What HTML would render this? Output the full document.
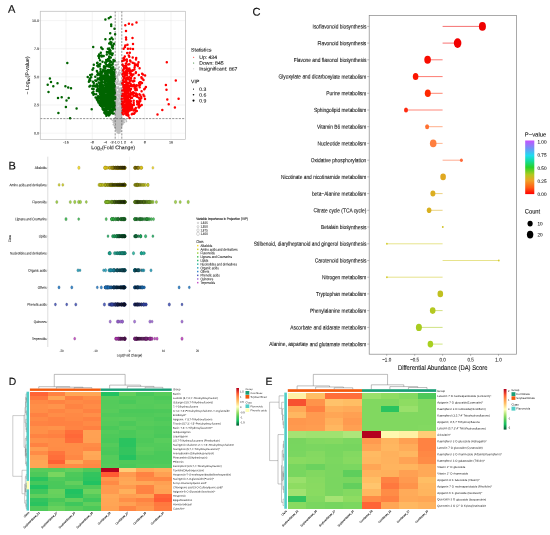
<!DOCTYPE html><html><head><meta charset="utf-8"><title>Figure</title><style>html,body{margin:0;padding:0;background:#fff}svg{display:block}text{font-family:"Liberation Sans",sans-serif;fill:#111;text-rendering:geometricPrecision}</style></head><body>
<svg width="550" height="535" viewBox="0 0 550 535">
<rect width="550" height="535" fill="#fff"/>
<text transform="translate(8,12.8) rotate(0.05)" font-size="11" fill="#000"  stroke="#000" stroke-width="0.15">A</text>
<text transform="translate(8.4,169.5) rotate(0.05)" font-size="11" fill="#000"  stroke="#000" stroke-width="0.15">B</text>
<text transform="translate(252.4,15.6) rotate(0.05)" font-size="11" fill="#000"  stroke="#000" stroke-width="0.15">C</text>
<text transform="translate(8.7,385.1) rotate(0.05)" font-size="10.4" fill="#000"  stroke="#000" stroke-width="0.15">D</text>
<text transform="translate(265.6,385) rotate(0.05)" font-size="10.4" fill="#000"  stroke="#000" stroke-width="0.15">E</text>
<g id="panelA">
<rect x="40.2" y="11.2" width="145.2" height="128.2" fill="#fff" stroke="#c2c2c2" stroke-width="0.5"/>
<path d="M66 11.2V139.4M92.3 11.2V139.4M118.5 11.2V139.4M144.7 11.2V139.4M171 11.2V139.4M40.2 133.2H185.4M40.2 105H185.4M40.2 76.9H185.4M40.2 48.7H185.4M40.2 20.6H185.4" stroke="#e6e6e6" stroke-width="0.45" fill="none"/>
<path d="M118.3 131h0M118 127.8h0M120.5 125.8h0M118.7 131.9h0M120 121.1h0M119 72h0M120.3 118.9h0M118.1 120.6h0M119.2 128.7h0M119 115.4h0M118.8 111.2h0M118.8 132.3h0M120.4 128.6h0M117.3 109h0M116.9 99.6h0M120.8 106.8h0M121.5 113.2h0M118.5 127.1h0M118.1 132.6h0M119 95.8h0M119.7 112.6h0M118.2 104.9h0M118.3 72.9h0M119.8 117.6h0M117.2 84.3h0M121.2 123.4h0M118.6 131.5h0M120 122h0M120.3 120.4h0M115.1 126.6h0M117.1 87.1h0M117.6 127.9h0M116.3 68.7h0M118.6 129.8h0M115.4 113.8h0M120.2 127.8h0M119.7 70.3h0M118.2 124.2h0M120.8 94.7h0M117.9 110.7h0M117.8 123.9h0M118.6 132.2h0M118.9 132.4h0M119.2 131h0M120.3 120.4h0M117 116h0M120.5 127.9h0M118.4 108.7h0M119.6 131.7h0M118.8 129.3h0M116.7 119.3h0M118.3 131.1h0M118.3 118.9h0M117 99.8h0M118.7 130.8h0M116.8 112.3h0M120.4 83h0M116.8 97.3h0M116.8 128h0M118.4 132.8h0M118.2 69.1h0M117.7 78.8h0M119.3 129.9h0M116.9 130.2h0M119.5 108.3h0M119.5 117.2h0M120.1 94.5h0M117.1 130.6h0M120.4 112.2h0M117.9 110.6h0M116.4 98.2h0M119.8 131h0M115.4 121.1h0M117.6 101.7h0M120.8 131.3h0M121.2 106.8h0M119.3 120.4h0M117 114.8h0M117.8 129.7h0M118.2 131.3h0M118.2 111.7h0M118 81.6h0M118.7 107.6h0M118.1 132.9h0M119.2 121.5h0M118.1 126.3h0M116.1 125.6h0M116 94.4h0M117.1 114.1h0M118.9 107.4h0M118.1 80.2h0M118.6 107.5h0M118.7 109.1h0M116.3 119.4h0M118.9 113.8h0M116.2 89.7h0M115.2 126.7h0M120 129.7h0M116.3 82.7h0M116.3 101.5h0M116.8 64.5h0M118.4 110.6h0M116.4 90.4h0M119.8 125.7h0M117.8 130.3h0M121.5 125.1h0M118.1 132.9h0M119.4 132.3h0M121.4 94.1h0M120.5 129.3h0M118.9 131.3h0M119.6 119.9h0M116.1 119.7h0M115.9 99.6h0M117.6 123.1h0M120.4 102.7h0M119.1 120.7h0M115.7 120.6h0M117.1 77.4h0M119 125.5h0M118.6 131.6h0M118.9 128.6h0M117.7 122.1h0M120.1 128.1h0M120.3 129.5h0M118.3 115.3h0M120.5 116.8h0M118.8 126h0M118.5 110.7h0M120.6 104.3h0M117.9 102.6h0M118.7 132.4h0M116.4 113.9h0M119.4 120.9h0M117.1 101.1h0M117.8 128.9h0M118.7 129.3h0M118.8 61.8h0M117.3 119.1h0M119.8 127.6h0M119.2 125.8h0M119.8 129.3h0M118.8 127.4h0M118.6 129.8h0M120.1 106.7h0M120.9 98.7h0M119.3 128.4h0M115.7 102.3h0M119.3 83.5h0M116.3 92.2h0M118.4 125.8h0M120.5 92.8h0M119.6 83.4h0M115.6 114.4h0M120.7 127.9h0M119.3 103h0M115.4 108h0M118.5 96.8h0M121.3 123.5h0M118.5 122.4h0M119.5 122.5h0M121.6 122.4h0M118.2 126.2h0M119.2 95.6h0M116.3 117.3h0M117.3 122.3h0M119.4 132.3h0M117.2 123.4h0M115.8 125.6h0M121.3 126.4h0M123.7 118.9h0M118.2 118.3h0M118.2 64.2h0M119.2 130.1h0M118.6 116.2h0M120.5 116.3h0M117.7 120.2h0M121 114.4h0M119.3 132.8h0M118.5 128.8h0M117.4 128.2h0M123.3 122.2h0M121.2 116.5h0M117.2 82h0M120.6 127.4h0M118.5 126.9h0M119.6 132.5h0M122.4 119.5h0M117.7 129.3h0M118.3 119.2h0M119.3 92.2h0M118.8 74h0M119.9 117.8h0M117.1 122.2h0M116.3 119.6h0M117.7 126.3h0M119.5 107.7h0M119.9 125h0M118.8 130.8h0M116.8 107.7h0M116.3 99.8h0M118.9 131.9h0M118.5 131.9h0M120.1 84.2h0M119.7 127.1h0M118.2 127.7h0M119.6 119h0M115.9 125.8h0M116.8 129.2h0M114.8 127.3h0M115.5 86h0M120.6 122.8h0M119 108.5h0M121.1 127.5h0M116.9 62.1h0M117.8 130.9h0M122.2 123.2h0M118.2 95.7h0M120.3 117.9h0M116.6 119.7h0M116.2 112.9h0M118.1 123.9h0M117.6 125.5h0M116.8 110.8h0M117.3 118.4h0M114 119.2h0M116.7 129.8h0M117.6 119.1h0M117 125.9h0M117 110h0M116.8 77.7h0M116.7 128.3h0M120.6 121.5h0M116.7 107.5h0M120.5 112.7h0M118.6 130h0M116.6 107.8h0M117.2 127.1h0M116.3 71.7h0M119.1 130.1h0M118.4 132.3h0M122.5 120.1h0M117.4 76.3h0M114.8 119.5h0M119.5 118.1h0M118.1 127.7h0M119.1 129.1h0M125 119.2h0M121.1 128h0M118.1 91.4h0M115.7 126.3h0M120.8 127.9h0M117.9 118.1h0M115.6 95.6h0M119 132.3h0M117.5 82.5h0M117.2 119.2h0M119.9 113.8h0M120.5 129.2h0M121.3 102.7h0M118.5 129.8h0M121.8 119.2h0M118 126.9h0M121 119.6h0M120.2 91.3h0M117.4 112.3h0M123.2 121.7h0M118.5 130.3h0M118 132.7h0M121.5 112.3h0M115.9 107.5h0M118 125.9h0M116.8 127.1h0M120 100.9h0M116.1 101.3h0M118.9 113.1h0M119.1 122.4h0M119.1 131h0M117.4 105h0M115.8 118.7h0M121.6 101.9h0M118.4 126.3h0M121.1 89.6h0M119.1 128.9h0M121.2 104.8h0M119.9 120.5h0M119 129.4h0M113.3 124.5h0M117.7 114.7h0M118.5 130.2h0M115.5 115h0M121.9 123.3h0M119.2 128.6h0M119.7 132.3h0M116.4 127.4h0M118.1 130.8h0M117.1 110.3h0M116.8 119.2h0M120.4 127.1h0M116.6 103.4h0M115.4 115h0M120.5 109.9h0M116.6 120.3h0M118.8 125.1h0M115.9 80.6h0M118.5 111.3h0M115.7 129.1h0M117.9 126h0M116.6 64.8h0M122.4 119.4h0M117.9 119.6h0M114 120h0M114.8 121.7h0M120.2 127.3h0M116.9 130h0M117.8 125.6h0M119.4 122.6h0M118.9 117.9h0M120.6 117.9h0M115.6 124.4h0M117.8 127.1h0M119.5 109.8h0M120.8 126.8h0M118.7 129.8h0M118.2 94.7h0M119.2 126.3h0M118.8 131.9h0M121.1 125.7h0M119.5 122.5h0M115.7 107.3h0M119.3 127.7h0M120.5 88.1h0M117.9 118.8h0M120.3 119.2h0M115.8 76.5h0M117.7 122.1h0M117.6 120.1h0M121.9 125.8h0M117 114.9h0M119.3 128.5h0M119 119.5h0M116.4 83h0M118.7 116.6h0M120.8 111.5h0M120.9 104.9h0M116 118.7h0M121.6 113.7h0M120.1 111.5h0M117.8 130.6h0M120.5 117.8h0M121.6 123.8h0M115.4 112.7h0M118.4 131h0M118.6 109.6h0M116.8 116.3h0M115.4 118.2h0M118.1 131.6h0M116.7 104.5h0M116.2 108.4h0M116.3 114.2h0M119.8 123.9h0M117.9 94.5h0M118 133h0M116.1 123.7h0M118.2 119.5h0M118.7 117.9h0M117.7 129.7h0M122.1 121.8h0M116.6 116.1h0M119.4 107.4h0M117.3 115.5h0M118.6 132.5h0M119.8 94.5h0M118.4 120.8h0M116.8 109.1h0M117.3 129.8h0M118.5 128.3h0M117 99h0M120.3 109.5h0M116.7 129.3h0M116.7 65.7h0M117 118.3h0M122.7 122.3h0M116.7 120.3h0M119.8 129.7h0M121.5 101.3h0M116.1 120.9h0M118.1 87.8h0M117.3 105.2h0M122.9 124.1h0M119.2 132.8h0M117.4 119.6h0M118.8 132.6h0M119.7 102.7h0M119.1 117.5h0M121.2 121.2h0M112.4 120.5h0M116.1 73h0M120 131.6h0M120.5 102.7h0M116 113.2h0M119.7 122.1h0M118.3 128.5h0M118.6 129.1h0M117.4 111.3h0M120.7 107.5h0M118 118.1h0M116 121.9h0M119.8 130h0M120.5 117.1h0M118.8 133.2h0M118.4 118.5h0M123.2 121.5h0M116.5 126h0M123.9 119.4h0M118.1 130.1h0M115.9 123.9h0M116.8 121.7h0M117.9 111.6h0M113.1 120.2h0M120.7 120.2h0M118.9 120h0M119.3 127.6h0M117.5 125.4h0M119.4 96.5h0M120 128.4h0M116.4 97.2h0M123 121.9h0M118.3 116.4h0M116.6 114.3h0M119.3 122.9h0M118 129.6h0M119.4 125.6h0M121.2 118.9h0M121.4 116.9h0M121.2 127.6h0M116.6 109.6h0M116.7 116.8h0M118.4 132.7h0M117.3 121.6h0M116.3 108.8h0M120 110.4h0M119 109.7h0M116.8 109.9h0M120.2 85.1h0M119.6 88.4h0M117.3 109h0M118 116.9h0M119.3 98.9h0M116.7 127h0M115.6 124.1h0M119.5 115.4h0M118.4 110.8h0M118.8 117.9h0M120.8 121.8h0M116 107h0M119.9 106.3h0M119.9 123.8h0M114.8 119.3h0M115.2 123.2h0M122.4 118.8h0M118.4 132.4h0M120.1 127.1h0M117.3 123h0M120.2 122.3h0M116.7 106.8h0M116.7 110.7h0M120 121.8h0M115.8 125h0M115.4 119.1h0M118.3 91.9h0M120.8 125.2h0M114.9 121h0M120.8 127.7h0M118.5 127h0M116.9 113.4h0M118.6 126.2h0M117.3 123.9h0M115.7 88.2h0M120.3 81.3h0M116.1 121h0M115.5 118.3h0M116.9 101.7h0M118.7 131.1h0M120 131h0M116.4 93.8h0M120.3 103.8h0M120.3 83.2h0M119.7 115.1h0M113.3 122.3h0M116.8 113.7h0M119.9 126h0M119.8 126.4h0M120.3 125.3h0M120.6 118.5h0M116.5 125h0M115.8 127.1h0M119.4 117.3h0M119.2 118.1h0M117.4 76.3h0M118.4 107.3h0M119.9 118h0M120.8 112h0M115.5 126.3h0M118 126.8h0M119.3 125.1h0M118.5 110.4h0M117.1 125.8h0M120.3 101.8h0M118 128.6h0M115.6 94.4h0M118.8 84.4h0M120.1 128.8h0M119.7 130.4h0M121.1 94h0M119.3 103.4h0M119.6 104.3h0M116.9 123.4h0M119.9 122h0M119.6 121.9h0M117.7 101.8h0M118.9 94.2h0M117.5 128.8h0M119.5 123.8h0M118.9 117.7h0M118.9 131.5h0M115.5 109.2h0M115.8 124.5h0M118 98.8h0M118.8 123.8h0M118.9 133.1h0M121.4 116.5h0M118.9 120.5h0M120 114.2h0M118.6 132.5h0M120.7 98.9h0M119.3 117.2h0M121.2 108.8h0M118.4 119.1h0M118.1 123.7h0M117.3 117.3h0M120.7 115.7h0M117.9 132.3h0M120.9 123.3h0M115.8 121.5h0M117.8 110h0M120.3 72.9h0M115.8 113.1h0M120.5 99.4h0M120.9 124.3h0M119.1 90.5h0M119.7 126.9h0M121 104h0M115.4 113.3h0M117.5 127h0M120.9 91.9h0M120.8 121h0M120.7 113.5h0M121.1 100.4h0M117.1 132h0M116.6 93.4h0M116.8 76.2h0M118.3 100.7h0M118.5 129.5h0M117.2 131.9h0M116.8 95.2h0M120.9 82.7h0M117.5 126.2h0M118.2 130.6h0M118.9 111.5h0M118.8 125.6h0M116 111.2h0M116.4 94.2h0M118.6 111.9h0M118.7 132.7h0M118.4 86.9h0M120.2 113.8h0M119.2 119.3h0M115.6 113.9h0M116.7 130.6h0M117.2 132.5h0M116 119.3h0M119.1 117.5h0M119.1 131.4h0M121.3 102.4h0M118.2 110.7h0M117.8 119.1h0M115.6 114.6h0M121 128h0M120.3 117.8h0M121.5 102.2h0M117.4 131.1h0M119.6 74.4h0M118.6 124.5h0M118 129.4h0M119.2 126.2h0M120.1 123.3h0M118.7 122.7h0M121.2 114.6h0M116.3 84h0M118.7 131.8h0M119.3 89.4h0M119.2 128.2h0M116.8 116.1h0M115.8 122.8h0M120.8 116.1h0M119.2 127.2h0M116.4 112.1h0M119.4 128.5h0M121.5 116.7h0M117.4 120.1h0M117.8 129h0M116.5 130.2h0M116 77.7h0M126.1 120.1h0M116.5 122.6h0M126.4 121.4h0M120.1 131.1h0M118.5 130.5h0M119.4 119.9h0M119.7 130.6h0M116.6 99h0M117.8 131.9h0M117.7 130.2h0M120.4 99.2h0M115.8 115h0M119.9 110.3h0M115.6 121.3h0M115.5 107.9h0M120.8 108.4h0M120.1 130.5h0M116.4 111.4h0M121.2 124.5h0M118.6 125.7h0M120.6 122.7h0M113.7 122.8h0M123.7 122.2h0M118.6 107.8h0M120 125.3h0M118.9 119h0M119.2 129.5h0M116 118.1h0M115.5 115.1h0M118.6 105h0M120.8 116.9h0M116.2 117.8h0M118.3 125.9h0M118.9 131.2h0M116.3 87.4h0M116.4 96.9h0M117.8 74.8h0M115.5 120.9h0M117.5 94.9h0M118.3 128.3h0M121.2 118.8h0M115.7 88.9h0M111.2 119.2h0M118 114h0M118.7 111.4h0M118.2 126.9h0M118.5 119h0M119.3 75h0M120.9 84.6h0M118.1 123.8h0M121.5 125.3h0M116.9 103.3h0M119.8 126.9h0M117.9 123.7h0M121 124.5h0M117.9 126.4h0M118.8 131h0M119.1 127.2h0M119.7 129.6h0M118.9 103.7h0M119.8 115h0M119.8 125.2h0M117.3 108.6h0M117.5 130h0M117.6 118.4h0M118.9 114.3h0M118.4 129h0M120.2 113h0M119 132.2h0M117.3 127.5h0M120 122.4h0M116.3 97.4h0M119.1 128h0M120.7 103.5h0M120 107.1h0M118.3 96.1h0M121.1 99.1h0M123.9 120.5h0M121.4 107.7h0M120.3 110h0M117.7 103.8h0M118.6 126.5h0M117.8 113.1h0M117.4 110.9h0M118.5 88.7h0M118.3 130.5h0M115.9 104.8h0M120.6 112.4h0M116.7 68.3h0M120.3 119.9h0M117.8 132.5h0M118.7 95.2h0M118.6 107.1h0M117.6 110.8h0M121.3 111.7h0M116 106.8h0M117.8 127.3h0M120.9 105.1h0M118.1 108h0M118.7 104.3h0M117.4 115.6h0M118.6 91h0M116.3 120.1h0M118 84h0M116.4 129h0M119 125.8h0M117.6 104h0M115.6 102.6h0M120.2 121.7h0M120.7 123.1h0M119.5 104.7h0M118.5 125.9h0M119.4 113.7h0M115.1 118.6h0M118.1 130.9h0M116 116.8h0M119.7 125.6h0M115.5 117.6h0M119.8 112.4h0M117.3 130.7h0M119.4 131.7h0M117.2 126.6h0M119.2 132.4h0M119.2 109.4h0M117.9 132.6h0M117.3 88.2h0M117.3 91.9h0M118.5 67.8h0M117.8 114.2h0M117.3 114.6h0M120.3 108.1h0M118.1 130.7h0M118.9 113.1h0M119.5 125.4h0M119.2 127.3h0M116.9 111.7h0M118.8 129h0M118.2 132.7h0M116.5 122.9h0M118.8 129.3h0M117.1 121h0M117.6 115.8h0M121.4 111.1h0M116 119.3h0M118.5 131.3h0M121 113.8h0M116.9 111.3h0M120.8 114.8h0M117 125.7h0M119.5 110.9h0M117.8 112.7h0M118.3 130.6h0M119.5 112.5h0M116.9 125h0M119.1 132.2h0M119.7 129.9h0M120.3 127.3h0M120.9 95h0M117.1 116.3h0M117.3 123.3h0M116.6 123.6h0M120.7 114.1h0M119 124h0M119.8 97.7h0M118.8 132.6h0M118.2 130.3h0M119.7 128.6h0M120.6 115.4h0M117 98.7h0M118.4 123.2h0M117.2 94.9h0M118.6 120.7h0M116.9 117.8h0M120.1 121.6h0M119.7 117.1h0M124.4 122.3h0M115.9 113.4h0M121.2 109.9h0M120.6 97.4h0M115.7 109.1h0M118.6 109.7h0M120.1 116.4h0M119.2 122.9h0M115.9 119h0M116.9 106.2h0M117.7 128h0M118.8 131.2h0M116.9 101.1h0M114.3 125.7h0M119.5 128.8h0M118.9 116.1h0M113.7 121.3h0M117.3 123.4h0M120.2 108.8h0M117.2 116.6h0M119.3 130.2h0M119.3 122.9h0M118.1 131.5h0M119.4 130.7h0M119.6 133h0M118.3 122.7h0M116.1 105.5h0M119.3 126.8h0M122.4 119.7h0M121.2 103h0M116.9 114h0M118.7 132.8h0M116.7 130.5h0M121.2 89.1h0M120.8 121.7h0M117.1 130.5h0M117.7 112.5h0M120.6 111.3h0M117.6 132.6h0M121 99.3h0M118.5 107.8h0M117.8 128.8h0M119.7 117.2h0M119.2 126.7h0M118.4 126.8h0M123.6 122.6h0M118 94.2h0M118.6 123.5h0M117.6 127h0M121 91h0M119.7 128.9h0M117.7 125h0M119.2 128.5h0M124.5 119h0M119.2 67.1h0M119.6 117.6h0M118.9 113h0M119.4 108.2h0M117 128.2h0M116.6 118.1h0M115.9 109.2h0M119 111.2h0M116.7 125.4h0M118.1 130.6h0M116.1 106h0M116 114h0M117.1 129.5h0M118.7 124.8h0M117.8 125.7h0M118.3 132.1h0M113.7 120.6h0M121.6 116.6h0M120.6 116.9h0M118 130.7h0M120.2 105.5h0M120.5 121.8h0M118.7 133h0M117.3 114.8h0" stroke="#bebebe" stroke-width="1.7" stroke-linecap="round" fill="none" opacity="1"/>
<path d="M111.5 92.6h0M100 104.9h0M97.3 74.7h0M104.4 105.5h0M100.3 100.8h0M111.2 95.5h0M108 65.8h0M114.5 103.2h0M113.9 44.1h0M113.1 99.5h0M103.2 102.1h0M106.3 90h0M114.8 93.1h0M106.5 110.5h0M100.4 96.4h0M110 80.8h0M101.8 91.4h0M93.5 94.7h0M97.2 71.7h0M104.3 109.2h0M109 84.1h0M110.3 92.2h0M114.7 86h0M103.8 102.1h0M109.4 61h0M108.7 76.5h0M111.3 53.4h0M113.2 102.4h0M99 89.3h0M102.8 70.4h0M97.5 74.9h0M92.3 92.7h0M111.2 26.1h0M110.8 57.6h0M113.7 93h0M103 85.3h0M102.5 93.3h0M111.7 45.2h0M103.3 69.5h0M97.1 63.1h0M109.2 96.1h0M114.6 69.7h0M114.1 109.2h0M104.2 103.3h0M101.7 48.2h0M101.4 78h0M102 97.6h0M107 100.2h0M101.5 77.6h0M109.9 93.2h0M99.9 86h0M111.5 107h0M105.4 87.4h0M114.3 94h0M112.3 104.1h0M111.3 103.4h0M105.5 92h0M109.8 96.9h0M113.7 88.8h0M99.7 79.6h0M107.7 88.1h0M107.9 88.7h0M102.7 97.4h0M108.1 100.5h0M101.4 94.1h0M115.1 34.2h0M102 90.5h0M107.8 73.9h0M109 79.7h0M102.5 61.7h0M110.7 81.1h0M111.4 85.5h0M111.7 106.2h0M92.8 86h0M107.7 65.2h0M108.2 98.3h0M108.7 113.5h0M103.8 101.6h0M109.8 98.1h0M112.8 87.9h0M108.2 95.2h0M101.3 92h0M103.5 100.9h0M96.2 81h0M114.1 85.4h0M106.2 86.8h0M105.3 68.1h0M113.8 78.9h0M110.7 107.1h0M103.9 66.9h0M113.5 88.2h0M108.8 115.6h0M109.8 94.2h0M105.3 110h0M104.7 85.3h0M103.4 110h0M104.8 78h0M109.8 95.4h0M92.9 85.9h0M106.8 109.4h0M101.6 75.4h0M110.8 103.5h0M110.9 106.7h0M100.9 103h0M110.5 93.9h0M111.7 93.6h0M111.8 111.7h0M101.6 79.5h0M106.3 87.4h0M112.4 104.9h0M104.9 92.3h0M105.6 106.8h0M104.6 103.8h0M110.6 111.8h0M113.6 86.2h0M113.2 106.6h0M94.1 85.4h0M105.2 70.6h0M103.6 90.7h0M111.6 37.7h0M111.8 83.1h0M112.3 102.4h0M105.4 100.5h0M110.9 98.2h0M105.5 113.9h0M105.8 77.5h0M110.5 103h0M114 81.6h0M103.5 75.4h0M110.3 73.4h0M92.2 88.8h0M110.3 67.1h0M111.9 99.3h0M93.8 83h0M101.7 72.7h0M98.4 102.5h0M100.4 104.1h0M110.2 98.6h0M106.5 83.4h0M99.8 89.7h0M93.6 88.9h0M101.1 92.7h0M92 74.6h0M108.8 91.9h0M102.3 107.2h0M109.9 91.5h0M105.6 82.4h0M111.2 102.5h0M108.5 79h0M100.6 72.8h0M100.8 90.7h0M100.2 83h0M89.8 78.6h0M109 103.6h0M103.6 89.7h0M101.5 55.5h0M107.2 70.4h0M105.2 102.5h0M111.5 109.8h0M108 94.4h0M111 86.9h0M110 90.1h0M109.9 39.2h0M109.2 56.4h0M100.4 96.3h0M109.6 97.1h0M113.7 77.9h0M110.3 79.3h0M100.1 94.6h0M99.5 89.6h0M97 89.7h0M108.6 81.3h0M108.7 88.5h0M87.7 76.9h0M100.4 82.8h0M102.5 108.7h0M110.8 106.7h0M108.4 108.3h0M102 96.3h0M106.7 99.1h0M108.7 77.7h0M89.3 80.2h0M105.5 109h0M98 89.2h0M92.8 93.3h0M113.1 104.2h0M100 85.9h0M111.2 95.9h0M97.4 86.9h0M99 96.8h0M99.1 57.9h0M108.5 72h0M109.3 101.8h0M106.5 105.9h0M112.5 82.3h0M106.9 90.2h0M114.5 76.3h0M113.1 72.8h0M105.9 100.1h0M112.6 104.7h0M106.5 71.6h0M106.9 84.8h0M100.4 98.2h0M99.5 103.7h0M102.9 98.3h0M110.5 50.8h0M112.7 110.2h0M100.4 71.4h0M110 113.5h0M112.6 63.3h0M111.6 106h0M115 78.7h0M105.5 75.5h0M104.4 89.4h0M90.3 85.7h0M101.2 87.5h0M108.5 60.5h0M112.6 94.8h0M111.8 105.5h0M102.9 85.8h0M102.6 49h0M100 87.4h0M111.3 86.7h0M110.2 92.2h0M112.7 39.3h0M109.8 88.5h0M110.5 54.1h0M109.2 91.2h0M104.8 80.1h0M110.8 97.1h0M106.9 65.7h0M110.2 112.3h0M110.9 75.8h0M103 94.7h0M108.3 105.5h0M109.8 101.6h0M109.3 65.8h0M112.7 92.6h0M114 99h0M111.7 76.2h0M111.3 106.5h0M108 77.6h0M108.3 105.6h0M108 99.1h0M110.7 91.3h0M106.2 110h0M114 105.3h0M112.3 101.9h0M106.9 108.6h0M106.2 78.8h0M110.6 78.2h0M112.5 81.1h0M111.5 99.7h0M110 85.5h0M113.1 94h0M100.7 105.1h0M106 114.6h0M105.2 84.9h0M104.7 82.9h0M101.2 47.5h0M110.6 99.5h0M106.9 100.9h0M103.4 89.1h0M114.5 98.6h0M105.3 83.4h0M102.2 99h0M109 92.5h0M114.2 102.5h0M115.2 97.2h0M104 104h0M112.3 103.3h0M105 98.5h0M103.3 88.7h0M109.6 88h0M112.3 69.4h0M111.1 101.4h0M110.1 91.2h0M97.1 84.8h0M110.5 88.7h0M110.6 96.8h0M112 88h0M103.4 77h0M99 101.8h0M114.3 102.6h0M95.6 97.4h0M104.7 96.4h0M112.4 93h0M109.1 84.3h0M111.6 72.8h0M110 60.7h0M111.2 78.4h0M111.7 90.1h0M110.5 76.2h0M103.9 100.8h0M112.5 98.2h0M101.6 73.7h0M110.6 41.9h0M109.1 109.6h0M106.4 105.1h0M105.1 62.4h0M107.9 97.5h0M110.7 84.4h0M95.3 86.4h0M112.5 71.6h0M113.8 85.2h0M109.4 57.4h0M112.9 106.7h0M113.5 105.9h0M111.6 101.9h0M107.1 104.8h0M106.2 74.7h0M110.2 84.9h0M111.8 93.8h0M91.2 77.2h0M108.9 91.3h0M108.5 105.7h0M101.7 56.6h0M101 80h0M113.6 79.3h0M108.7 106.3h0M114.1 98.9h0M113.2 100.5h0M107.6 72h0M106.2 60h0M103.7 76.1h0M105.1 88.3h0M100.6 91.5h0M112.2 111.5h0M107 87.5h0M96.9 99.4h0M108 94.8h0M97.6 79.4h0M104 101.3h0M104.3 112.8h0M111.9 47.6h0M110.1 88h0M106.3 115.7h0M98.4 98.4h0M105.2 74.8h0M111 61.8h0M113.5 86.6h0M113.2 67.2h0M101.6 92.9h0M110.3 102.6h0M102.3 102.5h0M112.9 94.1h0M111.3 86.8h0M105.9 84.8h0M103.2 102.1h0M99.1 89.1h0M114.7 60.8h0M107 78.8h0M108.7 79.2h0M114.1 84.2h0M108.3 92.2h0M106.1 90h0M108.2 91.4h0M104.6 93.1h0M111.6 113h0M113.4 103.4h0M113.4 60h0M111.1 106.8h0M114.2 72.2h0M111.6 74.2h0M107.8 98.6h0M111.4 103.1h0M104.8 111.6h0M93.8 86.1h0M102.9 89.5h0M104 101.8h0M92.9 81.8h0M93.3 68.2h0M107.5 73.7h0M94 93.9h0M110 102.7h0M105.8 103.3h0M103.7 76.2h0M109.8 61h0M101.3 83.3h0M110.8 96.1h0M103.7 56.1h0M107.6 84.7h0M101.7 97.7h0M113.9 107.2h0M106.3 62.1h0M112 105h0M105.6 102.4h0M106.1 97.7h0M110.7 73.9h0M95.3 80.5h0M100 98.6h0M107.5 104h0M105.7 91.1h0M108.2 76.6h0M107.9 94.2h0M110.9 95.8h0M104 66.3h0M108.4 94.9h0M110.3 78.9h0M105.4 39.3h0M100.1 87.6h0M109.2 115h0M111 93.6h0M107.5 108.7h0M100.8 72.9h0M111.6 79.1h0M111.9 103.3h0M105.5 78.3h0M104.5 109.4h0M110.4 98.1h0M110.3 84.4h0M108.8 99.2h0M105.5 74.7h0M108.9 70.4h0M109.3 103h0M102.1 82.4h0M100.5 69.1h0M107.7 107.2h0M110 99.2h0M99.7 102.9h0M104.5 82.7h0M111.1 83.2h0M105.9 66.3h0M113.5 61.5h0M108.3 96.2h0M112.4 110.8h0M109.1 51.2h0M111.1 84h0M108.1 76.1h0M109.8 82.6h0M100.7 80.6h0M110.2 82.1h0M109.6 63.4h0M97.7 86h0M110.5 69.8h0M114 81.1h0M110.5 105.8h0M97.3 91.1h0M107.2 102.8h0M108.9 100.8h0M108.1 89.4h0M107.8 114.6h0M114.3 74h0M111 76.2h0M109 93.5h0M102.9 104.9h0M109.2 91.4h0M112.4 98.2h0M110.3 90.6h0M106 109.7h0M110.6 52.7h0M107.9 106h0M96.4 85.4h0M112.8 87.3h0M109.6 81.7h0M111.5 83.3h0M108.8 78.1h0M112.9 91h0M101 93.4h0M107.3 91.5h0M111.6 68.7h0M110.5 85.7h0M108.1 112.1h0M100.2 84.7h0M111.4 65.3h0M112 102h0M109.2 104.2h0M102.4 94.5h0M106.8 77.8h0M108.3 70h0M113.9 96.7h0M111.4 81.4h0M90.3 80.5h0M111 92.8h0M108.8 108.3h0M112.3 95.3h0M106.9 96h0M102.5 103.6h0M106.4 85.8h0M96.9 97.8h0M107.7 99.5h0M108.2 82.8h0M97.6 88.9h0M111.7 84.8h0M98.1 96.3h0M106 76.9h0M90.2 74.9h0M112.2 95.4h0M100.3 101h0M107.4 103.3h0M111.8 77h0M106.1 86.8h0M113.8 77.6h0M110.7 94.6h0M110.6 70.4h0M106 70.9h0M110.2 97.5h0M105.8 94.9h0M114.7 105.8h0M96.2 94.3h0M106.8 54.4h0M111.3 69.1h0M103.7 78.6h0M101.5 86.7h0M103 104.5h0M109.6 94.6h0M98 101.5h0M105.5 104.9h0M109.4 90.3h0M110.6 93.7h0M96.3 86.2h0M105.1 98.3h0M107.3 86.5h0M109.4 94.9h0M114.3 104.6h0M110.6 107h0M110.4 110.3h0M112.7 88.8h0M113.3 76.1h0M109.8 101.1h0M109.7 95h0M112.4 82.6h0M108.1 97.3h0M110.1 100.7h0M100.8 84.5h0M111.1 89.8h0M108.1 59h0M103.8 101.1h0M109.2 48.5h0M100.5 102.9h0M110.8 106.2h0M98.4 96.7h0M114.5 90.4h0M115.1 98.8h0M98.7 82.6h0M109.6 90.9h0M98.7 65.1h0M111.7 96.8h0M111.1 77.3h0M102 77.8h0M112.6 63.7h0M100.8 52.7h0M99.9 104.6h0M106.7 72.1h0M113 113.5h0M107.4 88.4h0M105.8 70.7h0M109 87.9h0M103.5 90.2h0M102.3 79.8h0M105.7 106.2h0M103.6 95.2h0M102.4 79.7h0M103.9 77.9h0M114 79h0M106.1 80.4h0M109.1 109.3h0M114 90.4h0M99 74.5h0M105.2 92.4h0M109.9 79.3h0M113.3 102.9h0M109.3 76.7h0M112.7 53.6h0M99.9 77.8h0M110.2 104.1h0M113.1 106.9h0M112.9 68.8h0M106.7 92.7h0M99.2 90.1h0M109.7 99.6h0M109.7 71.4h0M108 77.8h0M110.1 106.1h0M107 84.1h0M101.7 94.5h0M109.6 85h0M106.1 103.9h0M101.6 88.5h0M114.1 43.8h0M110.8 85h0M111.1 90.7h0M103.6 91.3h0M113.2 76.5h0M108.5 102h0M103.2 87.7h0M109.1 86.4h0M104 109.8h0M108.6 52.3h0M104.8 108.7h0M109.4 78.9h0M106.7 101.2h0M92.5 69.8h0M111.1 67.9h0M112.6 98.7h0M114.5 28.8h0M109.4 64h0M108.5 77.3h0M113.9 99.4h0M100.6 71.6h0M97.6 100.1h0M103 100.5h0M108.7 92.2h0M103.6 106.6h0M114.5 93.8h0M107.1 112.7h0M110.8 91.2h0M111.3 76.9h0M109.3 53.4h0M104 93.3h0M112.6 64.5h0M105.6 100.8h0M107.2 101.1h0M113.7 105.2h0M104.9 72.9h0M112.2 55h0M108.8 100.4h0M112.6 106.2h0M98.1 66.4h0M113.7 90.2h0M106.2 94.9h0M114.1 107.8h0M100.2 64h0M114.4 86.9h0M114 96.5h0M103.4 88.5h0M114.9 109.5h0M99.4 83.5h0M105.3 104.3h0M107.3 98.3h0M101.3 82h0M108.9 104.8h0M113.9 83.9h0M99.3 56.1h0M110.9 75.4h0M111.5 42.6h0M112.3 105.9h0M104 70.4h0M107.1 87.3h0M108.3 87.6h0M114.4 89.5h0M109.6 93.6h0M110.4 64.8h0M107.9 48.7h0M112.4 85.6h0M113.3 108.6h0M102.4 76h0M108.7 93.6h0M108.9 105.6h0M102.2 92.6h0M112.2 102h0M102.3 81.8h0M103.3 97h0M111.1 99.6h0M107.7 89h0M112 91.6h0M106.4 100h0M108.8 79.7h0M110.8 79.2h0M110.2 96h0M93.8 64.8h0M111.6 80.8h0M103.3 98.1h0M110.1 105.2h0M108.4 95.1h0M112.9 110.7h0M108.5 87.1h0M110.2 72.3h0M105.3 101.9h0M105.2 78.9h0M113.7 113.4h0M111.9 95.2h0M99.7 66.2h0M111.7 93.9h0M111.6 104.6h0M104.3 89h0M112.8 80.3h0M103.7 97.4h0M107.5 106.3h0M99.5 92.5h0M109 58.2h0M104.2 96.4h0M112.9 46.1h0M104.6 78.6h0M112 71.2h0M99.5 98.4h0M111.8 80.9h0M96.7 84.3h0M100 60.3h0M108.3 66.4h0M105.8 103.3h0M98.5 90.8h0M112.2 77.6h0M110 107.8h0M89.4 86.5h0M112.2 104.7h0M109.8 80.8h0M100.3 75.3h0M97.5 62.7h0M109.6 85.1h0M111.2 24.6h0M105.8 96.5h0M114.8 92.2h0M112.4 92.8h0M108.9 101.8h0M103.2 109h0M97.6 90.8h0M104.7 78.3h0M103.6 97.3h0M114.3 91.2h0M110.4 70h0M113.1 92.2h0M113 48.4h0M104.8 81.5h0M97.7 78.5h0M111 112.6h0M103.7 101.2h0M110.4 108.1h0M112.5 86.9h0M109 84.5h0M107.6 93.6h0M111.2 72.5h0M96.8 91h0M102.5 84.7h0M99.8 87.8h0M104.1 99.2h0M97.3 65.7h0M101.2 100.2h0M109.3 58.3h0M107 81h0M111 88.4h0M108.4 79.8h0M110.2 111.3h0M102.6 105.7h0M107.8 88h0M100.3 94.2h0M114.3 92.2h0M107.3 61.1h0M88.9 81.7h0M95.3 76.7h0M109 87.1h0M99.1 54.6h0M103.7 77.8h0M112.7 104.8h0M98.4 73.6h0M98.1 73.3h0M103.9 96.6h0M110 109.3h0M104.6 71.5h0M105.7 97.2h0M110.1 93.6h0M108.4 113.3h0M97.3 100.1h0M105.5 105.2h0M102.3 72.4h0M108 113.8h0M113 102h0M111 43.9h0M103.7 98.6h0M112.6 101.3h0M109.8 71.6h0M111.5 103.4h0M103.2 77.9h0M113 98.2h0M104.8 87.9h0M98.4 55.9h0M106.9 52.1h0M105.8 63.7h0M110 83.2h0M106.7 112.5h0M104.8 106h0M113.2 86.6h0M105.6 89.9h0M114.3 92.1h0M108.2 90.1h0M106.9 75.5h0M108.8 76.6h0M96.9 71h0M109.8 99.2h0M105.9 105.3h0M105.6 102.4h0M103.7 103.2h0M106.3 96.9h0M98.1 74.2h0M113.6 102.4h0M112 76.5h0M106.2 62.2h0M113.2 86.2h0M106.6 85.8h0M109.7 114.5h0M112.7 87.8h0M110.6 98.9h0M107.9 91.9h0M113.9 80h0M103.5 93.4h0M110 50h0M112.3 104.5h0M102.1 96.9h0M112.4 74.4h0M101.1 105.9h0M93.4 91.8h0M103.5 77.9h0M108.2 77h0M101.6 76.6h0M106.2 113.2h0M109.2 43.5h0M109.6 82.1h0M110.6 82.9h0M110.2 33.2h0M106.8 102.6h0M47.7 84.7h0M49.9 78.5h0M51 81.9h0M48.5 92h0M53.3 86.3h0M57.5 83.3h0M58 98.1h0M61.7 97.3h0M65.4 86.3h0M68.2 87.5h0M71 88.3h0M67.3 63.1h0M68.7 98.1h0M66.5 100.4h0M65.9 107.1h0M58.4 113h0M70.1 118.3h0M76.6 108.5h0M91.7 109.3h0M93.2 47.1h0M105.4 19.5h0M108.8 18.2h0M110.6 17h0" stroke="#006400" stroke-width="2.5" stroke-linecap="round" fill="none" opacity="1"/>
<path d="M142 83.1h0M125.3 113.4h0M132 85.3h0M129.5 100.2h0M121.9 104.1h0M130.4 72.6h0M134.6 113.1h0M134.4 109.6h0M124.3 111.1h0M132.1 97.8h0M129.4 77.1h0M123.3 86.1h0M130 72.2h0M126.9 71.5h0M126.2 70.9h0M124.5 77h0M126.1 100.8h0M126.6 89.7h0M136.8 89.9h0M130.7 73.2h0M126.7 84.3h0M137.1 95.2h0M122.4 112.8h0M124.5 100.1h0M134.6 67.5h0M139.8 101.4h0M129.9 96.5h0M131 101.2h0M135.3 87.9h0M127.5 88.7h0M140.2 100.4h0M123 95h0M141.4 77.3h0M123.3 96.2h0M134 84.8h0M124.5 59.8h0M133.8 105h0M126.9 61.4h0M123.1 110.2h0M127.5 44.7h0M128.9 87.2h0M124.3 88.4h0M128.8 77.8h0M125.9 65.5h0M128.5 87.5h0M124.1 96.9h0M122.8 96.2h0M126.5 98.5h0M126.2 93.8h0M126.4 85.1h0M134.6 109.7h0M124.3 104.7h0M127.2 102.4h0M124.8 74.6h0M125.8 75.2h0M133.1 92.2h0M127.6 95.8h0M123.5 95.8h0M125.8 107.4h0M130.4 80.7h0M128.8 106.6h0M126.1 39.6h0M126.4 100.4h0M125.2 85.3h0M123.4 87.4h0M125.1 99.1h0M125.5 71.7h0M123.9 85.1h0M130.3 97.1h0M124.9 81.7h0M131.8 114.3h0M134.7 87.5h0M125.3 110.4h0M125.3 105.2h0M133.4 74.5h0M140.3 101.1h0M127.1 74.9h0M143.4 94.7h0M123.7 109.6h0M125.4 65.8h0M128.4 85.4h0M130.3 91.1h0M136.3 64.7h0M127.4 109.4h0M124.8 56.6h0M124.9 88h0M129.1 93.4h0M129.8 96.3h0M130 85.9h0M126.1 105.2h0M125.5 108.2h0M134.4 85.7h0M139.1 104.8h0M136.8 111.1h0M126.3 67.1h0M126.2 95.7h0M130.9 105.5h0M122.7 105.8h0M127.4 90.5h0M138.7 105.3h0M130.8 98.3h0M125 98.2h0M132 109.6h0M130.4 102.2h0M128.3 83.2h0M126.5 115h0M131.3 97.9h0M129.7 110.5h0M125.9 101.2h0M125.5 96.3h0M138.5 85.3h0M123.9 89.1h0M126.4 80.1h0M145 99.1h0M123.3 101.7h0M132 75.8h0M130.1 103.2h0M136.5 88.2h0M129 103.7h0M123.4 58.3h0M129.1 86h0M126 104.3h0M126.8 110.3h0M142.1 73.7h0M124.1 67.7h0M124.2 90.3h0M122.8 107.2h0M124.1 59h0M131.2 80.6h0M128.6 77.5h0M136.1 88.5h0M123.8 60.6h0M129.7 81.3h0M129.2 82.9h0M126.3 104.7h0M126.6 101.7h0M122.3 90.4h0M124.5 97.9h0M124 58.1h0M122.9 103h0M123.6 106.5h0M135.4 90.2h0M136.2 111.3h0M141.4 82.7h0M139.7 100.4h0M130.7 70.4h0M130.4 83.5h0M130.4 61h0M124 98.7h0M130 95.9h0M133.8 95.7h0M124.3 93.6h0M125.1 105h0M124.1 93.8h0M139.7 99.6h0M136.5 85.7h0M126.3 82.6h0M122.8 110h0M124.7 60h0M124.3 60.1h0M137.8 64.3h0M129.4 64.2h0M127.5 77.6h0M134.5 63.5h0M122.6 93.7h0M128.1 98.8h0M130.5 61.5h0M124.6 81.2h0M127.2 84.2h0M139.8 82.2h0M123.6 69.5h0M125.9 63.6h0M133.6 110.4h0M135.2 110.2h0M127.2 106.6h0M128.5 93.4h0M124.1 108.2h0M130.8 75.1h0M123.6 95.8h0M122.9 110.4h0M123.9 96.5h0M137 101.3h0M130.8 84.6h0M128.5 94.5h0M139.6 68.2h0M137.2 104.3h0M127.3 114.4h0M123.6 48.8h0M133 104.9h0M145.1 75.5h0M128.5 107.6h0M137.2 101.9h0M126.7 112.5h0M127.1 86.1h0M130.8 104.1h0M129.9 73.2h0M124.1 111.2h0M124.2 111.3h0M125.5 78.9h0M122.2 83.3h0M128.6 96.8h0M127.1 97.4h0M144.2 89.3h0M130 94.1h0M123.8 87.6h0M125 100.9h0M127.1 114.6h0M126.7 108.8h0M129.8 107.8h0M138.5 107.3h0M123.2 65.7h0M125.2 104.4h0M132.7 62.7h0M126.7 89.7h0M132.7 57.4h0M123.7 111.1h0M139.1 102.9h0M139 107.6h0M126 37.5h0M129.1 96.6h0M141.2 98.3h0M126.1 87h0M126.4 79.4h0M136.4 85.3h0M125.5 110.7h0M130.4 48.8h0M135.8 108.1h0M126.8 59.6h0M139.7 87.3h0M123.1 84.3h0M127.2 68.3h0M135.8 96h0M129.8 100.7h0M128 106.1h0M130.2 93.8h0M127.9 109.5h0M132.4 113.7h0M127.1 105.2h0M126.1 74h0M129.8 52.7h0M130.1 102.6h0M133.7 100.7h0M126.3 83.6h0M124.1 105.3h0M126.3 98.8h0M128.8 69.4h0M134.3 81.1h0M124.6 72.9h0M123.2 114.2h0M121.9 96.1h0M144.3 96.2h0M129 69.7h0M129.5 94.4h0M145.9 87.1h0M121.8 99h0M122.3 61h0M135.4 109.4h0M140.1 84.8h0M130.1 89.8h0M138.5 62.3h0M141.3 96.9h0M133 85.9h0M123.2 84.1h0M137.8 65.9h0M130.2 96.2h0M129.3 79.8h0M140.8 82.2h0M138.8 75h0M141.7 78.3h0M134.4 69.5h0M127.5 96.1h0M128.4 111.3h0M142.3 78.4h0M140.4 95.3h0M125.3 45.6h0M132.1 86.2h0M126 96.4h0M131.4 74.2h0M128.3 115.8h0M128.4 101.6h0M123.8 87h0M124.7 95.8h0M127.4 83.5h0M124.5 111.6h0M127.3 78.9h0M130.4 89h0M128.3 92.7h0M125.2 90.2h0M132.2 108.1h0M124.9 75h0M125.5 98h0M128.1 103.9h0M128.1 89.6h0M136.2 57.9h0M139 101.6h0M122.9 70.2h0M127.5 85.3h0M136 59.6h0M126.9 83h0M144.9 88.5h0M124.5 85.2h0M138.8 97.7h0M134 113.7h0M124.7 91.4h0M122.2 101.5h0M123 94.4h0M129.4 68.4h0M126.9 77.7h0M129.8 106.5h0M130.4 95.4h0M122.6 106.8h0M126.7 92.6h0M127.6 112.2h0M123.3 82.3h0M127.8 69.3h0M122.5 64.6h0M131.2 92.9h0M122.5 74h0M143.5 79.9h0M124 76.2h0M124.6 99h0M126.2 88.6h0M126.6 69.9h0M134.6 78.3h0M127.9 48.8h0M131 110.1h0M134.9 65.8h0M124.6 90.4h0M123.5 72.2h0M124.6 106.8h0M123.7 103.4h0M123.8 78.3h0M133.7 80.7h0M129.7 80.5h0M127.1 111.8h0M129.1 110h0M126.8 98.5h0M131.9 107.1h0M124.1 85.3h0M123.9 96h0M141.7 104.9h0M127.3 73.6h0M130.9 109.2h0M126.8 71h0M124.4 72.6h0M139.1 101.9h0M141.6 91.3h0M130.7 105.3h0M122.9 80.3h0M143 74.5h0M124.5 107.1h0M128.1 64.5h0M127 82.5h0M127.8 70.8h0M128.7 99.9h0M139.4 94.2h0M137.1 96.7h0M125.6 66.7h0M123 84.2h0M127.9 96.2h0M131.5 93.9h0M123.1 65.7h0M126.9 84.4h0M124.5 73.6h0M129.5 108.4h0M127 99.4h0M126.1 71.2h0M128.4 70.6h0M129 102.7h0M129.3 56.7h0M128.2 111.7h0M124.4 100.7h0M129.4 105.3h0M133.7 102.9h0M127.6 83.9h0M125.9 92h0M128 112.7h0M136 93.5h0M126 97.1h0M128 90.8h0M135.7 86.1h0M127.2 52.9h0M124.2 78.6h0M126.6 87.1h0M135.7 73.1h0M135.4 88.8h0M132.7 94.4h0M133.1 81.4h0M128.4 115.3h0M129.5 117.9h0M122.9 90.4h0M125.4 78.7h0M123.6 108.8h0M139.1 83h0M133.9 93.1h0M131 89.1h0M128.3 107.3h0M135.9 72.2h0M132.9 70.3h0M136.7 94h0M128.9 70.9h0M124 102.1h0M125.1 68.1h0M132.3 70.8h0M134.7 88.4h0M123.1 76.2h0M130.5 106.9h0M140.1 106.1h0M130 60.6h0M126.3 102.4h0M126.1 90.6h0M135.9 94.3h0M128.1 98.5h0M131.1 78.1h0M128.8 55.6h0M166.8 62.2h0M175.8 80.5h0M165.9 84.9h0M166.5 89.7h0M178.6 98.7h0M167.3 99.5h0M168.7 104.3h0M174.9 107.4h0M162.3 109.9h0M157.5 114.4h0M125.3 25.2h0M128.9 23.8h0M132.3 24.4h0M136.5 22.4h0M126 31h0M132.5 38h0M133 44h0M133 49h0M125 47h0" stroke="#ff0000" stroke-width="2.5" stroke-linecap="round" fill="none" opacity="1"/>
<path d="M115.2 11.2V139.4M121.8 11.2V139.4M40.2 118.6H185.4" stroke="#3a3a3a" stroke-width="0.55" stroke-dasharray="2.1 1.2" fill="none"/>
<rect x="40.2" y="11.2" width="145.2" height="128.2" fill="none" stroke="#c2c2c2" stroke-width="0.5"/>
<text transform="translate(39.1,134.5) rotate(0.05)" font-size="3.7" text-anchor="end" fill="#4d4d4d"  stroke="#4d4d4d" stroke-width="0.05">0.0</text>
<path d="M39.4 133.2h0.8" stroke="#777" stroke-width="0.3"/>
<text transform="translate(39.1,106.35) rotate(0.05)" font-size="3.7" text-anchor="end" fill="#4d4d4d"  stroke="#4d4d4d" stroke-width="0.05">2.5</text>
<path d="M39.4 105h0.8" stroke="#777" stroke-width="0.3"/>
<text transform="translate(39.1,78.2) rotate(0.05)" font-size="3.7" text-anchor="end" fill="#4d4d4d"  stroke="#4d4d4d" stroke-width="0.05">5.0</text>
<path d="M39.4 76.9h0.8" stroke="#777" stroke-width="0.3"/>
<text transform="translate(39.1,50.05) rotate(0.05)" font-size="3.7" text-anchor="end" fill="#4d4d4d"  stroke="#4d4d4d" stroke-width="0.05">7.5</text>
<path d="M39.4 48.7h0.8" stroke="#777" stroke-width="0.3"/>
<text transform="translate(39.1,21.9) rotate(0.05)" font-size="3.7" text-anchor="end" fill="#4d4d4d"  stroke="#4d4d4d" stroke-width="0.05">10.0</text>
<path d="M39.4 20.6h0.8" stroke="#777" stroke-width="0.3"/>
<text transform="translate(66.02,143.5) rotate(0.05)" font-size="3.7" text-anchor="middle" fill="#4d4d4d"  stroke="#4d4d4d" stroke-width="0.05">-16</text>
<text transform="translate(92.26,143.5) rotate(0.05)" font-size="3.7" text-anchor="middle" fill="#4d4d4d"  stroke="#4d4d4d" stroke-width="0.05">-8</text>
<text transform="translate(105.38,143.5) rotate(0.05)" font-size="3.7" text-anchor="middle" fill="#4d4d4d"  stroke="#4d4d4d" stroke-width="0.05">-4</text>
<text transform="translate(111.94,143.5) rotate(0.05)" font-size="3.7" text-anchor="middle" fill="#4d4d4d"  stroke="#4d4d4d" stroke-width="0.05">-2</text>
<text transform="translate(115.22,143.5) rotate(0.05)" font-size="3.7" text-anchor="middle" fill="#4d4d4d"  stroke="#4d4d4d" stroke-width="0.05">-1</text>
<text transform="translate(118.5,143.5) rotate(0.05)" font-size="3.7" text-anchor="middle" fill="#4d4d4d"  stroke="#4d4d4d" stroke-width="0.05">0</text>
<text transform="translate(121.78,143.5) rotate(0.05)" font-size="3.7" text-anchor="middle" fill="#4d4d4d"  stroke="#4d4d4d" stroke-width="0.05">1</text>
<text transform="translate(125.06,143.5) rotate(0.05)" font-size="3.7" text-anchor="middle" fill="#4d4d4d"  stroke="#4d4d4d" stroke-width="0.05">2</text>
<text transform="translate(131.62,143.5) rotate(0.05)" font-size="3.7" text-anchor="middle" fill="#4d4d4d"  stroke="#4d4d4d" stroke-width="0.05">4</text>
<text transform="translate(144.74,143.5) rotate(0.05)" font-size="3.7" text-anchor="middle" fill="#4d4d4d"  stroke="#4d4d4d" stroke-width="0.05">8</text>
<text transform="translate(170.98,143.5) rotate(0.05)" font-size="3.7" text-anchor="middle" fill="#4d4d4d"  stroke="#4d4d4d" stroke-width="0.05">16</text>
<text transform="translate(113.2,149.3) rotate(0.05)" font-size="5.2" text-anchor="middle" fill="#222"  stroke="#222" stroke-width="0.07">Log<tspan font-size="3.4" dy="1">2</tspan><tspan dy="-1">(Fold Change)</tspan></text>
<text transform="translate(29.3,75.5) rotate(-90)" font-size="5.2" text-anchor="middle" fill="#222"  stroke="#222" stroke-width="0.07">− Log<tspan font-size="3.4" dy="1">10</tspan><tspan dy="-1">(P-value)</tspan></text>
<text transform="translate(191.1,51.6) rotate(0.05)" font-size="5.1"  stroke="#111" stroke-width="0.07">Statistics</text>
<circle cx="193.7" cy="57.3" r="0.5" fill="#ff0000"/>
<text transform="translate(199.2,59.1) rotate(0.05)" font-size="5.1"  stroke="#111" stroke-width="0.07">Up: 434</text>
<circle cx="193.7" cy="63" r="0.5" fill="#006400"/>
<text transform="translate(199.2,64.85) rotate(0.05)" font-size="5.1"  stroke="#111" stroke-width="0.07">Down: 845</text>
<circle cx="193.7" cy="68.8" r="0.5" fill="#bebebe"/>
<text transform="translate(199.2,70.6) rotate(0.05)" font-size="5.1"  stroke="#111" stroke-width="0.07">Insignificant: 867</text>
<text transform="translate(191.1,83.3) rotate(0.05)" font-size="5.1"  stroke="#111" stroke-width="0.07">VIP</text>
<circle cx="193.5" cy="89.1" r="0.55" fill="#000"/>
<text transform="translate(199.2,90.9) rotate(0.05)" font-size="5.1"  stroke="#111" stroke-width="0.07">0.3</text>
<circle cx="193.5" cy="94.8" r="0.8" fill="#000"/>
<text transform="translate(199.2,96.65) rotate(0.05)" font-size="5.1"  stroke="#111" stroke-width="0.07">0.6</text>
<circle cx="193.5" cy="100.6" r="1.05" fill="#000"/>
<text transform="translate(199.2,102.4) rotate(0.05)" font-size="5.1"  stroke="#111" stroke-width="0.07">0.9</text>
</g>
<g id="panelB">
<path d="M47.8 156.7V347" stroke="#c0c0c0" stroke-width="0.55" fill="none"/><path d="M129.6 156.7V347" stroke="#e6e6e6" stroke-width="0.5" fill="none"/>
<defs><linearGradient id="gl"><stop offset="0" stop-color="#000" stop-opacity="0"/><stop offset="0.25" stop-color="#000" stop-opacity="0.1"/><stop offset="0.5" stop-color="#000" stop-opacity="0.6"/><stop offset="0.93" stop-color="#000" stop-opacity="0.8"/><stop offset="1" stop-color="#000" stop-opacity="0.5"/></linearGradient><linearGradient id="gr"><stop offset="0" stop-color="#000" stop-opacity="0.3"/><stop offset="0.15" stop-color="#000" stop-opacity="0.65"/><stop offset="0.45" stop-color="#000" stop-opacity="0.45"/><stop offset="0.8" stop-color="#000" stop-opacity="0.05"/><stop offset="1" stop-color="#000" stop-opacity="0"/></linearGradient></defs>
<text transform="translate(46.6,169.1) rotate(0.05) scale(0.81,1)" font-size="3.7" text-anchor="end"  stroke="#111" stroke-width="0.05">Alkaloids</text>
<path d="M47 167.8h0.8" stroke="#999" stroke-width="0.3"/>
<g fill="#f2d81c" fill-opacity="0.85" stroke="#7a6c0c" stroke-opacity="0.6" stroke-width="0.4"><ellipse cx="78.9" cy="167.8" rx="1.2" ry="1.7"/><ellipse cx="152.9" cy="167.8" rx="1.0" ry="1.4"/><ellipse cx="104.7" cy="167.8" rx="1.2" ry="1.7"/><ellipse cx="125" cy="167.8" rx="1.1" ry="1.6"/><ellipse cx="119.8" cy="167.8" rx="1.0" ry="1.4"/><ellipse cx="105.4" cy="167.8" rx="1.2" ry="1.7"/><ellipse cx="122.3" cy="167.8" rx="1.2" ry="1.7"/><ellipse cx="117.9" cy="167.8" rx="1.2" ry="1.7"/><ellipse cx="115.3" cy="167.8" rx="1.2" ry="1.7"/><ellipse cx="121.8" cy="167.8" rx="1.0" ry="1.4"/><ellipse cx="115.8" cy="167.8" rx="1.2" ry="1.7"/><ellipse cx="120.3" cy="167.8" rx="1.1" ry="1.6"/><ellipse cx="110.2" cy="167.8" rx="1.1" ry="1.6"/><ellipse cx="117.5" cy="167.8" rx="1.0" ry="1.4"/><ellipse cx="113.2" cy="167.8" rx="1.0" ry="1.4"/><ellipse cx="117.1" cy="167.8" rx="1.2" ry="1.7"/><ellipse cx="114" cy="167.8" rx="1.1" ry="1.6"/><ellipse cx="120.9" cy="167.8" rx="1.1" ry="1.6"/><ellipse cx="124.2" cy="167.8" rx="1.0" ry="1.4"/><ellipse cx="121.4" cy="167.8" rx="1.2" ry="1.7"/><ellipse cx="122" cy="167.8" rx="1.0" ry="1.4"/><ellipse cx="125" cy="167.8" rx="1.0" ry="1.4"/><ellipse cx="112" cy="167.8" rx="1.1" ry="1.6"/><ellipse cx="118.2" cy="167.8" rx="1.1" ry="1.6"/><ellipse cx="119.2" cy="167.8" rx="1.0" ry="1.4"/><ellipse cx="113.8" cy="167.8" rx="1.1" ry="1.6"/><ellipse cx="124.8" cy="167.8" rx="1.0" ry="1.4"/><ellipse cx="124.4" cy="167.8" rx="1.0" ry="1.4"/><ellipse cx="113.5" cy="167.8" rx="1.2" ry="1.7"/><ellipse cx="124.9" cy="167.8" rx="1.2" ry="1.7"/><ellipse cx="109" cy="167.8" rx="1.0" ry="1.4"/><ellipse cx="118.6" cy="167.8" rx="1.1" ry="1.6"/><ellipse cx="105.8" cy="167.8" rx="1.2" ry="1.7"/><ellipse cx="109.3" cy="167.8" rx="1.0" ry="1.4"/><ellipse cx="120.6" cy="167.8" rx="1.1" ry="1.6"/><ellipse cx="121.7" cy="167.8" rx="1.2" ry="1.7"/><ellipse cx="120.1" cy="167.8" rx="1.1" ry="1.6"/><ellipse cx="112" cy="167.8" rx="1.1" ry="1.6"/><ellipse cx="119.5" cy="167.8" rx="1.1" ry="1.6"/><ellipse cx="113.4" cy="167.8" rx="1.1" ry="1.6"/><ellipse cx="105" cy="167.8" rx="1.1" ry="1.6"/><ellipse cx="112.6" cy="167.8" rx="1.0" ry="1.4"/><ellipse cx="118.5" cy="167.8" rx="1.0" ry="1.4"/><ellipse cx="112.8" cy="167.8" rx="1.0" ry="1.4"/><ellipse cx="118.9" cy="167.8" rx="1.0" ry="1.4"/><ellipse cx="116.9" cy="167.8" rx="1.1" ry="1.6"/><ellipse cx="120.3" cy="167.8" rx="1.1" ry="1.6"/><ellipse cx="106.9" cy="167.8" rx="1.1" ry="1.6"/><ellipse cx="105.1" cy="167.8" rx="1.1" ry="1.6"/><ellipse cx="117.2" cy="167.8" rx="1.1" ry="1.6"/><ellipse cx="117.5" cy="167.8" rx="1.1" ry="1.6"/><ellipse cx="124.6" cy="167.8" rx="1.2" ry="1.7"/><ellipse cx="117.3" cy="167.8" rx="1.0" ry="1.4"/><ellipse cx="107.1" cy="167.8" rx="1.0" ry="1.4"/><ellipse cx="123.2" cy="167.8" rx="1.0" ry="1.4"/><ellipse cx="111.8" cy="167.8" rx="1.1" ry="1.6"/><ellipse cx="123" cy="167.8" rx="1.2" ry="1.7"/><ellipse cx="113.6" cy="167.8" rx="1.1" ry="1.6"/><ellipse cx="122.6" cy="167.8" rx="1.1" ry="1.6"/><ellipse cx="116.6" cy="167.8" rx="1.0" ry="1.4"/><ellipse cx="111.8" cy="167.8" rx="1.0" ry="1.4"/><ellipse cx="124.9" cy="167.8" rx="1.0" ry="1.4"/><ellipse cx="109.9" cy="167.8" rx="1.0" ry="1.4"/><ellipse cx="118.2" cy="167.8" rx="1.0" ry="1.4"/><ellipse cx="123.2" cy="167.8" rx="1.1" ry="1.6"/><ellipse cx="122.3" cy="167.8" rx="1.2" ry="1.7"/><ellipse cx="117.6" cy="167.8" rx="1.2" ry="1.7"/><ellipse cx="112.8" cy="167.8" rx="1.2" ry="1.7"/><ellipse cx="123.9" cy="167.8" rx="1.2" ry="1.7"/><ellipse cx="124.8" cy="167.8" rx="1.1" ry="1.6"/><ellipse cx="123.3" cy="167.8" rx="1.0" ry="1.4"/><ellipse cx="115.6" cy="167.8" rx="1.2" ry="1.7"/><ellipse cx="141.8" cy="167.8" rx="1.0" ry="1.4"/><ellipse cx="134.6" cy="167.8" rx="1.0" ry="1.4"/><ellipse cx="138.8" cy="167.8" rx="1.2" ry="1.7"/><ellipse cx="135.9" cy="167.8" rx="1.2" ry="1.7"/><ellipse cx="137.5" cy="167.8" rx="1.1" ry="1.6"/><ellipse cx="134.9" cy="167.8" rx="1.1" ry="1.6"/><ellipse cx="137.7" cy="167.8" rx="1.0" ry="1.4"/><ellipse cx="138" cy="167.8" rx="1.0" ry="1.4"/><ellipse cx="135.2" cy="167.8" rx="1.2" ry="1.7"/><ellipse cx="138.2" cy="167.8" rx="1.0" ry="1.4"/><ellipse cx="134.9" cy="167.8" rx="1.0" ry="1.4"/><ellipse cx="141.5" cy="167.8" rx="1.2" ry="1.7"/><ellipse cx="137.2" cy="167.8" rx="1.0" ry="1.4"/><ellipse cx="140.9" cy="167.8" rx="1.2" ry="1.7"/><ellipse cx="138.2" cy="167.8" rx="1.1" ry="1.6"/><ellipse cx="135.1" cy="167.8" rx="1.1" ry="1.6"/></g>
<rect x="103.6" y="166.1" width="22.6" height="3.4" rx="1.5" fill="url(#gl)" opacity="1"/>
<rect x="133.5" y="166.1" width="9.5" height="3.4" rx="1.5" fill="url(#gr)" opacity="0.89"/>
<text transform="translate(46.6,186.19) rotate(0.05) scale(0.81,1)" font-size="3.7" text-anchor="end"  stroke="#111" stroke-width="0.05">Amino acids and derivatives</text>
<path d="M47 184.9h0.8" stroke="#999" stroke-width="0.3"/>
<g fill="#cfd01c" fill-opacity="0.85" stroke="#5e5e0c" stroke-opacity="0.6" stroke-width="0.4"><ellipse cx="59.1" cy="184.9" rx="1.0" ry="1.4"/><ellipse cx="62.8" cy="184.9" rx="1.0" ry="1.4"/><ellipse cx="99.1" cy="184.9" rx="1.2" ry="1.7"/><ellipse cx="125" cy="184.9" rx="1.0" ry="1.4"/><ellipse cx="121.3" cy="184.9" rx="1.1" ry="1.6"/><ellipse cx="118.2" cy="184.9" rx="1.2" ry="1.7"/><ellipse cx="124.9" cy="184.9" rx="1.1" ry="1.6"/><ellipse cx="124.9" cy="184.9" rx="1.2" ry="1.7"/><ellipse cx="105.3" cy="184.9" rx="1.1" ry="1.6"/><ellipse cx="119.3" cy="184.9" rx="1.2" ry="1.7"/><ellipse cx="124.3" cy="184.9" rx="1.1" ry="1.6"/><ellipse cx="119.1" cy="184.9" rx="1.1" ry="1.6"/><ellipse cx="112.7" cy="184.9" rx="1.1" ry="1.6"/><ellipse cx="124.9" cy="184.9" rx="1.2" ry="1.7"/><ellipse cx="105.9" cy="184.9" rx="1.2" ry="1.7"/><ellipse cx="120.7" cy="184.9" rx="1.2" ry="1.7"/><ellipse cx="122.6" cy="184.9" rx="1.2" ry="1.7"/><ellipse cx="105.6" cy="184.9" rx="1.1" ry="1.6"/><ellipse cx="117.9" cy="184.9" rx="1.1" ry="1.6"/><ellipse cx="124.2" cy="184.9" rx="1.1" ry="1.6"/><ellipse cx="123.5" cy="184.9" rx="1.1" ry="1.6"/><ellipse cx="110.3" cy="184.9" rx="1.1" ry="1.6"/><ellipse cx="115.7" cy="184.9" rx="1.1" ry="1.6"/><ellipse cx="118.7" cy="184.9" rx="1.0" ry="1.4"/><ellipse cx="109.4" cy="184.9" rx="1.0" ry="1.4"/><ellipse cx="121" cy="184.9" rx="1.1" ry="1.6"/><ellipse cx="123.7" cy="184.9" rx="1.2" ry="1.7"/><ellipse cx="112.9" cy="184.9" rx="1.2" ry="1.7"/><ellipse cx="123.1" cy="184.9" rx="1.0" ry="1.4"/><ellipse cx="122.1" cy="184.9" rx="1.1" ry="1.6"/><ellipse cx="124.8" cy="184.9" rx="1.2" ry="1.7"/><ellipse cx="113" cy="184.9" rx="1.0" ry="1.4"/><ellipse cx="111.6" cy="184.9" rx="1.0" ry="1.4"/><ellipse cx="104.8" cy="184.9" rx="1.2" ry="1.7"/><ellipse cx="123.6" cy="184.9" rx="1.2" ry="1.7"/><ellipse cx="108.8" cy="184.9" rx="1.1" ry="1.6"/><ellipse cx="122.2" cy="184.9" rx="1.2" ry="1.7"/><ellipse cx="117" cy="184.9" rx="1.2" ry="1.7"/><ellipse cx="116.6" cy="184.9" rx="1.0" ry="1.4"/><ellipse cx="109.9" cy="184.9" rx="1.2" ry="1.7"/><ellipse cx="124.4" cy="184.9" rx="1.2" ry="1.7"/><ellipse cx="119.2" cy="184.9" rx="1.0" ry="1.4"/><ellipse cx="107.3" cy="184.9" rx="1.0" ry="1.4"/><ellipse cx="122.5" cy="184.9" rx="1.0" ry="1.4"/><ellipse cx="124.8" cy="184.9" rx="1.1" ry="1.6"/><ellipse cx="117.8" cy="184.9" rx="1.1" ry="1.6"/><ellipse cx="121" cy="184.9" rx="1.2" ry="1.7"/><ellipse cx="107.7" cy="184.9" rx="1.0" ry="1.4"/><ellipse cx="117.3" cy="184.9" rx="1.2" ry="1.7"/><ellipse cx="110.8" cy="184.9" rx="1.0" ry="1.4"/><ellipse cx="111.1" cy="184.9" rx="1.2" ry="1.7"/><ellipse cx="124.6" cy="184.9" rx="1.1" ry="1.6"/><ellipse cx="112" cy="184.9" rx="1.1" ry="1.6"/><ellipse cx="119.6" cy="184.9" rx="1.0" ry="1.4"/><ellipse cx="118.1" cy="184.9" rx="1.1" ry="1.6"/><ellipse cx="112.6" cy="184.9" rx="1.1" ry="1.6"/><ellipse cx="119.2" cy="184.9" rx="1.0" ry="1.4"/><ellipse cx="124.7" cy="184.9" rx="1.0" ry="1.4"/><ellipse cx="113.8" cy="184.9" rx="1.0" ry="1.4"/><ellipse cx="112.4" cy="184.9" rx="1.2" ry="1.7"/><ellipse cx="100.9" cy="184.9" rx="1.2" ry="1.7"/><ellipse cx="101.1" cy="184.9" rx="1.1" ry="1.6"/><ellipse cx="124.9" cy="184.9" rx="1.2" ry="1.7"/><ellipse cx="111.5" cy="184.9" rx="1.2" ry="1.7"/><ellipse cx="124.5" cy="184.9" rx="1.1" ry="1.6"/><ellipse cx="110.3" cy="184.9" rx="1.1" ry="1.6"/><ellipse cx="99.7" cy="184.9" rx="1.0" ry="1.4"/><ellipse cx="120" cy="184.9" rx="1.2" ry="1.7"/><ellipse cx="105.4" cy="184.9" rx="1.0" ry="1.4"/><ellipse cx="110.3" cy="184.9" rx="1.1" ry="1.6"/><ellipse cx="117.1" cy="184.9" rx="1.0" ry="1.4"/><ellipse cx="103" cy="184.9" rx="1.2" ry="1.7"/><ellipse cx="121.8" cy="184.9" rx="1.0" ry="1.4"/><ellipse cx="121.2" cy="184.9" rx="1.1" ry="1.6"/><ellipse cx="107.4" cy="184.9" rx="1.1" ry="1.6"/><ellipse cx="119.3" cy="184.9" rx="1.2" ry="1.7"/><ellipse cx="124.3" cy="184.9" rx="1.1" ry="1.6"/><ellipse cx="114.8" cy="184.9" rx="1.1" ry="1.6"/><ellipse cx="114" cy="184.9" rx="1.1" ry="1.6"/><ellipse cx="119.7" cy="184.9" rx="1.1" ry="1.6"/><ellipse cx="122.3" cy="184.9" rx="1.1" ry="1.6"/><ellipse cx="121.6" cy="184.9" rx="1.0" ry="1.4"/><ellipse cx="108" cy="184.9" rx="1.1" ry="1.6"/><ellipse cx="114" cy="184.9" rx="1.1" ry="1.6"/><ellipse cx="124.4" cy="184.9" rx="1.2" ry="1.7"/><ellipse cx="102.2" cy="184.9" rx="1.1" ry="1.6"/><ellipse cx="119.1" cy="184.9" rx="1.1" ry="1.6"/><ellipse cx="114.6" cy="184.9" rx="1.0" ry="1.4"/><ellipse cx="100.3" cy="184.9" rx="1.0" ry="1.4"/><ellipse cx="120.7" cy="184.9" rx="1.2" ry="1.7"/><ellipse cx="111.2" cy="184.9" rx="1.1" ry="1.6"/><ellipse cx="115.2" cy="184.9" rx="1.1" ry="1.6"/><ellipse cx="148" cy="184.9" rx="1.1" ry="1.6"/><ellipse cx="134.6" cy="184.9" rx="1.0" ry="1.4"/><ellipse cx="144" cy="184.9" rx="1.2" ry="1.7"/><ellipse cx="138.8" cy="184.9" rx="1.0" ry="1.4"/><ellipse cx="137.8" cy="184.9" rx="1.2" ry="1.7"/><ellipse cx="140.4" cy="184.9" rx="1.1" ry="1.6"/><ellipse cx="141.6" cy="184.9" rx="1.1" ry="1.6"/><ellipse cx="135.3" cy="184.9" rx="1.0" ry="1.4"/><ellipse cx="136.6" cy="184.9" rx="1.1" ry="1.6"/><ellipse cx="136.5" cy="184.9" rx="1.2" ry="1.7"/><ellipse cx="139.3" cy="184.9" rx="1.1" ry="1.6"/><ellipse cx="147.9" cy="184.9" rx="1.2" ry="1.7"/><ellipse cx="145.5" cy="184.9" rx="1.1" ry="1.6"/><ellipse cx="137.6" cy="184.9" rx="1.2" ry="1.7"/><ellipse cx="137.6" cy="184.9" rx="1.1" ry="1.6"/><ellipse cx="135.8" cy="184.9" rx="1.2" ry="1.7"/><ellipse cx="142.9" cy="184.9" rx="1.1" ry="1.6"/><ellipse cx="137.2" cy="184.9" rx="1.1" ry="1.6"/></g>
<rect x="98" y="183.2" width="28.2" height="3.4" rx="1.5" fill="url(#gl)" opacity="1"/>
<rect x="133.5" y="183.2" width="15.7" height="3.4" rx="1.5" fill="url(#gr)" opacity="0.6"/>
<text transform="translate(46.6,203.28) rotate(0.05) scale(0.81,1)" font-size="3.7" text-anchor="end"  stroke="#111" stroke-width="0.05">Flavonoids</text>
<path d="M47 202h0.8" stroke="#999" stroke-width="0.3"/>
<g fill="#94cc2e" fill-opacity="0.85" stroke="#3c5a12" stroke-opacity="0.6" stroke-width="0.4"><ellipse cx="56.8" cy="202" rx="1.1" ry="1.6"/><ellipse cx="70.3" cy="202" rx="1.1" ry="1.6"/><ellipse cx="74.8" cy="202" rx="1.2" ry="1.7"/><ellipse cx="78.7" cy="202" rx="1.2" ry="1.7"/><ellipse cx="80.4" cy="202" rx="1.2" ry="1.7"/><ellipse cx="86.3" cy="202" rx="1.0" ry="1.4"/><ellipse cx="175.5" cy="202" rx="1.2" ry="1.7"/><ellipse cx="180.2" cy="202" rx="1.1" ry="1.6"/><ellipse cx="188.2" cy="202" rx="1.2" ry="1.7"/><ellipse cx="105.5" cy="202" rx="1.1" ry="1.6"/><ellipse cx="125" cy="202" rx="1.1" ry="1.6"/><ellipse cx="124.6" cy="202" rx="1.1" ry="1.6"/><ellipse cx="114.3" cy="202" rx="1.2" ry="1.7"/><ellipse cx="107" cy="202" rx="1.2" ry="1.7"/><ellipse cx="120.9" cy="202" rx="1.0" ry="1.4"/><ellipse cx="107.7" cy="202" rx="1.1" ry="1.6"/><ellipse cx="108.3" cy="202" rx="1.1" ry="1.6"/><ellipse cx="110.1" cy="202" rx="1.1" ry="1.6"/><ellipse cx="118.1" cy="202" rx="1.2" ry="1.7"/><ellipse cx="111.5" cy="202" rx="1.0" ry="1.4"/><ellipse cx="116.5" cy="202" rx="1.2" ry="1.7"/><ellipse cx="109.1" cy="202" rx="1.1" ry="1.6"/><ellipse cx="123.9" cy="202" rx="1.1" ry="1.6"/><ellipse cx="120.5" cy="202" rx="1.0" ry="1.4"/><ellipse cx="123.8" cy="202" rx="1.2" ry="1.7"/><ellipse cx="122.1" cy="202" rx="1.1" ry="1.6"/><ellipse cx="125" cy="202" rx="1.1" ry="1.6"/><ellipse cx="119.5" cy="202" rx="1.0" ry="1.4"/><ellipse cx="119.2" cy="202" rx="1.1" ry="1.6"/><ellipse cx="119.8" cy="202" rx="1.0" ry="1.4"/><ellipse cx="124.1" cy="202" rx="1.1" ry="1.6"/><ellipse cx="124.9" cy="202" rx="1.1" ry="1.6"/><ellipse cx="105.8" cy="202" rx="1.2" ry="1.7"/><ellipse cx="119.6" cy="202" rx="1.2" ry="1.7"/><ellipse cx="124.7" cy="202" rx="1.0" ry="1.4"/><ellipse cx="123.5" cy="202" rx="1.0" ry="1.4"/><ellipse cx="112.9" cy="202" rx="1.2" ry="1.7"/><ellipse cx="124.7" cy="202" rx="1.2" ry="1.7"/><ellipse cx="114.8" cy="202" rx="1.0" ry="1.4"/><ellipse cx="122.2" cy="202" rx="1.0" ry="1.4"/><ellipse cx="107.9" cy="202" rx="1.0" ry="1.4"/><ellipse cx="123.8" cy="202" rx="1.0" ry="1.4"/><ellipse cx="109.8" cy="202" rx="1.0" ry="1.4"/><ellipse cx="122" cy="202" rx="1.1" ry="1.6"/><ellipse cx="106.5" cy="202" rx="1.0" ry="1.4"/><ellipse cx="111.8" cy="202" rx="1.2" ry="1.7"/><ellipse cx="114.4" cy="202" rx="1.2" ry="1.7"/><ellipse cx="112.4" cy="202" rx="1.1" ry="1.6"/><ellipse cx="123.6" cy="202" rx="1.0" ry="1.4"/><ellipse cx="107.7" cy="202" rx="1.2" ry="1.7"/><ellipse cx="122.9" cy="202" rx="1.0" ry="1.4"/><ellipse cx="118.3" cy="202" rx="1.2" ry="1.7"/><ellipse cx="121.3" cy="202" rx="1.0" ry="1.4"/><ellipse cx="124.3" cy="202" rx="1.0" ry="1.4"/><ellipse cx="107.2" cy="202" rx="1.0" ry="1.4"/><ellipse cx="120.6" cy="202" rx="1.2" ry="1.7"/><ellipse cx="111.6" cy="202" rx="1.2" ry="1.7"/><ellipse cx="122.2" cy="202" rx="1.1" ry="1.6"/><ellipse cx="121.6" cy="202" rx="1.2" ry="1.7"/><ellipse cx="120.4" cy="202" rx="1.2" ry="1.7"/><ellipse cx="123.8" cy="202" rx="1.1" ry="1.6"/><ellipse cx="124.8" cy="202" rx="1.2" ry="1.7"/><ellipse cx="120.5" cy="202" rx="1.1" ry="1.6"/><ellipse cx="121.4" cy="202" rx="1.1" ry="1.6"/><ellipse cx="118.7" cy="202" rx="1.0" ry="1.4"/><ellipse cx="124.8" cy="202" rx="1.2" ry="1.7"/><ellipse cx="124.9" cy="202" rx="1.2" ry="1.7"/><ellipse cx="122.1" cy="202" rx="1.2" ry="1.7"/><ellipse cx="122.8" cy="202" rx="1.2" ry="1.7"/><ellipse cx="124.8" cy="202" rx="1.1" ry="1.6"/><ellipse cx="118.3" cy="202" rx="1.1" ry="1.6"/><ellipse cx="112.4" cy="202" rx="1.0" ry="1.4"/><ellipse cx="119" cy="202" rx="1.1" ry="1.6"/><ellipse cx="106.1" cy="202" rx="1.1" ry="1.6"/><ellipse cx="117.6" cy="202" rx="1.0" ry="1.4"/><ellipse cx="125" cy="202" rx="1.2" ry="1.7"/><ellipse cx="119.4" cy="202" rx="1.1" ry="1.6"/><ellipse cx="115.4" cy="202" rx="1.0" ry="1.4"/><ellipse cx="115.6" cy="202" rx="1.1" ry="1.6"/><ellipse cx="116.7" cy="202" rx="1.0" ry="1.4"/><ellipse cx="124.6" cy="202" rx="1.1" ry="1.6"/><ellipse cx="114.5" cy="202" rx="1.1" ry="1.6"/><ellipse cx="124.4" cy="202" rx="1.0" ry="1.4"/><ellipse cx="124.8" cy="202" rx="1.0" ry="1.4"/><ellipse cx="124.9" cy="202" rx="1.0" ry="1.4"/><ellipse cx="118" cy="202" rx="1.0" ry="1.4"/><ellipse cx="124.7" cy="202" rx="1.1" ry="1.6"/><ellipse cx="108" cy="202" rx="1.2" ry="1.7"/><ellipse cx="123.3" cy="202" rx="1.2" ry="1.7"/><ellipse cx="118.9" cy="202" rx="1.0" ry="1.4"/><ellipse cx="122.6" cy="202" rx="1.0" ry="1.4"/><ellipse cx="125" cy="202" rx="1.1" ry="1.6"/><ellipse cx="107.1" cy="202" rx="1.1" ry="1.6"/><ellipse cx="122.4" cy="202" rx="1.1" ry="1.6"/><ellipse cx="156.4" cy="202" rx="1.1" ry="1.6"/><ellipse cx="134.6" cy="202" rx="1.1" ry="1.6"/><ellipse cx="148.7" cy="202" rx="1.0" ry="1.4"/><ellipse cx="135.4" cy="202" rx="1.0" ry="1.4"/><ellipse cx="139" cy="202" rx="1.0" ry="1.4"/><ellipse cx="152.9" cy="202" rx="1.2" ry="1.7"/><ellipse cx="138.5" cy="202" rx="1.1" ry="1.6"/><ellipse cx="145.5" cy="202" rx="1.1" ry="1.6"/><ellipse cx="140.2" cy="202" rx="1.0" ry="1.4"/><ellipse cx="148.1" cy="202" rx="1.0" ry="1.4"/><ellipse cx="145.5" cy="202" rx="1.0" ry="1.4"/><ellipse cx="138.9" cy="202" rx="1.2" ry="1.7"/><ellipse cx="151.1" cy="202" rx="1.2" ry="1.7"/><ellipse cx="137.5" cy="202" rx="1.2" ry="1.7"/><ellipse cx="137.7" cy="202" rx="1.2" ry="1.7"/><ellipse cx="146.4" cy="202" rx="1.2" ry="1.7"/><ellipse cx="136.7" cy="202" rx="1.2" ry="1.7"/><ellipse cx="140.9" cy="202" rx="1.2" ry="1.7"/><ellipse cx="148" cy="202" rx="1.0" ry="1.4"/><ellipse cx="136.3" cy="202" rx="1.0" ry="1.4"/><ellipse cx="137.9" cy="202" rx="1.1" ry="1.6"/><ellipse cx="142" cy="202" rx="1.0" ry="1.4"/><ellipse cx="144.3" cy="202" rx="1.2" ry="1.7"/><ellipse cx="135.4" cy="202" rx="1.2" ry="1.7"/><ellipse cx="135.6" cy="202" rx="1.1" ry="1.6"/><ellipse cx="136.7" cy="202" rx="1.2" ry="1.7"/><ellipse cx="138.2" cy="202" rx="1.0" ry="1.4"/><ellipse cx="149.6" cy="202" rx="1.1" ry="1.6"/><ellipse cx="139.5" cy="202" rx="1.0" ry="1.4"/><ellipse cx="142.7" cy="202" rx="1.0" ry="1.4"/><ellipse cx="135.6" cy="202" rx="1.1" ry="1.6"/><ellipse cx="147.2" cy="202" rx="1.2" ry="1.7"/><ellipse cx="149.9" cy="202" rx="1.2" ry="1.7"/><ellipse cx="143.5" cy="202" rx="1.1" ry="1.6"/><ellipse cx="149.8" cy="202" rx="1.1" ry="1.6"/><ellipse cx="143.5" cy="202" rx="1.1" ry="1.6"/><ellipse cx="144" cy="202" rx="1.2" ry="1.7"/><ellipse cx="137.2" cy="202" rx="1.0" ry="1.4"/><ellipse cx="134.6" cy="202" rx="1.0" ry="1.4"/><ellipse cx="143.4" cy="202" rx="1.2" ry="1.7"/><ellipse cx="138.1" cy="202" rx="1.0" ry="1.4"/><ellipse cx="148.5" cy="202" rx="1.0" ry="1.4"/><ellipse cx="141" cy="202" rx="1.2" ry="1.7"/><ellipse cx="136.2" cy="202" rx="1.0" ry="1.4"/><ellipse cx="135" cy="202" rx="1.1" ry="1.6"/></g>
<rect x="104.4" y="200.3" width="21.8" height="3.4" rx="1.5" fill="url(#gl)" opacity="1"/>
<rect x="133.5" y="200.3" width="24.1" height="3.4" rx="1.5" fill="url(#gr)" opacity="0.98"/>
<text transform="translate(46.6,220.37) rotate(0.05) scale(0.81,1)" font-size="3.7" text-anchor="end"  stroke="#111" stroke-width="0.05">Lignans and Coumarins</text>
<path d="M47 219.1h0.8" stroke="#999" stroke-width="0.3"/>
<g fill="#34b848" fill-opacity="0.85" stroke="#144c1c" stroke-opacity="0.6" stroke-width="0.4"><ellipse cx="106.2" cy="219.1" rx="1.1" ry="1.6"/><ellipse cx="66" cy="219.1" rx="1.2" ry="1.7"/><ellipse cx="78.7" cy="219.1" rx="1.0" ry="1.4"/><ellipse cx="111.6" cy="219.1" rx="1.1" ry="1.6"/><ellipse cx="125" cy="219.1" rx="1.2" ry="1.7"/><ellipse cx="123.1" cy="219.1" rx="1.1" ry="1.6"/><ellipse cx="122.7" cy="219.1" rx="1.0" ry="1.4"/><ellipse cx="112.6" cy="219.1" rx="1.0" ry="1.4"/><ellipse cx="112.3" cy="219.1" rx="1.0" ry="1.4"/><ellipse cx="111.7" cy="219.1" rx="1.1" ry="1.6"/><ellipse cx="113.6" cy="219.1" rx="1.2" ry="1.7"/><ellipse cx="121" cy="219.1" rx="1.2" ry="1.7"/><ellipse cx="118.4" cy="219.1" rx="1.2" ry="1.7"/><ellipse cx="113.6" cy="219.1" rx="1.0" ry="1.4"/><ellipse cx="121.8" cy="219.1" rx="1.2" ry="1.7"/><ellipse cx="113.4" cy="219.1" rx="1.0" ry="1.4"/><ellipse cx="115.9" cy="219.1" rx="1.2" ry="1.7"/><ellipse cx="123.4" cy="219.1" rx="1.2" ry="1.7"/><ellipse cx="122.6" cy="219.1" rx="1.1" ry="1.6"/><ellipse cx="117.9" cy="219.1" rx="1.1" ry="1.6"/><ellipse cx="124.4" cy="219.1" rx="1.0" ry="1.4"/><ellipse cx="123.7" cy="219.1" rx="1.1" ry="1.6"/><ellipse cx="124.2" cy="219.1" rx="1.1" ry="1.6"/><ellipse cx="124.7" cy="219.1" rx="1.1" ry="1.6"/><ellipse cx="113.6" cy="219.1" rx="1.2" ry="1.7"/><ellipse cx="111.7" cy="219.1" rx="1.2" ry="1.7"/><ellipse cx="115.4" cy="219.1" rx="1.2" ry="1.7"/><ellipse cx="120.8" cy="219.1" rx="1.1" ry="1.6"/><ellipse cx="116.9" cy="219.1" rx="1.1" ry="1.6"/><ellipse cx="117.9" cy="219.1" rx="1.1" ry="1.6"/><ellipse cx="121.7" cy="219.1" rx="1.2" ry="1.7"/><ellipse cx="120.6" cy="219.1" rx="1.0" ry="1.4"/><ellipse cx="124.6" cy="219.1" rx="1.2" ry="1.7"/><ellipse cx="123.8" cy="219.1" rx="1.2" ry="1.7"/><ellipse cx="122.8" cy="219.1" rx="1.0" ry="1.4"/><ellipse cx="122.7" cy="219.1" rx="1.1" ry="1.6"/><ellipse cx="118.4" cy="219.1" rx="1.2" ry="1.7"/><ellipse cx="153.5" cy="219.1" rx="1.1" ry="1.6"/><ellipse cx="134.6" cy="219.1" rx="1.1" ry="1.6"/><ellipse cx="149.6" cy="219.1" rx="1.2" ry="1.7"/><ellipse cx="147" cy="219.1" rx="1.2" ry="1.7"/><ellipse cx="151.4" cy="219.1" rx="1.1" ry="1.6"/><ellipse cx="147" cy="219.1" rx="1.1" ry="1.6"/><ellipse cx="135.8" cy="219.1" rx="1.2" ry="1.7"/><ellipse cx="140.2" cy="219.1" rx="1.2" ry="1.7"/><ellipse cx="148.5" cy="219.1" rx="1.1" ry="1.6"/><ellipse cx="147.7" cy="219.1" rx="1.0" ry="1.4"/><ellipse cx="136.1" cy="219.1" rx="1.1" ry="1.6"/><ellipse cx="140.1" cy="219.1" rx="1.2" ry="1.7"/><ellipse cx="142.3" cy="219.1" rx="1.2" ry="1.7"/><ellipse cx="134.6" cy="219.1" rx="1.0" ry="1.4"/><ellipse cx="136.3" cy="219.1" rx="1.1" ry="1.6"/><ellipse cx="146" cy="219.1" rx="1.2" ry="1.7"/><ellipse cx="144.1" cy="219.1" rx="1.2" ry="1.7"/><ellipse cx="139.4" cy="219.1" rx="1.2" ry="1.7"/><ellipse cx="141.9" cy="219.1" rx="1.1" ry="1.6"/><ellipse cx="141" cy="219.1" rx="1.1" ry="1.6"/><ellipse cx="137.7" cy="219.1" rx="1.2" ry="1.7"/><ellipse cx="134.9" cy="219.1" rx="1.2" ry="1.7"/><ellipse cx="146" cy="219.1" rx="1.0" ry="1.4"/><ellipse cx="146.8" cy="219.1" rx="1.0" ry="1.4"/></g>
<rect x="110.5" y="217.4" width="15.7" height="3.4" rx="1.5" fill="url(#gl)" opacity="0.58"/>
<rect x="133.5" y="217.4" width="21.2" height="3.4" rx="1.5" fill="url(#gr)" opacity="0.6"/>
<text transform="translate(46.6,237.46) rotate(0.05) scale(0.81,1)" font-size="3.7" text-anchor="end"  stroke="#111" stroke-width="0.05">Lipids</text>
<path d="M47 236.2h0.8" stroke="#999" stroke-width="0.3"/>
<g fill="#1fae62" fill-opacity="0.85" stroke="#0c4c2a" stroke-opacity="0.6" stroke-width="0.4"><ellipse cx="108" cy="236.2" rx="1.0" ry="1.4"/><ellipse cx="145.6" cy="236.2" rx="1.2" ry="1.7"/><ellipse cx="152.9" cy="236.2" rx="1.0" ry="1.4"/><ellipse cx="112.6" cy="236.2" rx="1.1" ry="1.6"/><ellipse cx="125" cy="236.2" rx="1.1" ry="1.6"/><ellipse cx="123.6" cy="236.2" rx="1.0" ry="1.4"/><ellipse cx="124.9" cy="236.2" rx="1.2" ry="1.7"/><ellipse cx="116.9" cy="236.2" rx="1.2" ry="1.7"/><ellipse cx="122.1" cy="236.2" rx="1.0" ry="1.4"/><ellipse cx="122.5" cy="236.2" rx="1.1" ry="1.6"/><ellipse cx="124.9" cy="236.2" rx="1.0" ry="1.4"/><ellipse cx="121.2" cy="236.2" rx="1.0" ry="1.4"/><ellipse cx="114.7" cy="236.2" rx="1.2" ry="1.7"/><ellipse cx="123.6" cy="236.2" rx="1.2" ry="1.7"/><ellipse cx="117.5" cy="236.2" rx="1.2" ry="1.7"/><ellipse cx="117.2" cy="236.2" rx="1.1" ry="1.6"/><ellipse cx="118.9" cy="236.2" rx="1.1" ry="1.6"/><ellipse cx="119.9" cy="236.2" rx="1.2" ry="1.7"/><ellipse cx="123.8" cy="236.2" rx="1.0" ry="1.4"/><ellipse cx="118.7" cy="236.2" rx="1.2" ry="1.7"/><ellipse cx="120" cy="236.2" rx="1.1" ry="1.6"/><ellipse cx="113.3" cy="236.2" rx="1.1" ry="1.6"/><ellipse cx="121" cy="236.2" rx="1.1" ry="1.6"/><ellipse cx="122.9" cy="236.2" rx="1.2" ry="1.7"/><ellipse cx="114.5" cy="236.2" rx="1.0" ry="1.4"/><ellipse cx="119.4" cy="236.2" rx="1.1" ry="1.6"/><ellipse cx="123" cy="236.2" rx="1.0" ry="1.4"/><ellipse cx="119" cy="236.2" rx="1.2" ry="1.7"/><ellipse cx="124.5" cy="236.2" rx="1.1" ry="1.6"/><ellipse cx="124.3" cy="236.2" rx="1.2" ry="1.7"/><ellipse cx="114.9" cy="236.2" rx="1.0" ry="1.4"/><ellipse cx="121.6" cy="236.2" rx="1.2" ry="1.7"/><ellipse cx="116.5" cy="236.2" rx="1.1" ry="1.6"/><ellipse cx="124.1" cy="236.2" rx="1.1" ry="1.6"/><ellipse cx="121.6" cy="236.2" rx="1.1" ry="1.6"/><ellipse cx="123.9" cy="236.2" rx="1.1" ry="1.6"/><ellipse cx="116.5" cy="236.2" rx="1.2" ry="1.7"/><ellipse cx="119.8" cy="236.2" rx="1.2" ry="1.7"/><ellipse cx="122.5" cy="236.2" rx="1.2" ry="1.7"/><ellipse cx="122.6" cy="236.2" rx="1.2" ry="1.7"/><ellipse cx="124.1" cy="236.2" rx="1.1" ry="1.6"/><ellipse cx="124.1" cy="236.2" rx="1.2" ry="1.7"/><ellipse cx="118.4" cy="236.2" rx="1.1" ry="1.6"/><ellipse cx="140.8" cy="236.2" rx="1.2" ry="1.7"/><ellipse cx="134.6" cy="236.2" rx="1.1" ry="1.6"/><ellipse cx="135.8" cy="236.2" rx="1.1" ry="1.6"/><ellipse cx="136.2" cy="236.2" rx="1.2" ry="1.7"/><ellipse cx="140.7" cy="236.2" rx="1.1" ry="1.6"/><ellipse cx="135.8" cy="236.2" rx="1.1" ry="1.6"/><ellipse cx="135.9" cy="236.2" rx="1.2" ry="1.7"/><ellipse cx="140.5" cy="236.2" rx="1.1" ry="1.6"/><ellipse cx="138.2" cy="236.2" rx="1.0" ry="1.4"/><ellipse cx="136.2" cy="236.2" rx="1.0" ry="1.4"/><ellipse cx="135.9" cy="236.2" rx="1.1" ry="1.6"/></g>
<rect x="111.5" y="234.5" width="14.7" height="3.4" rx="1.5" fill="url(#gl)" opacity="0.86"/>
<rect x="133.5" y="234.5" width="8.5" height="3.4" rx="1.5" fill="url(#gr)" opacity="0.68"/>
<text transform="translate(46.6,254.55) rotate(0.05) scale(0.81,1)" font-size="3.7" text-anchor="end"  stroke="#111" stroke-width="0.05">Nucleotides and derivatives</text>
<path d="M47 253.2h0.8" stroke="#999" stroke-width="0.3"/>
<g fill="#1cae98" fill-opacity="0.85" stroke="#0c4c42" stroke-opacity="0.6" stroke-width="0.4"><ellipse cx="133.5" cy="253.2" rx="1.2" ry="1.7"/><ellipse cx="109.1" cy="253.2" rx="1.0" ry="1.4"/><ellipse cx="125" cy="253.2" rx="1.1" ry="1.6"/><ellipse cx="124.8" cy="253.2" rx="1.2" ry="1.7"/><ellipse cx="117" cy="253.2" rx="1.1" ry="1.6"/><ellipse cx="119.9" cy="253.2" rx="1.0" ry="1.4"/><ellipse cx="109.3" cy="253.2" rx="1.2" ry="1.7"/><ellipse cx="120.5" cy="253.2" rx="1.0" ry="1.4"/><ellipse cx="118" cy="253.2" rx="1.0" ry="1.4"/><ellipse cx="114.6" cy="253.2" rx="1.1" ry="1.6"/><ellipse cx="109.9" cy="253.2" rx="1.2" ry="1.7"/><ellipse cx="123.7" cy="253.2" rx="1.0" ry="1.4"/><ellipse cx="115.9" cy="253.2" rx="1.1" ry="1.6"/><ellipse cx="110.1" cy="253.2" rx="1.2" ry="1.7"/><ellipse cx="119.4" cy="253.2" rx="1.2" ry="1.7"/><ellipse cx="122.2" cy="253.2" rx="1.0" ry="1.4"/><ellipse cx="120.7" cy="253.2" rx="1.0" ry="1.4"/><ellipse cx="123.5" cy="253.2" rx="1.2" ry="1.7"/><ellipse cx="124.8" cy="253.2" rx="1.0" ry="1.4"/><ellipse cx="122.4" cy="253.2" rx="1.1" ry="1.6"/><ellipse cx="124.9" cy="253.2" rx="1.0" ry="1.4"/><ellipse cx="121.7" cy="253.2" rx="1.1" ry="1.6"/><ellipse cx="121.1" cy="253.2" rx="1.2" ry="1.7"/><ellipse cx="125" cy="253.2" rx="1.1" ry="1.6"/><ellipse cx="119.5" cy="253.2" rx="1.0" ry="1.4"/><ellipse cx="117.8" cy="253.2" rx="1.1" ry="1.6"/><ellipse cx="123.2" cy="253.2" rx="1.1" ry="1.6"/><ellipse cx="122.7" cy="253.2" rx="1.1" ry="1.6"/><ellipse cx="122" cy="253.2" rx="1.1" ry="1.6"/><ellipse cx="144.4" cy="253.2" rx="1.0" ry="1.4"/><ellipse cx="141.2" cy="253.2" rx="1.1" ry="1.6"/><ellipse cx="141.7" cy="253.2" rx="1.1" ry="1.6"/><ellipse cx="141.3" cy="253.2" rx="1.1" ry="1.6"/><ellipse cx="143.4" cy="253.2" rx="1.2" ry="1.7"/></g>
<rect x="108" y="251.6" width="18.2" height="3.4" rx="1.5" fill="url(#gl)" opacity="0.27"/>
<text transform="translate(46.6,271.64) rotate(0.05) scale(0.81,1)" font-size="3.7" text-anchor="end"  stroke="#111" stroke-width="0.05">Organic acids</text>
<path d="M47 270.3h0.8" stroke="#999" stroke-width="0.3"/>
<g fill="#1e9cb8" fill-opacity="0.85" stroke="#0e4252" stroke-opacity="0.6" stroke-width="0.4"><ellipse cx="103.6" cy="270.3" rx="1.0" ry="1.4"/><ellipse cx="105.5" cy="270.3" rx="1.2" ry="1.7"/><ellipse cx="151" cy="270.3" rx="1.1" ry="1.6"/><ellipse cx="80" cy="270.3" rx="1.0" ry="1.4"/><ellipse cx="78" cy="270.3" rx="1.1" ry="1.6"/><ellipse cx="109.1" cy="270.3" rx="1.2" ry="1.7"/><ellipse cx="125" cy="270.3" rx="1.0" ry="1.4"/><ellipse cx="116.8" cy="270.3" rx="1.0" ry="1.4"/><ellipse cx="124.3" cy="270.3" rx="1.2" ry="1.7"/><ellipse cx="110.4" cy="270.3" rx="1.0" ry="1.4"/><ellipse cx="110.9" cy="270.3" rx="1.1" ry="1.6"/><ellipse cx="113.2" cy="270.3" rx="1.2" ry="1.7"/><ellipse cx="122.6" cy="270.3" rx="1.1" ry="1.6"/><ellipse cx="113.4" cy="270.3" rx="1.1" ry="1.6"/><ellipse cx="117.5" cy="270.3" rx="1.2" ry="1.7"/><ellipse cx="125" cy="270.3" rx="1.1" ry="1.6"/><ellipse cx="122" cy="270.3" rx="1.2" ry="1.7"/><ellipse cx="116.4" cy="270.3" rx="1.1" ry="1.6"/><ellipse cx="119.3" cy="270.3" rx="1.0" ry="1.4"/><ellipse cx="110.5" cy="270.3" rx="1.2" ry="1.7"/><ellipse cx="114.3" cy="270.3" rx="1.2" ry="1.7"/><ellipse cx="113.3" cy="270.3" rx="1.1" ry="1.6"/><ellipse cx="109.6" cy="270.3" rx="1.1" ry="1.6"/><ellipse cx="122.4" cy="270.3" rx="1.0" ry="1.4"/><ellipse cx="111.5" cy="270.3" rx="1.2" ry="1.7"/><ellipse cx="125" cy="270.3" rx="1.1" ry="1.6"/><ellipse cx="114.2" cy="270.3" rx="1.1" ry="1.6"/><ellipse cx="124.7" cy="270.3" rx="1.2" ry="1.7"/><ellipse cx="120.1" cy="270.3" rx="1.2" ry="1.7"/><ellipse cx="121" cy="270.3" rx="1.0" ry="1.4"/><ellipse cx="124.8" cy="270.3" rx="1.1" ry="1.6"/><ellipse cx="117.6" cy="270.3" rx="1.1" ry="1.6"/><ellipse cx="114.4" cy="270.3" rx="1.0" ry="1.4"/><ellipse cx="123.8" cy="270.3" rx="1.1" ry="1.6"/><ellipse cx="123.5" cy="270.3" rx="1.2" ry="1.7"/><ellipse cx="114.8" cy="270.3" rx="1.0" ry="1.4"/><ellipse cx="119.6" cy="270.3" rx="1.0" ry="1.4"/><ellipse cx="125" cy="270.3" rx="1.0" ry="1.4"/><ellipse cx="122.9" cy="270.3" rx="1.0" ry="1.4"/><ellipse cx="110.6" cy="270.3" rx="1.0" ry="1.4"/><ellipse cx="123.2" cy="270.3" rx="1.1" ry="1.6"/><ellipse cx="123.1" cy="270.3" rx="1.2" ry="1.7"/><ellipse cx="120.9" cy="270.3" rx="1.0" ry="1.4"/><ellipse cx="112" cy="270.3" rx="1.0" ry="1.4"/><ellipse cx="113.9" cy="270.3" rx="1.2" ry="1.7"/><ellipse cx="121.9" cy="270.3" rx="1.2" ry="1.7"/><ellipse cx="117" cy="270.3" rx="1.0" ry="1.4"/><ellipse cx="125" cy="270.3" rx="1.1" ry="1.6"/><ellipse cx="124.8" cy="270.3" rx="1.1" ry="1.6"/><ellipse cx="122" cy="270.3" rx="1.2" ry="1.7"/><ellipse cx="117.7" cy="270.3" rx="1.2" ry="1.7"/><ellipse cx="143.8" cy="270.3" rx="1.1" ry="1.6"/><ellipse cx="134.6" cy="270.3" rx="1.2" ry="1.7"/><ellipse cx="141.6" cy="270.3" rx="1.0" ry="1.4"/><ellipse cx="135.1" cy="270.3" rx="1.0" ry="1.4"/><ellipse cx="134.7" cy="270.3" rx="1.2" ry="1.7"/><ellipse cx="134.7" cy="270.3" rx="1.2" ry="1.7"/><ellipse cx="134.7" cy="270.3" rx="1.1" ry="1.6"/><ellipse cx="135.7" cy="270.3" rx="1.2" ry="1.7"/><ellipse cx="138.2" cy="270.3" rx="1.2" ry="1.7"/><ellipse cx="139.1" cy="270.3" rx="1.2" ry="1.7"/><ellipse cx="135.7" cy="270.3" rx="1.2" ry="1.7"/><ellipse cx="137.6" cy="270.3" rx="1.2" ry="1.7"/><ellipse cx="136" cy="270.3" rx="1.0" ry="1.4"/><ellipse cx="138.2" cy="270.3" rx="1.0" ry="1.4"/><ellipse cx="134.8" cy="270.3" rx="1.1" ry="1.6"/><ellipse cx="138.7" cy="270.3" rx="1.0" ry="1.4"/><ellipse cx="134.6" cy="270.3" rx="1.2" ry="1.7"/><ellipse cx="142.6" cy="270.3" rx="1.0" ry="1.4"/><ellipse cx="135.2" cy="270.3" rx="1.0" ry="1.4"/><ellipse cx="138" cy="270.3" rx="1.0" ry="1.4"/></g>
<rect x="108" y="268.6" width="18.2" height="3.4" rx="1.5" fill="url(#gl)" opacity="0.76"/>
<rect x="133.5" y="268.6" width="11.5" height="3.4" rx="1.5" fill="url(#gr)" opacity="0.92"/>
<text transform="translate(46.6,288.73) rotate(0.05) scale(0.81,1)" font-size="3.7" text-anchor="end"  stroke="#111" stroke-width="0.05">Others</text>
<path d="M47 287.4h0.8" stroke="#999" stroke-width="0.3"/>
<g fill="#1e78c6" fill-opacity="0.85" stroke="#0e3356" stroke-opacity="0.6" stroke-width="0.4"><ellipse cx="59" cy="287.4" rx="1.1" ry="1.6"/><ellipse cx="71.8" cy="287.4" rx="1.1" ry="1.6"/><ellipse cx="97.3" cy="287.4" rx="1.0" ry="1.4"/><ellipse cx="101.3" cy="287.4" rx="1.1" ry="1.6"/><ellipse cx="179.1" cy="287.4" rx="1.1" ry="1.6"/><ellipse cx="189.3" cy="287.4" rx="1.0" ry="1.4"/><ellipse cx="105.1" cy="287.4" rx="1.0" ry="1.4"/><ellipse cx="125" cy="287.4" rx="1.0" ry="1.4"/><ellipse cx="122.9" cy="287.4" rx="1.0" ry="1.4"/><ellipse cx="124.1" cy="287.4" rx="1.1" ry="1.6"/><ellipse cx="106.7" cy="287.4" rx="1.2" ry="1.7"/><ellipse cx="116.2" cy="287.4" rx="1.0" ry="1.4"/><ellipse cx="113.3" cy="287.4" rx="1.2" ry="1.7"/><ellipse cx="116.5" cy="287.4" rx="1.1" ry="1.6"/><ellipse cx="117.5" cy="287.4" rx="1.1" ry="1.6"/><ellipse cx="109.2" cy="287.4" rx="1.0" ry="1.4"/><ellipse cx="124.8" cy="287.4" rx="1.1" ry="1.6"/><ellipse cx="121.2" cy="287.4" rx="1.2" ry="1.7"/><ellipse cx="123.5" cy="287.4" rx="1.0" ry="1.4"/><ellipse cx="116.7" cy="287.4" rx="1.1" ry="1.6"/><ellipse cx="120.9" cy="287.4" rx="1.0" ry="1.4"/><ellipse cx="107.7" cy="287.4" rx="1.1" ry="1.6"/><ellipse cx="123.3" cy="287.4" rx="1.1" ry="1.6"/><ellipse cx="122.9" cy="287.4" rx="1.2" ry="1.7"/><ellipse cx="107.8" cy="287.4" rx="1.2" ry="1.7"/><ellipse cx="113.6" cy="287.4" rx="1.1" ry="1.6"/><ellipse cx="120.3" cy="287.4" rx="1.0" ry="1.4"/><ellipse cx="121.3" cy="287.4" rx="1.1" ry="1.6"/><ellipse cx="113.2" cy="287.4" rx="1.0" ry="1.4"/><ellipse cx="124.2" cy="287.4" rx="1.1" ry="1.6"/><ellipse cx="113.6" cy="287.4" rx="1.1" ry="1.6"/><ellipse cx="123.4" cy="287.4" rx="1.0" ry="1.4"/><ellipse cx="111.2" cy="287.4" rx="1.2" ry="1.7"/><ellipse cx="124.8" cy="287.4" rx="1.0" ry="1.4"/><ellipse cx="107.9" cy="287.4" rx="1.2" ry="1.7"/><ellipse cx="109.5" cy="287.4" rx="1.2" ry="1.7"/><ellipse cx="125" cy="287.4" rx="1.0" ry="1.4"/><ellipse cx="124.1" cy="287.4" rx="1.1" ry="1.6"/><ellipse cx="107.9" cy="287.4" rx="1.1" ry="1.6"/><ellipse cx="110.8" cy="287.4" rx="1.2" ry="1.7"/><ellipse cx="122.5" cy="287.4" rx="1.1" ry="1.6"/><ellipse cx="111.4" cy="287.4" rx="1.0" ry="1.4"/><ellipse cx="117.1" cy="287.4" rx="1.1" ry="1.6"/><ellipse cx="123.2" cy="287.4" rx="1.1" ry="1.6"/><ellipse cx="114.5" cy="287.4" rx="1.2" ry="1.7"/><ellipse cx="120.5" cy="287.4" rx="1.2" ry="1.7"/><ellipse cx="124.3" cy="287.4" rx="1.0" ry="1.4"/><ellipse cx="109.9" cy="287.4" rx="1.0" ry="1.4"/><ellipse cx="113.7" cy="287.4" rx="1.0" ry="1.4"/><ellipse cx="123.2" cy="287.4" rx="1.2" ry="1.7"/><ellipse cx="120.3" cy="287.4" rx="1.1" ry="1.6"/><ellipse cx="114.6" cy="287.4" rx="1.1" ry="1.6"/><ellipse cx="121.3" cy="287.4" rx="1.2" ry="1.7"/><ellipse cx="123" cy="287.4" rx="1.2" ry="1.7"/><ellipse cx="118.3" cy="287.4" rx="1.0" ry="1.4"/><ellipse cx="106.7" cy="287.4" rx="1.2" ry="1.7"/><ellipse cx="124.6" cy="287.4" rx="1.2" ry="1.7"/><ellipse cx="123.1" cy="287.4" rx="1.1" ry="1.6"/><ellipse cx="119.2" cy="287.4" rx="1.0" ry="1.4"/><ellipse cx="105.6" cy="287.4" rx="1.0" ry="1.4"/><ellipse cx="105.3" cy="287.4" rx="1.0" ry="1.4"/><ellipse cx="125" cy="287.4" rx="1.0" ry="1.4"/><ellipse cx="115.6" cy="287.4" rx="1.1" ry="1.6"/><ellipse cx="124.3" cy="287.4" rx="1.2" ry="1.7"/><ellipse cx="123.6" cy="287.4" rx="1.1" ry="1.6"/><ellipse cx="124.3" cy="287.4" rx="1.0" ry="1.4"/><ellipse cx="118.9" cy="287.4" rx="1.1" ry="1.6"/><ellipse cx="105.3" cy="287.4" rx="1.1" ry="1.6"/><ellipse cx="106.2" cy="287.4" rx="1.2" ry="1.7"/><ellipse cx="121.4" cy="287.4" rx="1.0" ry="1.4"/><ellipse cx="108.4" cy="287.4" rx="1.0" ry="1.4"/><ellipse cx="114.4" cy="287.4" rx="1.0" ry="1.4"/><ellipse cx="124.8" cy="287.4" rx="1.0" ry="1.4"/><ellipse cx="108.3" cy="287.4" rx="1.2" ry="1.7"/><ellipse cx="122.8" cy="287.4" rx="1.0" ry="1.4"/><ellipse cx="105.8" cy="287.4" rx="1.1" ry="1.6"/><ellipse cx="144.4" cy="287.4" rx="1.0" ry="1.4"/><ellipse cx="134.6" cy="287.4" rx="1.2" ry="1.7"/><ellipse cx="137.7" cy="287.4" rx="1.0" ry="1.4"/><ellipse cx="137.8" cy="287.4" rx="1.1" ry="1.6"/><ellipse cx="135.1" cy="287.4" rx="1.0" ry="1.4"/><ellipse cx="137.5" cy="287.4" rx="1.1" ry="1.6"/><ellipse cx="140.7" cy="287.4" rx="1.2" ry="1.7"/><ellipse cx="138.2" cy="287.4" rx="1.2" ry="1.7"/><ellipse cx="144.1" cy="287.4" rx="1.0" ry="1.4"/><ellipse cx="138" cy="287.4" rx="1.0" ry="1.4"/><ellipse cx="142.9" cy="287.4" rx="1.2" ry="1.7"/><ellipse cx="134.9" cy="287.4" rx="1.2" ry="1.7"/><ellipse cx="140.4" cy="287.4" rx="1.0" ry="1.4"/><ellipse cx="138.7" cy="287.4" rx="1.1" ry="1.6"/><ellipse cx="142.5" cy="287.4" rx="1.1" ry="1.6"/><ellipse cx="136.1" cy="287.4" rx="1.0" ry="1.4"/><ellipse cx="137.2" cy="287.4" rx="1.2" ry="1.7"/><ellipse cx="141.5" cy="287.4" rx="1.1" ry="1.6"/><ellipse cx="135.6" cy="287.4" rx="1.2" ry="1.7"/><ellipse cx="136.4" cy="287.4" rx="1.2" ry="1.7"/><ellipse cx="142" cy="287.4" rx="1.2" ry="1.7"/><ellipse cx="139.3" cy="287.4" rx="1.2" ry="1.7"/><ellipse cx="137.5" cy="287.4" rx="1.1" ry="1.6"/><ellipse cx="134.6" cy="287.4" rx="1.0" ry="1.4"/></g>
<rect x="104" y="285.7" width="22.2" height="3.4" rx="1.5" fill="url(#gl)" opacity="1"/>
<rect x="133.5" y="285.7" width="12.1" height="3.4" rx="1.5" fill="url(#gr)" opacity="1"/>
<text transform="translate(46.6,305.82) rotate(0.05) scale(0.81,1)" font-size="3.7" text-anchor="end"  stroke="#111" stroke-width="0.05">Phenolic acids</text>
<path d="M47 304.5h0.8" stroke="#999" stroke-width="0.3"/>
<g fill="#3c4cb4" fill-opacity="0.85" stroke="#161e50" stroke-opacity="0.6" stroke-width="0.4"><ellipse cx="55.4" cy="304.5" rx="1.0" ry="1.4"/><ellipse cx="66.7" cy="304.5" rx="1.0" ry="1.4"/><ellipse cx="75.8" cy="304.5" rx="1.1" ry="1.6"/><ellipse cx="104.4" cy="304.5" rx="1.2" ry="1.7"/><ellipse cx="169.3" cy="304.5" rx="1.2" ry="1.7"/><ellipse cx="182" cy="304.5" rx="1.0" ry="1.4"/><ellipse cx="109.1" cy="304.5" rx="1.1" ry="1.6"/><ellipse cx="125" cy="304.5" rx="1.0" ry="1.4"/><ellipse cx="111.3" cy="304.5" rx="1.2" ry="1.7"/><ellipse cx="119.2" cy="304.5" rx="1.2" ry="1.7"/><ellipse cx="118" cy="304.5" rx="1.1" ry="1.6"/><ellipse cx="114.9" cy="304.5" rx="1.0" ry="1.4"/><ellipse cx="117.6" cy="304.5" rx="1.2" ry="1.7"/><ellipse cx="110.5" cy="304.5" rx="1.0" ry="1.4"/><ellipse cx="110.3" cy="304.5" rx="1.2" ry="1.7"/><ellipse cx="115.5" cy="304.5" rx="1.2" ry="1.7"/><ellipse cx="114" cy="304.5" rx="1.0" ry="1.4"/><ellipse cx="124.4" cy="304.5" rx="1.2" ry="1.7"/><ellipse cx="123.3" cy="304.5" rx="1.1" ry="1.6"/><ellipse cx="116.1" cy="304.5" rx="1.1" ry="1.6"/><ellipse cx="118.7" cy="304.5" rx="1.1" ry="1.6"/><ellipse cx="112.6" cy="304.5" rx="1.0" ry="1.4"/><ellipse cx="114.7" cy="304.5" rx="1.1" ry="1.6"/><ellipse cx="122.6" cy="304.5" rx="1.1" ry="1.6"/><ellipse cx="124.2" cy="304.5" rx="1.0" ry="1.4"/><ellipse cx="117.2" cy="304.5" rx="1.0" ry="1.4"/><ellipse cx="124.6" cy="304.5" rx="1.2" ry="1.7"/><ellipse cx="120.2" cy="304.5" rx="1.0" ry="1.4"/><ellipse cx="123.2" cy="304.5" rx="1.1" ry="1.6"/><ellipse cx="121.6" cy="304.5" rx="1.1" ry="1.6"/><ellipse cx="117.3" cy="304.5" rx="1.0" ry="1.4"/><ellipse cx="117.7" cy="304.5" rx="1.2" ry="1.7"/><ellipse cx="118" cy="304.5" rx="1.1" ry="1.6"/><ellipse cx="124.9" cy="304.5" rx="1.1" ry="1.6"/><ellipse cx="111.9" cy="304.5" rx="1.0" ry="1.4"/><ellipse cx="116.2" cy="304.5" rx="1.2" ry="1.7"/><ellipse cx="111.5" cy="304.5" rx="1.2" ry="1.7"/><ellipse cx="118.1" cy="304.5" rx="1.1" ry="1.6"/><ellipse cx="117.4" cy="304.5" rx="1.0" ry="1.4"/><ellipse cx="112" cy="304.5" rx="1.1" ry="1.6"/><ellipse cx="115.3" cy="304.5" rx="1.0" ry="1.4"/><ellipse cx="117.7" cy="304.5" rx="1.0" ry="1.4"/><ellipse cx="124.9" cy="304.5" rx="1.2" ry="1.7"/><ellipse cx="125" cy="304.5" rx="1.1" ry="1.6"/><ellipse cx="116" cy="304.5" rx="1.1" ry="1.6"/><ellipse cx="113" cy="304.5" rx="1.2" ry="1.7"/><ellipse cx="121.8" cy="304.5" rx="1.2" ry="1.7"/><ellipse cx="123.9" cy="304.5" rx="1.0" ry="1.4"/><ellipse cx="121" cy="304.5" rx="1.0" ry="1.4"/><ellipse cx="113.1" cy="304.5" rx="1.2" ry="1.7"/><ellipse cx="115.1" cy="304.5" rx="1.2" ry="1.7"/><ellipse cx="124.5" cy="304.5" rx="1.1" ry="1.6"/><ellipse cx="124" cy="304.5" rx="1.2" ry="1.7"/><ellipse cx="123.9" cy="304.5" rx="1.2" ry="1.7"/><ellipse cx="115.4" cy="304.5" rx="1.0" ry="1.4"/><ellipse cx="123.5" cy="304.5" rx="1.2" ry="1.7"/><ellipse cx="112" cy="304.5" rx="1.2" ry="1.7"/><ellipse cx="121.5" cy="304.5" rx="1.1" ry="1.6"/><ellipse cx="124" cy="304.5" rx="1.1" ry="1.6"/><ellipse cx="121.4" cy="304.5" rx="1.2" ry="1.7"/><ellipse cx="124.4" cy="304.5" rx="1.0" ry="1.4"/><ellipse cx="146.2" cy="304.5" rx="1.0" ry="1.4"/><ellipse cx="134.6" cy="304.5" rx="1.2" ry="1.7"/><ellipse cx="137.2" cy="304.5" rx="1.0" ry="1.4"/><ellipse cx="136.8" cy="304.5" rx="1.1" ry="1.6"/><ellipse cx="134.6" cy="304.5" rx="1.0" ry="1.4"/><ellipse cx="135.5" cy="304.5" rx="1.0" ry="1.4"/><ellipse cx="146" cy="304.5" rx="1.2" ry="1.7"/><ellipse cx="143.6" cy="304.5" rx="1.1" ry="1.6"/><ellipse cx="137.3" cy="304.5" rx="1.0" ry="1.4"/><ellipse cx="143.8" cy="304.5" rx="1.0" ry="1.4"/><ellipse cx="144.4" cy="304.5" rx="1.1" ry="1.6"/><ellipse cx="143.5" cy="304.5" rx="1.0" ry="1.4"/><ellipse cx="141.3" cy="304.5" rx="1.0" ry="1.4"/><ellipse cx="139" cy="304.5" rx="1.0" ry="1.4"/><ellipse cx="138.3" cy="304.5" rx="1.2" ry="1.7"/><ellipse cx="141.2" cy="304.5" rx="1.2" ry="1.7"/><ellipse cx="139.5" cy="304.5" rx="1.1" ry="1.6"/><ellipse cx="145.7" cy="304.5" rx="1.0" ry="1.4"/><ellipse cx="135.2" cy="304.5" rx="1.1" ry="1.6"/><ellipse cx="144.3" cy="304.5" rx="1.1" ry="1.6"/><ellipse cx="141.8" cy="304.5" rx="1.1" ry="1.6"/><ellipse cx="137.5" cy="304.5" rx="1.2" ry="1.7"/><ellipse cx="143.4" cy="304.5" rx="1.2" ry="1.7"/><ellipse cx="136" cy="304.5" rx="1.0" ry="1.4"/><ellipse cx="137" cy="304.5" rx="1.2" ry="1.7"/><ellipse cx="139.2" cy="304.5" rx="1.1" ry="1.6"/></g>
<rect x="108" y="302.8" width="18.2" height="3.4" rx="1.5" fill="url(#gl)" opacity="1"/>
<rect x="133.5" y="302.8" width="13.9" height="3.4" rx="1.5" fill="url(#gr)" opacity="0.98"/>
<text transform="translate(46.6,322.91) rotate(0.05) scale(0.81,1)" font-size="3.7" text-anchor="end"  stroke="#111" stroke-width="0.05">Quinones</text>
<path d="M47 321.6h0.8" stroke="#999" stroke-width="0.3"/>
<g fill="#9a62d4" fill-opacity="0.85" stroke="#432862" stroke-opacity="0.6" stroke-width="0.4"><ellipse cx="110.2" cy="321.6" rx="1.1" ry="1.6"/><ellipse cx="150" cy="321.6" rx="1.2" ry="1.7"/><ellipse cx="152.1" cy="321.6" rx="1.0" ry="1.4"/><ellipse cx="182" cy="321.6" rx="1.1" ry="1.6"/><ellipse cx="117.5" cy="321.6" rx="1.2" ry="1.7"/><ellipse cx="122.5" cy="321.6" rx="1.1" ry="1.6"/><ellipse cx="118.9" cy="321.6" rx="1.2" ry="1.7"/><ellipse cx="118.1" cy="321.6" rx="1.0" ry="1.4"/><ellipse cx="120.8" cy="321.6" rx="1.2" ry="1.7"/><ellipse cx="122.2" cy="321.6" rx="1.2" ry="1.7"/><ellipse cx="134.6" cy="321.6" rx="1.1" ry="1.6"/></g>
<text transform="translate(46.6,340) rotate(0.05) scale(0.81,1)" font-size="3.7" text-anchor="end"  stroke="#111" stroke-width="0.05">Terpenoids</text>
<path d="M47 338.7h0.8" stroke="#999" stroke-width="0.3"/>
<g fill="#c03cc0" fill-opacity="0.85" stroke="#561a56" stroke-opacity="0.6" stroke-width="0.4"><ellipse cx="74.7" cy="338.7" rx="1.0" ry="1.4"/><ellipse cx="182" cy="338.7" rx="1.2" ry="1.7"/><ellipse cx="115.7" cy="338.7" rx="1.1" ry="1.6"/><ellipse cx="125" cy="338.7" rx="1.2" ry="1.7"/><ellipse cx="117.2" cy="338.7" rx="1.1" ry="1.6"/><ellipse cx="118.5" cy="338.7" rx="1.2" ry="1.7"/><ellipse cx="119.1" cy="338.7" rx="1.1" ry="1.6"/><ellipse cx="124.3" cy="338.7" rx="1.1" ry="1.6"/><ellipse cx="116.4" cy="338.7" rx="1.1" ry="1.6"/><ellipse cx="120.6" cy="338.7" rx="1.2" ry="1.7"/><ellipse cx="125" cy="338.7" rx="1.1" ry="1.6"/><ellipse cx="116" cy="338.7" rx="1.0" ry="1.4"/><ellipse cx="119.9" cy="338.7" rx="1.2" ry="1.7"/><ellipse cx="124.5" cy="338.7" rx="1.0" ry="1.4"/><ellipse cx="117.4" cy="338.7" rx="1.0" ry="1.4"/><ellipse cx="121.1" cy="338.7" rx="1.1" ry="1.6"/><ellipse cx="120.7" cy="338.7" rx="1.0" ry="1.4"/><ellipse cx="125" cy="338.7" rx="1.1" ry="1.6"/><ellipse cx="124.3" cy="338.7" rx="1.0" ry="1.4"/><ellipse cx="118.7" cy="338.7" rx="1.0" ry="1.4"/><ellipse cx="125" cy="338.7" rx="1.2" ry="1.7"/><ellipse cx="124.4" cy="338.7" rx="1.0" ry="1.4"/><ellipse cx="124.9" cy="338.7" rx="1.1" ry="1.6"/><ellipse cx="121.3" cy="338.7" rx="1.0" ry="1.4"/><ellipse cx="124.7" cy="338.7" rx="1.2" ry="1.7"/><ellipse cx="118.8" cy="338.7" rx="1.1" ry="1.6"/><ellipse cx="122.6" cy="338.7" rx="1.2" ry="1.7"/><ellipse cx="118.9" cy="338.7" rx="1.0" ry="1.4"/><ellipse cx="117" cy="338.7" rx="1.0" ry="1.4"/><ellipse cx="116.1" cy="338.7" rx="1.0" ry="1.4"/><ellipse cx="124.4" cy="338.7" rx="1.0" ry="1.4"/><ellipse cx="123.3" cy="338.7" rx="1.0" ry="1.4"/><ellipse cx="157.1" cy="338.7" rx="1.1" ry="1.6"/><ellipse cx="134.6" cy="338.7" rx="1.1" ry="1.6"/><ellipse cx="154.8" cy="338.7" rx="1.0" ry="1.4"/><ellipse cx="138.1" cy="338.7" rx="1.2" ry="1.7"/><ellipse cx="144.8" cy="338.7" rx="1.0" ry="1.4"/><ellipse cx="136.8" cy="338.7" rx="1.2" ry="1.7"/><ellipse cx="147.6" cy="338.7" rx="1.0" ry="1.4"/><ellipse cx="137.2" cy="338.7" rx="1.1" ry="1.6"/><ellipse cx="139.8" cy="338.7" rx="1.0" ry="1.4"/><ellipse cx="147.6" cy="338.7" rx="1.0" ry="1.4"/><ellipse cx="150.9" cy="338.7" rx="1.1" ry="1.6"/><ellipse cx="135.4" cy="338.7" rx="1.0" ry="1.4"/><ellipse cx="135.7" cy="338.7" rx="1.2" ry="1.7"/><ellipse cx="136.2" cy="338.7" rx="1.0" ry="1.4"/><ellipse cx="148.9" cy="338.7" rx="1.0" ry="1.4"/><ellipse cx="146.1" cy="338.7" rx="1.0" ry="1.4"/><ellipse cx="147.4" cy="338.7" rx="1.0" ry="1.4"/><ellipse cx="150.2" cy="338.7" rx="1.2" ry="1.7"/><ellipse cx="136.5" cy="338.7" rx="1.2" ry="1.7"/><ellipse cx="141.4" cy="338.7" rx="1.1" ry="1.6"/><ellipse cx="134.6" cy="338.7" rx="1.1" ry="1.6"/><ellipse cx="138.4" cy="338.7" rx="1.0" ry="1.4"/><ellipse cx="144.1" cy="338.7" rx="1.1" ry="1.6"/><ellipse cx="136.9" cy="338.7" rx="1.1" ry="1.6"/><ellipse cx="149.8" cy="338.7" rx="1.2" ry="1.7"/><ellipse cx="136.2" cy="338.7" rx="1.1" ry="1.6"/><ellipse cx="140.2" cy="338.7" rx="1.1" ry="1.6"/><ellipse cx="146.4" cy="338.7" rx="1.2" ry="1.7"/><ellipse cx="136.3" cy="338.7" rx="1.0" ry="1.4"/><ellipse cx="145.8" cy="338.7" rx="1.2" ry="1.7"/><ellipse cx="139.3" cy="338.7" rx="1.1" ry="1.6"/><ellipse cx="134.7" cy="338.7" rx="1.0" ry="1.4"/><ellipse cx="135.1" cy="338.7" rx="1.0" ry="1.4"/><ellipse cx="145.5" cy="338.7" rx="1.2" ry="1.7"/><ellipse cx="150.7" cy="338.7" rx="1.2" ry="1.7"/><ellipse cx="146.3" cy="338.7" rx="1.2" ry="1.7"/><ellipse cx="152.1" cy="338.7" rx="1.2" ry="1.7"/><ellipse cx="145.9" cy="338.7" rx="1.2" ry="1.7"/><ellipse cx="149.3" cy="338.7" rx="1.1" ry="1.6"/><ellipse cx="151.3" cy="338.7" rx="1.0" ry="1.4"/><ellipse cx="143.9" cy="338.7" rx="1.1" ry="1.6"/><ellipse cx="142.3" cy="338.7" rx="1.2" ry="1.7"/><ellipse cx="135.6" cy="338.7" rx="1.1" ry="1.6"/><ellipse cx="136.5" cy="338.7" rx="1.1" ry="1.6"/><ellipse cx="134.9" cy="338.7" rx="1.1" ry="1.6"/></g>
<rect x="114.6" y="337" width="11.6" height="3.4" rx="1.5" fill="url(#gl)" opacity="0.79"/>
<rect x="133.5" y="337" width="24.8" height="3.4" rx="1.5" fill="url(#gr)" opacity="0.96"/>
<text transform="translate(61.5,352.1) rotate(0.05) scale(0.85,1)" font-size="3.3" text-anchor="middle" fill="#444"  stroke="#444" stroke-width="0.05">-20</text>
<text transform="translate(95.5,352.1) rotate(0.05) scale(0.85,1)" font-size="3.3" text-anchor="middle" fill="#444"  stroke="#444" stroke-width="0.05">-10</text>
<text transform="translate(129.5,352.1) rotate(0.05) scale(0.85,1)" font-size="3.3" text-anchor="middle" fill="#444"  stroke="#444" stroke-width="0.05">0</text>
<text transform="translate(163.5,352.1) rotate(0.05) scale(0.85,1)" font-size="3.3" text-anchor="middle" fill="#444"  stroke="#444" stroke-width="0.05">10</text>
<text transform="translate(197.5,352.1) rotate(0.05) scale(0.85,1)" font-size="3.3" text-anchor="middle" fill="#444"  stroke="#444" stroke-width="0.05">20</text>
<text transform="translate(129.5,356.4) rotate(0.05) scale(0.82,1)" font-size="3.6" text-anchor="middle"  stroke="#111" stroke-width="0.05">Log2(Fold Change)</text>
<text transform="translate(10.8,238.6) rotate(-90) scale(0.82,1)" font-size="3.6" text-anchor="middle"  stroke="#111" stroke-width="0.05">Class</text>
<text x="196.2" y="219.9" font-size="3.6" textLength="51.6" lengthAdjust="spacingAndGlyphs" stroke="#111" stroke-width="0.1">Variable Importance in Projection (VIP)</text>
<ellipse cx="198" cy="222.9" rx="0.7" ry="0.8" fill="#fff" stroke="#777" stroke-width="0.3"/>
<text transform="translate(200.4,224.1) rotate(0.05) scale(0.82,1)" font-size="3.6"  stroke="#111" stroke-width="0.05">1.325</text>
<ellipse cx="198" cy="226.6" rx="0.95" ry="1.1" fill="#fff" stroke="#777" stroke-width="0.3"/>
<text transform="translate(200.4,227.75) rotate(0.05) scale(0.82,1)" font-size="3.6"  stroke="#111" stroke-width="0.05">1.350</text>
<ellipse cx="198" cy="230.2" rx="1.2" ry="1.4" fill="#fff" stroke="#777" stroke-width="0.3"/>
<text transform="translate(200.4,231.4) rotate(0.05) scale(0.82,1)" font-size="3.6"  stroke="#111" stroke-width="0.05">1.375</text>
<ellipse cx="198" cy="233.8" rx="1.45" ry="1.7" fill="#fff" stroke="#777" stroke-width="0.3"/>
<text transform="translate(200.4,235.05) rotate(0.05) scale(0.82,1)" font-size="3.6"  stroke="#111" stroke-width="0.05">1.400</text>
<text transform="translate(196.2,242.8) rotate(0.05) scale(0.82,1)" font-size="3.6"  stroke="#111" stroke-width="0.05">Class</text>
<rect x="197.1" y="244.9" width="1.3" height="1.5" fill="#f2d81c"/>
<text transform="translate(200.4,246.95) rotate(0.05) scale(0.81,1)" font-size="3.7"  stroke="#111" stroke-width="0.05">Alkaloids</text>
<rect x="197.1" y="248.6" width="1.3" height="1.5" fill="#cfd01c"/>
<text transform="translate(200.4,250.65) rotate(0.05) scale(0.81,1)" font-size="3.7"  stroke="#111" stroke-width="0.05">Amino acids and derivatives</text>
<rect x="197.1" y="252.3" width="1.3" height="1.5" fill="#94cc2e"/>
<text transform="translate(200.4,254.35) rotate(0.05) scale(0.81,1)" font-size="3.7"  stroke="#111" stroke-width="0.05">Flavonoids</text>
<rect x="197.1" y="256.1" width="1.3" height="1.5" fill="#34b848"/>
<text transform="translate(200.4,258.05) rotate(0.05) scale(0.81,1)" font-size="3.7"  stroke="#111" stroke-width="0.05">Lignans and Coumarins</text>
<rect x="197.1" y="259.8" width="1.3" height="1.5" fill="#1fae62"/>
<text transform="translate(200.4,261.75) rotate(0.05) scale(0.81,1)" font-size="3.7"  stroke="#111" stroke-width="0.05">Lipids</text>
<rect x="197.1" y="263.4" width="1.3" height="1.5" fill="#1cae98"/>
<text transform="translate(200.4,265.45) rotate(0.05) scale(0.81,1)" font-size="3.7"  stroke="#111" stroke-width="0.05">Nucleotides and derivatives</text>
<rect x="197.1" y="267.1" width="1.3" height="1.5" fill="#1e9cb8"/>
<text transform="translate(200.4,269.15) rotate(0.05) scale(0.81,1)" font-size="3.7"  stroke="#111" stroke-width="0.05">Organic acids</text>
<rect x="197.1" y="270.8" width="1.3" height="1.5" fill="#1e78c6"/>
<text transform="translate(200.4,272.85) rotate(0.05) scale(0.81,1)" font-size="3.7"  stroke="#111" stroke-width="0.05">Others</text>
<rect x="197.1" y="274.6" width="1.3" height="1.5" fill="#3c4cb4"/>
<text transform="translate(200.4,276.55) rotate(0.05) scale(0.81,1)" font-size="3.7"  stroke="#111" stroke-width="0.05">Phenolic acids</text>
<rect x="197.1" y="278.2" width="1.3" height="1.5" fill="#9a62d4"/>
<text transform="translate(200.4,280.25) rotate(0.05) scale(0.81,1)" font-size="3.7"  stroke="#111" stroke-width="0.05">Quinones</text>
<rect x="197.1" y="281.9" width="1.3" height="1.5" fill="#c03cc0"/>
<text transform="translate(200.4,283.95) rotate(0.05) scale(0.81,1)" font-size="3.7"  stroke="#111" stroke-width="0.05">Terpenoids</text>
</g>
<g id="panelC">
<rect x="369.2" y="15.6" width="147.2" height="338.6" fill="#fff" stroke="#858585" stroke-width="0.7"/>
<text transform="translate(366.3,28.5) rotate(0.05) scale(0.82,1)" font-size="5.9" text-anchor="end" fill="#000"  stroke="#000" stroke-width="0.08">Isoflavonoid biosynthesis</text>
<path d="M367.2 26.4H369.2" stroke="#555" stroke-width="0.4"/>
<path d="M442.6 26.4H482.4" stroke="#ee0000" stroke-width="0.8" stroke-opacity="0.7"/>
<ellipse cx="482.4" cy="26.4" rx="3.5" ry="4.3" fill="#ee0000"/>
<text transform="translate(366.3,45.22) rotate(0.05) scale(0.82,1)" font-size="5.9" text-anchor="end" fill="#000"  stroke="#000" stroke-width="0.08">Flavonoid biosynthesis</text>
<path d="M367.2 43.1H369.2" stroke="#555" stroke-width="0.4"/>
<path d="M442.6 43.1H457.6" stroke="#f20000" stroke-width="0.8" stroke-opacity="0.7"/>
<ellipse cx="457.6" cy="43.1" rx="3.8" ry="4.8" fill="#f20000"/>
<text transform="translate(366.3,61.94) rotate(0.05) scale(0.82,1)" font-size="5.9" text-anchor="end" fill="#000"  stroke="#000" stroke-width="0.08">Flavone and flavonol biosynthesis</text>
<path d="M367.2 59.8H369.2" stroke="#555" stroke-width="0.4"/>
<path d="M442.6 59.8H427.6" stroke="#f80c00" stroke-width="0.8" stroke-opacity="0.7"/>
<ellipse cx="427.6" cy="59.8" rx="3.3" ry="4.0" fill="#f80c00"/>
<text transform="translate(366.3,78.66) rotate(0.05) scale(0.82,1)" font-size="5.9" text-anchor="end" fill="#000"  stroke="#000" stroke-width="0.08">Glyoxylate and dicarboxylate metabolism</text>
<path d="M367.2 76.6H369.2" stroke="#555" stroke-width="0.4"/>
<path d="M442.6 76.6H415.6" stroke="#fb1400" stroke-width="0.8" stroke-opacity="0.7"/>
<ellipse cx="415.6" cy="76.6" rx="2.8" ry="3.5" fill="#fb1400"/>
<text transform="translate(366.3,95.38) rotate(0.05) scale(0.82,1)" font-size="5.9" text-anchor="end" fill="#000"  stroke="#000" stroke-width="0.08">Purine metabolism</text>
<path d="M367.2 93.3H369.2" stroke="#555" stroke-width="0.4"/>
<path d="M442.6 93.3H427.8" stroke="#ff2800" stroke-width="0.8" stroke-opacity="0.7"/>
<ellipse cx="427.8" cy="93.3" rx="3.0" ry="3.8" fill="#ff2800"/>
<text transform="translate(366.3,112.1) rotate(0.05) scale(0.82,1)" font-size="5.9" text-anchor="end" fill="#000"  stroke="#000" stroke-width="0.08">Sphingolipid metabolism</text>
<path d="M367.2 110H369.2" stroke="#555" stroke-width="0.4"/>
<path d="M442.6 110H406" stroke="#ff2a10" stroke-width="0.8" stroke-opacity="0.7"/>
<ellipse cx="406" cy="110" rx="2.0" ry="2.5" fill="#ff2a10"/>
<text transform="translate(366.3,128.82) rotate(0.05) scale(0.82,1)" font-size="5.9" text-anchor="end" fill="#000"  stroke="#000" stroke-width="0.08">Vitamin B6 metabolism</text>
<path d="M367.2 126.7H369.2" stroke="#555" stroke-width="0.4"/>
<path d="M442.6 126.7H427.1" stroke="#ff7030" stroke-width="0.8" stroke-opacity="0.7"/>
<ellipse cx="427.1" cy="126.7" rx="2.0" ry="2.5" fill="#ff7030"/>
<text transform="translate(366.3,145.54) rotate(0.05) scale(0.82,1)" font-size="5.9" text-anchor="end" fill="#000"  stroke="#000" stroke-width="0.08">Nucleotide metabolism</text>
<path d="M367.2 143.4H369.2" stroke="#555" stroke-width="0.4"/>
<path d="M442.6 143.4H433.2" stroke="#ff7f3f" stroke-width="0.8" stroke-opacity="0.7"/>
<ellipse cx="433.2" cy="143.4" rx="3.3" ry="3.8" fill="#ff7f3f"/>
<text transform="translate(366.3,162.26) rotate(0.05) scale(0.82,1)" font-size="5.9" text-anchor="end" fill="#000"  stroke="#000" stroke-width="0.08">Oxidative phosphorylation</text>
<path d="M367.2 160.2H369.2" stroke="#555" stroke-width="0.4"/>
<path d="M442.6 160.2H461.4" stroke="#ff6a3a" stroke-width="0.8" stroke-opacity="0.7"/>
<ellipse cx="461.4" cy="160.2" rx="1.5" ry="1.8" fill="#ff6a3a"/>
<text transform="translate(366.3,178.98) rotate(0.05) scale(0.82,1)" font-size="5.9" text-anchor="end" fill="#000"  stroke="#000" stroke-width="0.08">Nicotinate and nicotinamide metabolism</text>
<path d="M367.2 176.9H369.2" stroke="#555" stroke-width="0.4"/>
<path d="M442.6 176.9H443.1" stroke="#e0a820" stroke-width="0.8" stroke-opacity="0.7"/>
<ellipse cx="443.1" cy="176.9" rx="2.8" ry="3.3" fill="#e0a820"/>
<text transform="translate(366.3,195.7) rotate(0.05) scale(0.82,1)" font-size="5.9" text-anchor="end" fill="#000"  stroke="#000" stroke-width="0.08">beta−Alanine metabolism</text>
<path d="M367.2 193.6H369.2" stroke="#555" stroke-width="0.4"/>
<path d="M442.6 193.6H432.9" stroke="#dcae20" stroke-width="0.8" stroke-opacity="0.7"/>
<ellipse cx="432.9" cy="193.6" rx="2.5" ry="3.0" fill="#dcae20"/>
<text transform="translate(366.3,212.42) rotate(0.05) scale(0.82,1)" font-size="5.9" text-anchor="end" fill="#000"  stroke="#000" stroke-width="0.08">Citrate cycle (TCA cycle)</text>
<path d="M367.2 210.3H369.2" stroke="#555" stroke-width="0.4"/>
<path d="M442.6 210.3H429.1" stroke="#d8b020" stroke-width="0.8" stroke-opacity="0.7"/>
<ellipse cx="429.1" cy="210.3" rx="2.3" ry="2.8" fill="#d8b020"/>
<text transform="translate(366.3,229.14) rotate(0.05) scale(0.82,1)" font-size="5.9" text-anchor="end" fill="#000"  stroke="#000" stroke-width="0.08">Betalain biosynthesis</text>
<path d="M367.2 227H369.2" stroke="#555" stroke-width="0.4"/>
<path d="M442.6 227H442.8" stroke="#d0c020" stroke-width="0.8" stroke-opacity="0.7"/>
<ellipse cx="442.8" cy="227" rx="0.9" ry="1.0" fill="#d0c020"/>
<text transform="translate(366.3,245.86) rotate(0.05) scale(0.82,1)" font-size="5.9" text-anchor="end" fill="#000"  stroke="#000" stroke-width="0.08">Stilbenoid, diarylheptanoid and gingerol biosynthesis</text>
<path d="M367.2 243.8H369.2" stroke="#555" stroke-width="0.4"/>
<path d="M442.6 243.8H386.9" stroke="#d4cc30" stroke-width="0.8" stroke-opacity="0.7"/>
<ellipse cx="386.9" cy="243.8" rx="0.9" ry="1.0" fill="#d4cc30"/>
<text transform="translate(366.3,262.58) rotate(0.05) scale(0.82,1)" font-size="5.9" text-anchor="end" fill="#000"  stroke="#000" stroke-width="0.08">Carotenoid biosynthesis</text>
<path d="M367.2 260.5H369.2" stroke="#555" stroke-width="0.4"/>
<path d="M442.6 260.5H498.8" stroke="#d4cc30" stroke-width="0.8" stroke-opacity="0.7"/>
<ellipse cx="498.8" cy="260.5" rx="0.9" ry="1.0" fill="#d4cc30"/>
<text transform="translate(366.3,279.3) rotate(0.05) scale(0.82,1)" font-size="5.9" text-anchor="end" fill="#000"  stroke="#000" stroke-width="0.08">Nitrogen metabolism</text>
<path d="M367.2 277.2H369.2" stroke="#555" stroke-width="0.4"/>
<path d="M442.6 277.2H386.9" stroke="#d4cc30" stroke-width="0.8" stroke-opacity="0.7"/>
<ellipse cx="386.9" cy="277.2" rx="0.9" ry="1.0" fill="#d4cc30"/>
<text transform="translate(366.3,296.02) rotate(0.05) scale(0.82,1)" font-size="5.9" text-anchor="end" fill="#000"  stroke="#000" stroke-width="0.08">Tryptophan metabolism</text>
<path d="M367.2 293.9H369.2" stroke="#555" stroke-width="0.4"/>
<path d="M442.6 293.9H440.3" stroke="#c0c020" stroke-width="0.8" stroke-opacity="0.7"/>
<ellipse cx="440.3" cy="293.9" rx="2.8" ry="3.3" fill="#c0c020"/>
<text transform="translate(366.3,312.74) rotate(0.05) scale(0.82,1)" font-size="5.9" text-anchor="end" fill="#000"  stroke="#000" stroke-width="0.08">Phenylalanine metabolism</text>
<path d="M367.2 310.6H369.2" stroke="#555" stroke-width="0.4"/>
<path d="M442.6 310.6H432.7" stroke="#b4c820" stroke-width="0.8" stroke-opacity="0.7"/>
<ellipse cx="432.7" cy="310.6" rx="2.8" ry="3.3" fill="#b4c820"/>
<text transform="translate(366.3,329.46) rotate(0.05) scale(0.82,1)" font-size="5.9" text-anchor="end" fill="#000"  stroke="#000" stroke-width="0.08">Ascorbate and aldarate metabolism</text>
<path d="M367.2 327.4H369.2" stroke="#555" stroke-width="0.4"/>
<path d="M442.6 327.4H418.9" stroke="#a8cc20" stroke-width="0.8" stroke-opacity="0.7"/>
<ellipse cx="418.9" cy="327.4" rx="3.0" ry="3.6" fill="#a8cc20"/>
<text transform="translate(366.3,346.18) rotate(0.05) scale(0.82,1)" font-size="5.9" text-anchor="end" fill="#000"  stroke="#000" stroke-width="0.08">Alanine, aspartate and glutamate metabolism</text>
<path d="M367.2 344.1H369.2" stroke="#555" stroke-width="0.4"/>
<path d="M442.6 344.1H430.4" stroke="#a8d020" stroke-width="0.8" stroke-opacity="0.7"/>
<ellipse cx="430.4" cy="344.1" rx="2.8" ry="3.4" fill="#a8d020"/>
<path d="M386.7 354.2v1.6" stroke="#555" stroke-width="0.4"/>
<text transform="translate(386.7,361.6) rotate(0.05) scale(0.84,1)" font-size="5.4" text-anchor="middle" fill="#333"  stroke="#333" stroke-width="0.08">−1.0</text>
<path d="M414.7 354.2v1.6" stroke="#555" stroke-width="0.4"/>
<text transform="translate(414.65,361.6) rotate(0.05) scale(0.84,1)" font-size="5.4" text-anchor="middle" fill="#333"  stroke="#333" stroke-width="0.08">−0.5</text>
<path d="M442.6 354.2v1.6" stroke="#555" stroke-width="0.4"/>
<text transform="translate(442.6,361.6) rotate(0.05) scale(0.84,1)" font-size="5.4" text-anchor="middle" fill="#333"  stroke="#333" stroke-width="0.08">0.0</text>
<path d="M470.6 354.2v1.6" stroke="#555" stroke-width="0.4"/>
<text transform="translate(470.55,361.6) rotate(0.05) scale(0.84,1)" font-size="5.4" text-anchor="middle" fill="#333"  stroke="#333" stroke-width="0.08">0.5</text>
<path d="M498.5 354.2v1.6" stroke="#555" stroke-width="0.4"/>
<text transform="translate(498.5,361.6) rotate(0.05) scale(0.84,1)" font-size="5.4" text-anchor="middle" fill="#333"  stroke="#333" stroke-width="0.08">1.0</text>
<text x="442.7" y="369.5" font-size="6.8" text-anchor="middle" textLength="89.6" lengthAdjust="spacingAndGlyphs" stroke="#111" stroke-width="0.09">Differential Abundance (DA) Score</text>
<defs><linearGradient id="pv" x1="0" y1="1" x2="0" y2="0"><stop offset="0" stop-color="#ff0000"/><stop offset="0.12" stop-color="#ff5a14"/><stop offset="0.25" stop-color="#f0a028"/><stop offset="0.36" stop-color="#b4c81e"/><stop offset="0.5" stop-color="#28d228"/><stop offset="0.62" stop-color="#14dca0"/><stop offset="0.72" stop-color="#1edcf0"/><stop offset="0.85" stop-color="#6e96f5"/><stop offset="1" stop-color="#c850ff"/></linearGradient></defs>
<text transform="translate(524.8,136.4) rotate(0.05)" font-size="5.9"  stroke="#111" stroke-width="0.08">P−value</text>
<rect x="525.2" y="140.5" width="9.1" height="53.6" fill="url(#pv)"/>
<text transform="translate(537.4,143.7) rotate(0.05) scale(0.92,1)" font-size="5.1" fill="#222"  stroke="#222" stroke-width="0.07">1.00</text>
<text transform="translate(537.4,156.8) rotate(0.05) scale(0.92,1)" font-size="5.1" fill="#222"  stroke="#222" stroke-width="0.07">0.75</text>
<text transform="translate(537.4,169.9) rotate(0.05) scale(0.92,1)" font-size="5.1" fill="#222"  stroke="#222" stroke-width="0.07">0.50</text>
<text transform="translate(537.4,183) rotate(0.05) scale(0.92,1)" font-size="5.1" fill="#222"  stroke="#222" stroke-width="0.07">0.25</text>
<text transform="translate(537.4,196.1) rotate(0.05) scale(0.92,1)" font-size="5.1" fill="#222"  stroke="#222" stroke-width="0.07">0.00</text>
<text transform="translate(524.8,213.5) rotate(0.05) scale(0.9,1)" font-size="6.4"  stroke="#111" stroke-width="0.09">Count</text>
<ellipse cx="530.1" cy="223.6" rx="2.6" ry="2.9" fill="#000"/>
<text transform="translate(537.4,225.4) rotate(0.05) scale(0.92,1)" font-size="5.1" fill="#222"  stroke="#222" stroke-width="0.07">10</text>
<ellipse cx="530.1" cy="234.6" rx="3.2" ry="3.9" fill="#000"/>
<text transform="translate(537.4,236.4) rotate(0.05) scale(0.92,1)" font-size="5.1" fill="#222"  stroke="#222" stroke-width="0.07">20</text>
</g>
<defs><linearGradient id="hm" x1="0" y1="0" x2="0" y2="1"><stop offset="0.000" stop-color="#b4001e"/><stop offset="0.150" stop-color="#ff5a32"/><stop offset="0.233" stop-color="#ff8c46"/><stop offset="0.350" stop-color="#ffbe64"/><stop offset="0.500" stop-color="#ffffb8"/><stop offset="0.667" stop-color="#8edc62"/><stop offset="0.767" stop-color="#4dc95a"/><stop offset="0.867" stop-color="#18c062"/><stop offset="1.000" stop-color="#005a32"/></linearGradient></defs>
<g id="panelD">
<g shape-rendering="crispEdges"><rect x="29.9" y="391.7" width="17.87" height="4.4" fill="#ff6436"/><rect x="47.62" y="391.7" width="17.87" height="4.4" fill="#ff8242"/><rect x="65.34" y="391.7" width="17.87" height="4.4" fill="#ffa655"/><rect x="83.06" y="391.7" width="17.87" height="4.4" fill="#ffa655"/><rect x="100.78" y="391.7" width="17.87" height="4.4" fill="#21c261"/><rect x="118.5" y="391.7" width="17.87" height="4.4" fill="#63cf5d"/><rect x="136.22" y="391.7" width="17.87" height="4.4" fill="#4ac85b"/><rect x="153.94" y="391.7" width="17.87" height="4.4" fill="#57cc5b"/><rect x="29.9" y="395.95" width="17.87" height="4.4" fill="#ff783e"/><rect x="47.62" y="395.95" width="17.87" height="4.4" fill="#ffa655"/><rect x="65.34" y="395.95" width="17.87" height="4.4" fill="#ff8041"/><rect x="83.06" y="395.95" width="17.87" height="4.4" fill="#ff8d46"/><rect x="100.78" y="395.95" width="17.87" height="4.4" fill="#57cc5b"/><rect x="118.5" y="395.95" width="17.87" height="4.4" fill="#51ca5a"/><rect x="136.22" y="395.95" width="17.87" height="4.4" fill="#54cb5b"/><rect x="153.94" y="395.95" width="17.87" height="4.4" fill="#4cc95a"/><rect x="29.9" y="400.19" width="17.87" height="4.4" fill="#ff8945"/><rect x="47.62" y="400.19" width="17.87" height="4.4" fill="#ff8342"/><rect x="65.34" y="400.19" width="17.87" height="4.4" fill="#ff8b46"/><rect x="83.06" y="400.19" width="17.87" height="4.4" fill="#ff8644"/><rect x="100.78" y="400.19" width="17.87" height="4.4" fill="#54cb5b"/><rect x="118.5" y="400.19" width="17.87" height="4.4" fill="#4ac95a"/><rect x="136.22" y="400.19" width="17.87" height="4.4" fill="#56cc5b"/><rect x="153.94" y="400.19" width="17.87" height="4.4" fill="#53cb5b"/><rect x="29.9" y="404.44" width="17.87" height="4.4" fill="#ff8f48"/><rect x="47.62" y="404.44" width="17.87" height="4.4" fill="#ff944b"/><rect x="65.34" y="404.44" width="17.87" height="4.4" fill="#ff8342"/><rect x="83.06" y="404.44" width="17.87" height="4.4" fill="#ff8c46"/><rect x="100.78" y="404.44" width="17.87" height="4.4" fill="#55cb5b"/><rect x="118.5" y="404.44" width="17.87" height="4.4" fill="#58cc5b"/><rect x="136.22" y="404.44" width="17.87" height="4.4" fill="#55cb5b"/><rect x="153.94" y="404.44" width="17.87" height="4.4" fill="#59cc5b"/><rect x="29.9" y="408.69" width="17.87" height="4.4" fill="#ff8e47"/><rect x="47.62" y="408.69" width="17.87" height="4.4" fill="#ff8543"/><rect x="65.34" y="408.69" width="17.87" height="4.4" fill="#ff8d47"/><rect x="83.06" y="408.69" width="17.87" height="4.4" fill="#ff8242"/><rect x="100.78" y="408.69" width="17.87" height="4.4" fill="#58cc5b"/><rect x="118.5" y="408.69" width="17.87" height="4.4" fill="#4bc95a"/><rect x="136.22" y="408.69" width="17.87" height="4.4" fill="#4bc95a"/><rect x="153.94" y="408.69" width="17.87" height="4.4" fill="#4dc95a"/><rect x="29.9" y="412.94" width="17.87" height="4.4" fill="#ff8142"/><rect x="47.62" y="412.94" width="17.87" height="4.4" fill="#ff8d47"/><rect x="65.34" y="412.94" width="17.87" height="4.4" fill="#ff8945"/><rect x="83.06" y="412.94" width="17.87" height="4.4" fill="#ff8f48"/><rect x="100.78" y="412.94" width="17.87" height="4.4" fill="#51ca5b"/><rect x="118.5" y="412.94" width="17.87" height="4.4" fill="#4fca5a"/><rect x="136.22" y="412.94" width="17.87" height="4.4" fill="#4fca5a"/><rect x="153.94" y="412.94" width="17.87" height="4.4" fill="#53cb5b"/><rect x="29.9" y="417.18" width="17.87" height="4.4" fill="#ff8a45"/><rect x="47.62" y="417.18" width="17.87" height="4.4" fill="#ff8242"/><rect x="65.34" y="417.18" width="17.87" height="4.4" fill="#ff8844"/><rect x="83.06" y="417.18" width="17.87" height="4.4" fill="#ff8242"/><rect x="100.78" y="417.18" width="17.87" height="4.4" fill="#58cc5b"/><rect x="118.5" y="417.18" width="17.87" height="4.4" fill="#5acd5c"/><rect x="136.22" y="417.18" width="17.87" height="4.4" fill="#54cb5b"/><rect x="153.94" y="417.18" width="17.87" height="4.4" fill="#4cc95a"/><rect x="29.9" y="421.43" width="17.87" height="4.4" fill="#ff8343"/><rect x="47.62" y="421.43" width="17.87" height="4.4" fill="#ff8142"/><rect x="65.34" y="421.43" width="17.87" height="4.4" fill="#ff8242"/><rect x="83.06" y="421.43" width="17.87" height="4.4" fill="#ff8a45"/><rect x="100.78" y="421.43" width="17.87" height="4.4" fill="#55cb5b"/><rect x="118.5" y="421.43" width="17.87" height="4.4" fill="#4cc95a"/><rect x="136.22" y="421.43" width="17.87" height="4.4" fill="#57cc5b"/><rect x="153.94" y="421.43" width="17.87" height="4.4" fill="#53cb5b"/><rect x="29.9" y="425.68" width="17.87" height="4.4" fill="#ff9048"/><rect x="47.62" y="425.68" width="17.87" height="4.4" fill="#ff934a"/><rect x="65.34" y="425.68" width="17.87" height="4.4" fill="#ff8443"/><rect x="83.06" y="425.68" width="17.87" height="4.4" fill="#ff8041"/><rect x="100.78" y="425.68" width="17.87" height="4.4" fill="#4bc95a"/><rect x="118.5" y="425.68" width="17.87" height="4.4" fill="#57cc5b"/><rect x="136.22" y="425.68" width="17.87" height="4.4" fill="#50ca5a"/><rect x="153.94" y="425.68" width="17.87" height="4.4" fill="#4cc95a"/><rect x="29.9" y="429.92" width="17.87" height="4.4" fill="#ff9048"/><rect x="47.62" y="429.92" width="17.87" height="4.4" fill="#ff8643"/><rect x="65.34" y="429.92" width="17.87" height="4.4" fill="#ff6e3a"/><rect x="83.06" y="429.92" width="17.87" height="4.4" fill="#ffa153"/><rect x="100.78" y="429.92" width="17.87" height="4.4" fill="#53cb5b"/><rect x="118.5" y="429.92" width="17.87" height="4.4" fill="#4ac95a"/><rect x="136.22" y="429.92" width="17.87" height="4.4" fill="#55cb5b"/><rect x="153.94" y="429.92" width="17.87" height="4.4" fill="#4ec95a"/><rect x="29.9" y="434.17" width="17.87" height="4.4" fill="#ff8342"/><rect x="47.62" y="434.17" width="17.87" height="4.4" fill="#ff8041"/><rect x="65.34" y="434.17" width="17.87" height="4.4" fill="#ff6838"/><rect x="83.06" y="434.17" width="17.87" height="4.4" fill="#ffa153"/><rect x="100.78" y="434.17" width="17.87" height="4.4" fill="#4ec95a"/><rect x="118.5" y="434.17" width="17.87" height="4.4" fill="#4bc95a"/><rect x="136.22" y="434.17" width="17.87" height="4.4" fill="#53cb5b"/><rect x="153.94" y="434.17" width="17.87" height="4.4" fill="#4ac85a"/><rect x="29.9" y="438.42" width="17.87" height="4.4" fill="#ff9149"/><rect x="47.62" y="438.42" width="17.87" height="4.4" fill="#ff8e47"/><rect x="65.34" y="438.42" width="17.87" height="4.4" fill="#ff6e3a"/><rect x="83.06" y="438.42" width="17.87" height="4.4" fill="#ffa052"/><rect x="100.78" y="438.42" width="17.87" height="4.4" fill="#4ac95a"/><rect x="118.5" y="438.42" width="17.87" height="4.4" fill="#2ac35f"/><rect x="136.22" y="438.42" width="17.87" height="4.4" fill="#4ec95a"/><rect x="153.94" y="438.42" width="17.87" height="4.4" fill="#59cd5c"/><rect x="29.9" y="442.66" width="17.87" height="4.4" fill="#ff8242"/><rect x="47.62" y="442.66" width="17.87" height="4.4" fill="#ff8e47"/><rect x="65.34" y="442.66" width="17.87" height="4.4" fill="#ff8d46"/><rect x="83.06" y="442.66" width="17.87" height="4.4" fill="#ff8c46"/><rect x="100.78" y="442.66" width="17.87" height="4.4" fill="#54cb5b"/><rect x="118.5" y="442.66" width="17.87" height="4.4" fill="#2ac35f"/><rect x="136.22" y="442.66" width="17.87" height="4.4" fill="#52cb5b"/><rect x="153.94" y="442.66" width="17.87" height="4.4" fill="#53cb5b"/><rect x="29.9" y="446.91" width="17.87" height="4.4" fill="#ff9d50"/><rect x="47.62" y="446.91" width="17.87" height="4.4" fill="#ff8c46"/><rect x="65.34" y="446.91" width="17.87" height="4.4" fill="#ff8d47"/><rect x="83.06" y="446.91" width="17.87" height="4.4" fill="#ff8744"/><rect x="100.78" y="446.91" width="17.87" height="4.4" fill="#4dc95a"/><rect x="118.5" y="446.91" width="17.87" height="4.4" fill="#33c45e"/><rect x="136.22" y="446.91" width="17.87" height="4.4" fill="#5acd5c"/><rect x="153.94" y="446.91" width="17.87" height="4.4" fill="#52ca5b"/><rect x="29.9" y="451.16" width="17.87" height="4.4" fill="#ff8b46"/><rect x="47.62" y="451.16" width="17.87" height="4.4" fill="#ff743c"/><rect x="65.34" y="451.16" width="17.87" height="4.4" fill="#ff8d47"/><rect x="83.06" y="451.16" width="17.87" height="4.4" fill="#ffa957"/><rect x="100.78" y="451.16" width="17.87" height="4.4" fill="#4ac85a"/><rect x="118.5" y="451.16" width="17.87" height="4.4" fill="#33c45e"/><rect x="136.22" y="451.16" width="17.87" height="4.4" fill="#54cb5b"/><rect x="153.94" y="451.16" width="17.87" height="4.4" fill="#4ac95a"/><rect x="29.9" y="455.4" width="17.87" height="4.4" fill="#ffa052"/><rect x="47.62" y="455.4" width="17.87" height="4.4" fill="#ff6e3a"/><rect x="65.34" y="455.4" width="17.87" height="4.4" fill="#ff8844"/><rect x="83.06" y="455.4" width="17.87" height="4.4" fill="#ffa655"/><rect x="100.78" y="455.4" width="17.87" height="4.4" fill="#55cb5b"/><rect x="118.5" y="455.4" width="17.87" height="4.4" fill="#26c260"/><rect x="136.22" y="455.4" width="17.87" height="4.4" fill="#4ac85a"/><rect x="153.94" y="455.4" width="17.87" height="4.4" fill="#4ac95a"/><rect x="29.9" y="459.65" width="17.87" height="4.4" fill="#ffa655"/><rect x="47.62" y="459.65" width="17.87" height="4.4" fill="#ff6034"/><rect x="65.34" y="459.65" width="17.87" height="4.4" fill="#ffa957"/><rect x="83.06" y="459.65" width="17.87" height="4.4" fill="#ff8d46"/><rect x="100.78" y="459.65" width="17.87" height="4.4" fill="#53cb5b"/><rect x="118.5" y="459.65" width="17.87" height="4.4" fill="#4ec95a"/><rect x="136.22" y="459.65" width="17.87" height="4.4" fill="#4fca5a"/><rect x="153.94" y="459.65" width="17.87" height="4.4" fill="#4ec95a"/><rect x="29.9" y="463.9" width="17.87" height="4.4" fill="#ffa655"/><rect x="47.62" y="463.9" width="17.87" height="4.4" fill="#ff8844"/><rect x="65.34" y="463.9" width="17.87" height="4.4" fill="#ff8c46"/><rect x="83.06" y="463.9" width="17.87" height="4.4" fill="#ff8844"/><rect x="100.78" y="463.9" width="17.87" height="4.4" fill="#56cc5b"/><rect x="118.5" y="463.9" width="17.87" height="4.4" fill="#4ac85a"/><rect x="136.22" y="463.9" width="17.87" height="4.4" fill="#53cb5b"/><rect x="153.94" y="463.9" width="17.87" height="4.4" fill="#55cb5b"/><rect x="29.9" y="468.15" width="17.87" height="4.4" fill="#58cc5b"/><rect x="47.62" y="468.15" width="17.87" height="4.4" fill="#58cc5b"/><rect x="65.34" y="468.15" width="17.87" height="4.4" fill="#63cf5d"/><rect x="83.06" y="468.15" width="17.87" height="4.4" fill="#4dc95a"/><rect x="100.78" y="468.15" width="17.87" height="4.4" fill="#b4001e"/><rect x="118.5" y="468.15" width="17.87" height="4.4" fill="#ffcc77"/><rect x="136.22" y="468.15" width="17.87" height="4.4" fill="#ffa957"/><rect x="153.94" y="468.15" width="17.87" height="4.4" fill="#ffb05b"/><rect x="29.9" y="472.39" width="17.87" height="4.4" fill="#4dc95a"/><rect x="47.62" y="472.39" width="17.87" height="4.4" fill="#78d65f"/><rect x="65.34" y="472.39" width="17.87" height="4.4" fill="#4dc95a"/><rect x="83.06" y="472.39" width="17.87" height="4.4" fill="#33c45e"/><rect x="100.78" y="472.39" width="17.87" height="4.4" fill="#ff5a32"/><rect x="118.5" y="472.39" width="17.87" height="4.4" fill="#ff9a4f"/><rect x="136.22" y="472.39" width="17.87" height="4.4" fill="#ff8242"/><rect x="153.94" y="472.39" width="17.87" height="4.4" fill="#ffa153"/><rect x="29.9" y="476.64" width="17.87" height="4.4" fill="#2ac35f"/><rect x="47.62" y="476.64" width="17.87" height="4.4" fill="#51ca5b"/><rect x="65.34" y="476.64" width="17.87" height="4.4" fill="#48c85b"/><rect x="83.06" y="476.64" width="17.87" height="4.4" fill="#2dc45f"/><rect x="100.78" y="476.64" width="17.87" height="4.4" fill="#ff964c"/><rect x="118.5" y="476.64" width="17.87" height="4.4" fill="#ffa555"/><rect x="136.22" y="476.64" width="17.87" height="4.4" fill="#ff8a45"/><rect x="153.94" y="476.64" width="17.87" height="4.4" fill="#ff8844"/><rect x="29.9" y="480.89" width="17.87" height="4.4" fill="#44c85b"/><rect x="47.62" y="480.89" width="17.87" height="4.4" fill="#4ac85a"/><rect x="65.34" y="480.89" width="17.87" height="4.4" fill="#62cf5d"/><rect x="83.06" y="480.89" width="17.87" height="4.4" fill="#21c261"/><rect x="100.78" y="480.89" width="17.87" height="4.4" fill="#ff8a45"/><rect x="118.5" y="480.89" width="17.87" height="4.4" fill="#ffa957"/><rect x="136.22" y="480.89" width="17.87" height="4.4" fill="#ffa756"/><rect x="153.94" y="480.89" width="17.87" height="4.4" fill="#ffa052"/><rect x="29.9" y="485.13" width="17.87" height="4.4" fill="#21c261"/><rect x="47.62" y="485.13" width="17.87" height="4.4" fill="#49c85b"/><rect x="65.34" y="485.13" width="17.87" height="4.4" fill="#4cc95a"/><rect x="83.06" y="485.13" width="17.87" height="4.4" fill="#50ca5a"/><rect x="100.78" y="485.13" width="17.87" height="4.4" fill="#ff9b4f"/><rect x="118.5" y="485.13" width="17.87" height="4.4" fill="#ff9b4f"/><rect x="136.22" y="485.13" width="17.87" height="4.4" fill="#ff8342"/><rect x="153.94" y="485.13" width="17.87" height="4.4" fill="#ffa656"/><rect x="29.9" y="489.38" width="17.87" height="4.4" fill="#3fc75c"/><rect x="47.62" y="489.38" width="17.87" height="4.4" fill="#69d15d"/><rect x="65.34" y="489.38" width="17.87" height="4.4" fill="#21c261"/><rect x="83.06" y="489.38" width="17.87" height="4.4" fill="#6bd25e"/><rect x="100.78" y="489.38" width="17.87" height="4.4" fill="#ff9a4f"/><rect x="118.5" y="489.38" width="17.87" height="4.4" fill="#ffb05b"/><rect x="136.22" y="489.38" width="17.87" height="4.4" fill="#ff8242"/><rect x="153.94" y="489.38" width="17.87" height="4.4" fill="#ffa354"/><rect x="29.9" y="493.63" width="17.87" height="4.4" fill="#5fce5c"/><rect x="47.62" y="493.63" width="17.87" height="4.4" fill="#64d05d"/><rect x="65.34" y="493.63" width="17.87" height="4.4" fill="#2ac35f"/><rect x="83.06" y="493.63" width="17.87" height="4.4" fill="#54cb5b"/><rect x="100.78" y="493.63" width="17.87" height="4.4" fill="#ffa957"/><rect x="118.5" y="493.63" width="17.87" height="4.4" fill="#ff9e51"/><rect x="136.22" y="493.63" width="17.87" height="4.4" fill="#ffa354"/><rect x="153.94" y="493.63" width="17.87" height="4.4" fill="#ff6436"/><rect x="29.9" y="497.88" width="17.87" height="4.4" fill="#33c45e"/><rect x="47.62" y="497.88" width="17.87" height="4.4" fill="#4ac85a"/><rect x="65.34" y="497.88" width="17.87" height="4.4" fill="#62cf5d"/><rect x="83.06" y="497.88" width="17.87" height="4.4" fill="#41c75c"/><rect x="100.78" y="497.88" width="17.87" height="4.4" fill="#ffa655"/><rect x="118.5" y="497.88" width="17.87" height="4.4" fill="#ff8f48"/><rect x="136.22" y="497.88" width="17.87" height="4.4" fill="#ff8342"/><rect x="153.94" y="497.88" width="17.87" height="4.4" fill="#ff5c33"/><rect x="29.9" y="502.12" width="17.87" height="4.4" fill="#2ac35f"/><rect x="47.62" y="502.12" width="17.87" height="4.4" fill="#57cc5b"/><rect x="65.34" y="502.12" width="17.87" height="4.4" fill="#3fc75c"/><rect x="83.06" y="502.12" width="17.87" height="4.4" fill="#5fce5c"/><rect x="100.78" y="502.12" width="17.87" height="4.4" fill="#ffa555"/><rect x="118.5" y="502.12" width="17.87" height="4.4" fill="#ffa052"/><rect x="136.22" y="502.12" width="17.87" height="4.4" fill="#ff9049"/><rect x="153.94" y="502.12" width="17.87" height="4.4" fill="#ff783e"/><rect x="29.9" y="506.37" width="17.87" height="4.4" fill="#4fca5a"/><rect x="47.62" y="506.37" width="17.87" height="4.4" fill="#68d15d"/><rect x="65.34" y="506.37" width="17.87" height="4.4" fill="#59cc5b"/><rect x="83.06" y="506.37" width="17.87" height="4.4" fill="#4cc95a"/><rect x="100.78" y="506.37" width="17.87" height="4.4" fill="#ffa253"/><rect x="118.5" y="506.37" width="17.87" height="4.4" fill="#ff8644"/><rect x="136.22" y="506.37" width="17.87" height="4.4" fill="#ff984d"/><rect x="153.94" y="506.37" width="17.87" height="4.4" fill="#ff7c40"/></g>
<rect x="29.9" y="388.5" width="70.9" height="2.4" fill="#f2590d"/>
<rect x="100.8" y="388.5" width="70.9" height="2.4" fill="#1b9e77"/>
<rect x="26.5" y="391.7" width="2.6" height="118.9" fill="#52cdc6"/>
<rect x="26.5" y="480.9" width="2.6" height="8.5" fill="#ffffb3"/>
<text transform="translate(173.1,390.3) rotate(0.05)" font-size="2.66" fill="#222" >Group</text>
<text transform="translate(173.1,394.82) rotate(0.05)" font-size="2.62" fill="#222" >Butein</text>
<text transform="translate(173.1,399.07) rotate(0.05)" font-size="2.62" fill="#222" >Luteolin (5,7,3',4'-Tetrahydroxyflavone)</text>
<text transform="translate(173.1,403.32) rotate(0.05)" font-size="2.62" fill="#222" >Galangin (3,5,7-Trihydroxyflavone)</text>
<text transform="translate(173.1,407.56) rotate(0.05)" font-size="2.62" fill="#222" >7,4'-Dihydroxyflavone</text>
<text transform="translate(173.1,411.81) rotate(0.05)" font-size="2.62" fill="#222" >3,4,2',4',6'-Pentahydroxychalcone-4'-O-glucoside</text>
<text transform="translate(173.1,416.06) rotate(0.05)" font-size="2.62" fill="#222" >Eriodictyol*</text>
<text transform="translate(173.1,420.31) rotate(0.05)" font-size="2.62" fill="#222" >Apigenin; 4',5,7-Trihydroxyflavone</text>
<text transform="translate(173.1,424.55) rotate(0.05)" font-size="2.62" fill="#222" >Tricetin (5,7,3',4',5'-Pentahydroxyflavone)</text>
<text transform="translate(173.1,428.8) rotate(0.05)" font-size="2.62" fill="#222" >Butin; 7,3',4'-Trihydroxyflavanone*</text>
<text transform="translate(173.1,433.05) rotate(0.05)" font-size="2.62" fill="#222" >Isoliquiritigenin</text>
<text transform="translate(173.1,437.29) rotate(0.05)" font-size="2.62" fill="#222" >Liquiritigenin</text>
<text transform="translate(173.1,441.54) rotate(0.05)" font-size="2.62" fill="#222" >3,5,7-Trihydroxyflavanone (Pinobanksin)</text>
<text transform="translate(173.1,445.79) rotate(0.05)" font-size="2.62" fill="#222" >Naringenin chalcone; 2',4,4',6'-Tetrahydroxychalcone</text>
<text transform="translate(173.1,450.03) rotate(0.05)" font-size="2.62" fill="#222" >Naringenin (5,7,4'-Trihydroxyflavanone)*</text>
<text transform="translate(173.1,454.28) rotate(0.05)" font-size="2.62" fill="#222" >Aromadendrin (Dihydrokaempferol)</text>
<text transform="translate(173.1,458.53) rotate(0.05)" font-size="2.62" fill="#222" >Pinocembrin (Dihydrochrysin)</text>
<text transform="translate(173.1,462.78) rotate(0.05)" font-size="2.62" fill="#222" >Phloretin</text>
<text transform="translate(173.1,467.02) rotate(0.05)" font-size="2.62" fill="#222" >Kaempferol (3,5,7,4'-Tetrahydroxyflavone)</text>
<text transform="translate(173.1,471.27) rotate(0.05)" font-size="2.62" fill="#222" >Taxifolin(Dihydroquercetin)</text>
<text transform="translate(173.1,475.52) rotate(0.05)" font-size="2.62" fill="#222" >Hesperetin-7-O-neohesperidoside(Neohesperidin)</text>
<text transform="translate(173.1,479.76) rotate(0.05)" font-size="2.62" fill="#222" >Naringenin-7-O-glucoside (Prunin)*</text>
<text transform="translate(173.1,484.01) rotate(0.05)" font-size="2.62" fill="#222" >5-O-p-Coumaroylquinic acid*</text>
<text transform="translate(173.1,488.26) rotate(0.05)" font-size="2.62" fill="#222" >Chlorogenic acid (3-O-Caffeoylquinic acid)*</text>
<text transform="translate(173.1,492.5) rotate(0.05)" font-size="2.62" fill="#222" >Apigenin-6-C-Glucoside (Isovitexin)*</text>
<text transform="translate(173.1,496.75) rotate(0.05)" font-size="2.62" fill="#222" >Hesperetin</text>
<text transform="translate(173.1,501) rotate(0.05)" font-size="2.62" fill="#222" >Epigallocatechin</text>
<text transform="translate(173.1,505.25) rotate(0.05)" font-size="2.62" fill="#222" >Homoeriodictyol</text>
<text transform="translate(173.1,509.49) rotate(0.05)" font-size="2.62" fill="#222" >Catechin*</text>
<text transform="translate(29.5,512.9) rotate(-45)" font-size="2.7" text-anchor="end" fill="#000"  stroke="#000" stroke-width="0.07">Class</text>
<text transform="translate(39.96,512.9) rotate(-45)" font-size="2.7" text-anchor="end" fill="#000"  stroke="#000" stroke-width="0.07">SoybeanStraw_22</text>
<text transform="translate(57.68,512.9) rotate(-45)" font-size="2.7" text-anchor="end" fill="#000"  stroke="#000" stroke-width="0.07">SoybeanStraw_27</text>
<text transform="translate(75.4,512.9) rotate(-45)" font-size="2.7" text-anchor="end" fill="#000"  stroke="#000" stroke-width="0.07">SoybeanStraw_24</text>
<text transform="translate(93.12,512.9) rotate(-45)" font-size="2.7" text-anchor="end" fill="#000"  stroke="#000" stroke-width="0.07">SoybeanStraw_26</text>
<text transform="translate(110.84,512.9) rotate(-45)" font-size="2.7" text-anchor="end" fill="#000"  stroke="#000" stroke-width="0.07">CornStraw_28</text>
<text transform="translate(128.56,512.9) rotate(-45)" font-size="2.7" text-anchor="end" fill="#000"  stroke="#000" stroke-width="0.07">CornStraw_27</text>
<text transform="translate(146.28,512.9) rotate(-45)" font-size="2.7" text-anchor="end" fill="#000"  stroke="#000" stroke-width="0.07">CornStraw_26</text>
<text transform="translate(164,512.9) rotate(-45)" font-size="2.7" text-anchor="end" fill="#000"  stroke="#000" stroke-width="0.07">CornStraw_24</text>
<path d="M74.2 388.5V387.6H91.92V388.5M56.48 388.5V387.2H83.06V387.6M38.76 388.5V386.7H69.77V387.2M145.08 388.5V387.3H162.8V388.5M127.36 388.5V386.4H153.94V387.3M109.64 388.5V385.1H140.65V386.4M54.27 386.7V374.4H125.14V385.1" stroke="#5a5a5a" stroke-width="0.4" fill="none"/>
<path d="M26.6 398.07H26.26V402.32H26.6M26.6 393.82H26.01V400.19H26.26M26.01 397.01H25.76V406.56H26.6M26.6 410.81H26.25V415.06H26.6M25.76 401.79H25.51V412.93H26.25M26.6 427.8H26.27V432.05H26.6M26.6 423.55H26.02V429.92H26.27M26.6 419.31H25.77V426.74H26.02M25.51 407.36H24.99V423.02H25.77M26.6 436.29H26.28V440.54H26.6M26.6 453.28H26.29V457.53H26.6M26.6 449.03H26.04V455.4H26.29M26.6 444.79H25.79V452.22H26.04M26.6 461.78H26.3V466.02H26.6M25.79 448.5H25.53V463.9H26.3M26.28 438.42H25.28V456.2H25.53M24.99 415.19H24V447.31H25.28M26.6 474.52H26.13V478.76H26.6M26.6 483.01H26.16V487.26H26.6M26.16 485.13H25.89V491.5H26.6M25.89 488.32H25.64V495.75H26.6M26.13 476.64H25.33V492.04H25.64M26.6 504.25H26.16V508.49H26.6M26.6 500H25.85V506.37H26.16M25.33 484.34H24.6V503.18H25.85M26.6 470.27H22V493.76H24.6M24 415.6H12.8V476.3H22" stroke="#555" stroke-width="0.3" fill="none"/>
<rect x="236.3" y="388" width="2.7" height="37.6" fill="url(#hm)"/>
<text transform="translate(240.1,392.5) rotate(0.05)" font-size="2.6" fill="#222" >1.5</text>
<text transform="translate(240.1,397.8) rotate(0.05)" font-size="2.6" fill="#222" >1</text>
<text transform="translate(240.1,402.8) rotate(0.05)" font-size="2.6" fill="#222" >0.5</text>
<text transform="translate(240.1,408.1) rotate(0.05)" font-size="2.6" fill="#222" >0</text>
<text transform="translate(240.1,413.2) rotate(0.05)" font-size="2.6" fill="#222" >-0.5</text>
<text transform="translate(240.1,418.3) rotate(0.05)" font-size="2.6" fill="#222" >-1</text>
<text transform="translate(240.1,423.3) rotate(0.05)" font-size="2.6" fill="#222" >-1.5</text>
<text transform="translate(245.5,390) rotate(0.05)" font-size="2.55" fill="#222" >Group</text>
<rect x="245.5" y="391" width="3.8" height="3.7" fill="#1b9e77"/>
<text transform="translate(250.4,393.9) rotate(0.05)" font-size="2.55" fill="#222" >CornStraw</text>
<rect x="245.5" y="395" width="3.8" height="3.6" fill="#f2590d"/>
<text transform="translate(250.4,397.8) rotate(0.05)" font-size="2.55" fill="#222" >SoybeanStraw</text>
<text transform="translate(245.5,403.2) rotate(0.05)" font-size="2.55" fill="#222" >Class</text>
<rect x="245.5" y="404.4" width="3.8" height="3.6" fill="#52cdc6"/>
<text transform="translate(250.4,407.2) rotate(0.05)" font-size="2.55" fill="#222" >Flavonoids</text>
<rect x="245.5" y="408.4" width="3.8" height="3.6" fill="#ffffb3"/>
<text transform="translate(250.4,411.2) rotate(0.05)" font-size="2.55" fill="#222" >Phenolic acids</text>
</g>
<g id="panelE">
<g shape-rendering="crispEdges"><rect x="287.8" y="392.6" width="18.71" height="6.61" fill="#fff1a5"/><rect x="306.36" y="392.6" width="18.71" height="6.61" fill="#ffbe64"/><rect x="324.92" y="392.6" width="18.71" height="6.61" fill="#ff6e3a"/><rect x="343.48" y="392.6" width="18.71" height="6.61" fill="#ff6e3a"/><rect x="362.04" y="392.6" width="18.71" height="6.61" fill="#99e06b"/><rect x="380.6" y="392.6" width="18.71" height="6.61" fill="#8edc62"/><rect x="399.16" y="392.6" width="18.71" height="6.61" fill="#83d961"/><rect x="417.72" y="392.6" width="18.71" height="6.61" fill="#4dc95a"/><rect x="287.8" y="399.06" width="18.71" height="6.61" fill="#f75030"/><rect x="306.36" y="399.06" width="18.71" height="6.61" fill="#ff934a"/><rect x="324.92" y="399.06" width="18.71" height="6.61" fill="#ffc26a"/><rect x="343.48" y="399.06" width="18.71" height="6.61" fill="#ffbe64"/><rect x="362.04" y="399.06" width="18.71" height="6.61" fill="#81d860"/><rect x="380.6" y="399.06" width="18.71" height="6.61" fill="#81d860"/><rect x="399.16" y="399.06" width="18.71" height="6.61" fill="#8edc62"/><rect x="417.72" y="399.06" width="18.71" height="6.61" fill="#81d860"/><rect x="287.8" y="405.51" width="18.71" height="6.61" fill="#ffa957"/><rect x="306.36" y="405.51" width="18.71" height="6.61" fill="#ff8242"/><rect x="324.92" y="405.51" width="18.71" height="6.61" fill="#ffb05b"/><rect x="343.48" y="405.51" width="18.71" height="6.61" fill="#ffab59"/><rect x="362.04" y="405.51" width="18.71" height="6.61" fill="#81d860"/><rect x="380.6" y="405.51" width="18.71" height="6.61" fill="#2ac35f"/><rect x="399.16" y="405.51" width="18.71" height="6.61" fill="#99e06b"/><rect x="417.72" y="405.51" width="18.71" height="6.61" fill="#81d860"/><rect x="287.8" y="411.97" width="18.71" height="6.61" fill="#ffb760"/><rect x="306.36" y="411.97" width="18.71" height="6.61" fill="#ff9a4f"/><rect x="324.92" y="411.97" width="18.71" height="6.61" fill="#ffa655"/><rect x="343.48" y="411.97" width="18.71" height="6.61" fill="#ffa052"/><rect x="362.04" y="411.97" width="18.71" height="6.61" fill="#81d860"/><rect x="380.6" y="411.97" width="18.71" height="6.61" fill="#81d860"/><rect x="399.16" y="411.97" width="18.71" height="6.61" fill="#81d860"/><rect x="417.72" y="411.97" width="18.71" height="6.61" fill="#81d860"/><rect x="287.8" y="418.42" width="18.71" height="6.61" fill="#ff974d"/><rect x="306.36" y="418.42" width="18.71" height="6.61" fill="#ff9a4f"/><rect x="324.92" y="418.42" width="18.71" height="6.61" fill="#ffb05b"/><rect x="343.48" y="418.42" width="18.71" height="6.61" fill="#ff9a4f"/><rect x="362.04" y="418.42" width="18.71" height="6.61" fill="#81d860"/><rect x="380.6" y="418.42" width="18.71" height="6.61" fill="#81d860"/><rect x="399.16" y="418.42" width="18.71" height="6.61" fill="#81d860"/><rect x="417.72" y="418.42" width="18.71" height="6.61" fill="#81d860"/><rect x="287.8" y="424.88" width="18.71" height="6.61" fill="#ff9a4f"/><rect x="306.36" y="424.88" width="18.71" height="6.61" fill="#ff9d50"/><rect x="324.92" y="424.88" width="18.71" height="6.61" fill="#ffb760"/><rect x="343.48" y="424.88" width="18.71" height="6.61" fill="#ffa052"/><rect x="362.04" y="424.88" width="18.71" height="6.61" fill="#81d860"/><rect x="380.6" y="424.88" width="18.71" height="6.61" fill="#81d860"/><rect x="399.16" y="424.88" width="18.71" height="6.61" fill="#81d860"/><rect x="417.72" y="424.88" width="18.71" height="6.61" fill="#83d961"/><rect x="287.8" y="431.33" width="18.71" height="6.61" fill="#a5e373"/><rect x="306.36" y="431.33" width="18.71" height="6.61" fill="#a0e270"/><rect x="324.92" y="431.33" width="18.71" height="6.61" fill="#a0e270"/><rect x="343.48" y="431.33" width="18.71" height="6.61" fill="#aee67a"/><rect x="362.04" y="431.33" width="18.71" height="6.61" fill="#b4001e"/><rect x="380.6" y="431.33" width="18.71" height="6.61" fill="#fff8af"/><rect x="399.16" y="431.33" width="18.71" height="6.61" fill="#fff1a5"/><rect x="417.72" y="431.33" width="18.71" height="6.61" fill="#ffcc77"/><rect x="287.8" y="437.79" width="18.71" height="6.61" fill="#78d55f"/><rect x="306.36" y="437.79" width="18.71" height="6.61" fill="#82d961"/><rect x="324.92" y="437.79" width="18.71" height="6.61" fill="#85d961"/><rect x="343.48" y="437.79" width="18.71" height="6.61" fill="#7bd760"/><rect x="362.04" y="437.79" width="18.71" height="6.61" fill="#ff9a4f"/><rect x="380.6" y="437.79" width="18.71" height="6.61" fill="#ffb45e"/><rect x="399.16" y="437.79" width="18.71" height="6.61" fill="#ffa052"/><rect x="417.72" y="437.79" width="18.71" height="6.61" fill="#ff8242"/><rect x="287.8" y="444.24" width="18.71" height="6.61" fill="#78d65f"/><rect x="306.36" y="444.24" width="18.71" height="6.61" fill="#7bd660"/><rect x="324.92" y="444.24" width="18.71" height="6.61" fill="#78d65f"/><rect x="343.48" y="444.24" width="18.71" height="6.61" fill="#77d55f"/><rect x="362.04" y="444.24" width="18.71" height="6.61" fill="#ffa555"/><rect x="380.6" y="444.24" width="18.71" height="6.61" fill="#ffb760"/><rect x="399.16" y="444.24" width="18.71" height="6.61" fill="#ffac59"/><rect x="417.72" y="444.24" width="18.71" height="6.61" fill="#ff8242"/><rect x="287.8" y="450.7" width="18.71" height="6.61" fill="#7ad660"/><rect x="306.36" y="450.7" width="18.71" height="6.61" fill="#84d961"/><rect x="324.92" y="450.7" width="18.71" height="6.61" fill="#79d65f"/><rect x="343.48" y="450.7" width="18.71" height="6.61" fill="#83d961"/><rect x="362.04" y="450.7" width="18.71" height="6.61" fill="#ffba62"/><rect x="380.6" y="450.7" width="18.71" height="6.61" fill="#ffb15c"/><rect x="399.16" y="450.7" width="18.71" height="6.61" fill="#ffb760"/><rect x="417.72" y="450.7" width="18.71" height="6.61" fill="#ff8844"/><rect x="287.8" y="457.15" width="18.71" height="6.61" fill="#89db61"/><rect x="306.36" y="457.15" width="18.71" height="6.61" fill="#86da61"/><rect x="324.92" y="457.15" width="18.71" height="6.61" fill="#7cd760"/><rect x="343.48" y="457.15" width="18.71" height="6.61" fill="#87da61"/><rect x="362.04" y="457.15" width="18.71" height="6.61" fill="#ffb760"/><rect x="380.6" y="457.15" width="18.71" height="6.61" fill="#ffb25d"/><rect x="399.16" y="457.15" width="18.71" height="6.61" fill="#ffa354"/><rect x="417.72" y="457.15" width="18.71" height="6.61" fill="#ff8c46"/><rect x="287.8" y="463.61" width="18.71" height="6.61" fill="#78d65f"/><rect x="306.36" y="463.61" width="18.71" height="6.61" fill="#6bd25e"/><rect x="324.92" y="463.61" width="18.71" height="6.61" fill="#7ad660"/><rect x="343.48" y="463.61" width="18.71" height="6.61" fill="#7bd760"/><rect x="362.04" y="463.61" width="18.71" height="6.61" fill="#ffa655"/><rect x="380.6" y="463.61" width="18.71" height="6.61" fill="#ffb45e"/><rect x="399.16" y="463.61" width="18.71" height="6.61" fill="#ffb55e"/><rect x="417.72" y="463.61" width="18.71" height="6.61" fill="#ffa957"/><rect x="287.8" y="470.06" width="18.71" height="6.61" fill="#78d65f"/><rect x="306.36" y="470.06" width="18.71" height="6.61" fill="#82d860"/><rect x="324.92" y="470.06" width="18.71" height="6.61" fill="#7bd660"/><rect x="343.48" y="470.06" width="18.71" height="6.61" fill="#5ece5c"/><rect x="362.04" y="470.06" width="18.71" height="6.61" fill="#ffb25d"/><rect x="380.6" y="470.06" width="18.71" height="6.61" fill="#ffb05b"/><rect x="399.16" y="470.06" width="18.71" height="6.61" fill="#ffa052"/><rect x="417.72" y="470.06" width="18.71" height="6.61" fill="#ffa957"/><rect x="287.8" y="476.52" width="18.71" height="6.61" fill="#99e06b"/><rect x="306.36" y="476.52" width="18.71" height="6.61" fill="#87da61"/><rect x="324.92" y="476.52" width="18.71" height="6.61" fill="#7ad660"/><rect x="343.48" y="476.52" width="18.71" height="6.61" fill="#79d65f"/><rect x="362.04" y="476.52" width="18.71" height="6.61" fill="#ffbe64"/><rect x="380.6" y="476.52" width="18.71" height="6.61" fill="#ff8242"/><rect x="399.16" y="476.52" width="18.71" height="6.61" fill="#ff9a4f"/><rect x="417.72" y="476.52" width="18.71" height="6.61" fill="#ffbe64"/><rect x="287.8" y="482.97" width="18.71" height="6.61" fill="#8edc62"/><rect x="306.36" y="482.97" width="18.71" height="6.61" fill="#89da61"/><rect x="324.92" y="482.97" width="18.71" height="6.61" fill="#7ad660"/><rect x="343.48" y="482.97" width="18.71" height="6.61" fill="#63cf5d"/><rect x="362.04" y="482.97" width="18.71" height="6.61" fill="#ffc56d"/><rect x="380.6" y="482.97" width="18.71" height="6.61" fill="#ff783e"/><rect x="399.16" y="482.97" width="18.71" height="6.61" fill="#ff934a"/><rect x="417.72" y="482.97" width="18.71" height="6.61" fill="#ffb760"/><rect x="287.8" y="489.43" width="18.71" height="6.61" fill="#a0e270"/><rect x="306.36" y="489.43" width="18.71" height="6.61" fill="#89db61"/><rect x="324.92" y="489.43" width="18.71" height="6.61" fill="#7bd660"/><rect x="343.48" y="489.43" width="18.71" height="6.61" fill="#84d961"/><rect x="362.04" y="489.43" width="18.71" height="6.61" fill="#ffb760"/><rect x="380.6" y="489.43" width="18.71" height="6.61" fill="#ff8c46"/><rect x="399.16" y="489.43" width="18.71" height="6.61" fill="#ffab59"/><rect x="417.72" y="489.43" width="18.71" height="6.61" fill="#ffb55e"/><rect x="287.8" y="495.88" width="18.71" height="6.61" fill="#33c45e"/><rect x="306.36" y="495.88" width="18.71" height="6.61" fill="#83d961"/><rect x="324.92" y="495.88" width="18.71" height="6.61" fill="#a5e373"/><rect x="343.48" y="495.88" width="18.71" height="6.61" fill="#8edc62"/><rect x="362.04" y="495.88" width="18.71" height="6.61" fill="#ff8c46"/><rect x="380.6" y="495.88" width="18.71" height="6.61" fill="#ff8242"/><rect x="399.16" y="495.88" width="18.71" height="6.61" fill="#ffa957"/><rect x="417.72" y="495.88" width="18.71" height="6.61" fill="#ffa655"/><rect x="287.8" y="502.34" width="18.71" height="6.61" fill="#88da61"/><rect x="306.36" y="502.34" width="18.71" height="6.61" fill="#7ad660"/><rect x="324.92" y="502.34" width="18.71" height="6.61" fill="#76d55f"/><rect x="343.48" y="502.34" width="18.71" height="6.61" fill="#7bd760"/><rect x="362.04" y="502.34" width="18.71" height="6.61" fill="#ff6436"/><rect x="380.6" y="502.34" width="18.71" height="6.61" fill="#ffa655"/><rect x="399.16" y="502.34" width="18.71" height="6.61" fill="#ffb861"/><rect x="417.72" y="502.34" width="18.71" height="6.61" fill="#ffb25d"/></g>
<rect x="287.8" y="389.2" width="74.2" height="2.7" fill="#f2590d"/>
<rect x="362" y="389.2" width="74.2" height="2.7" fill="#1b9e77"/>
<rect x="284.3" y="392.6" width="2.6" height="116.2" fill="#52cdc6"/>
<text transform="translate(437.3,391.9) rotate(0.05)" font-size="2.84" fill="#111" >Group</text>
<text transform="translate(437.3,397.08) rotate(0.05)" font-size="2.84" fill="#111" >Luteolin-7-O-neohesperidoside (Lonicerin)*</text>
<text transform="translate(437.3,403.53) rotate(0.05)" font-size="2.84" fill="#111" >Apigenin-7-O-glucoside(Cosmosiin)*</text>
<text transform="translate(437.3,409.99) rotate(0.05)" font-size="2.84" fill="#111" >Kaempferol-3-O-rutinoside(Nicotiflorin)</text>
<text transform="translate(437.3,416.44) rotate(0.05)" font-size="2.84" fill="#111" >Kaempferol (3,5,7,4'-Tetrahydroxyflavone)</text>
<text transform="translate(437.3,422.9) rotate(0.05)" font-size="2.84" fill="#111" >Apigenin; 4',5,7-Trihydroxyflavone</text>
<text transform="translate(437.3,429.35) rotate(0.05)" font-size="2.84" fill="#111" >Luteolin (5,7,3',4'-Tetrahydroxyflavone)</text>
<text transform="translate(437.3,435.81) rotate(0.05)" font-size="2.84" fill="#111" >Avicularin*</text>
<text transform="translate(437.3,442.26) rotate(0.05)" font-size="2.84" fill="#111" >Kaempferol-3-O-glucoside (Astragalin)*</text>
<text transform="translate(437.3,448.72) rotate(0.05)" font-size="2.84" fill="#111" >Luteolin-7-O-glucoside (Cynaroside)</text>
<text transform="translate(437.3,455.17) rotate(0.05)" font-size="2.84" fill="#111" >Kaempferol-3-O-rhamnoside (Afzelin)(Kaempferin)*</text>
<text transform="translate(437.3,461.63) rotate(0.05)" font-size="2.84" fill="#111" >Kaempferol-3-O-galactoside (Trifolin)*</text>
<text transform="translate(437.3,468.08) rotate(0.05)" font-size="2.84" fill="#111" >Vitexin-2''-O-glucoside</text>
<text transform="translate(437.3,474.54) rotate(0.05)" font-size="2.84" fill="#111" >Vitexin-2''-O-rhamnoside</text>
<text transform="translate(437.3,480.99) rotate(0.05)" font-size="2.84" fill="#111" >Apigenin-8-C-Glucoside (Vitexin)*</text>
<text transform="translate(437.3,487.45) rotate(0.05)" font-size="2.84" fill="#111" >Apigenin-7-O-neohesperidoside (Rhoifolin)*</text>
<text transform="translate(437.3,493.9) rotate(0.05)" font-size="2.84" fill="#111" >Apigenin-6-C-glucoside (Isovitexin)*</text>
<text transform="translate(437.3,500.36) rotate(0.05)" font-size="2.84" fill="#111" >Quercetin-3-O-glucoside (Isoquercitrin)</text>
<text transform="translate(437.3,506.81) rotate(0.05)" font-size="2.84" fill="#111" >Quercetin-3-O-(2''-O-Xylosyl)rutinoside</text>
<text transform="translate(287.2,511.2) rotate(-45)" font-size="2.7" text-anchor="end" fill="#000"  stroke="#000" stroke-width="0.07">Class</text>
<text transform="translate(298.48,511.2) rotate(-45)" font-size="2.7" text-anchor="end" fill="#000"  stroke="#000" stroke-width="0.07">SoybeanStraw_22</text>
<text transform="translate(317.04,511.2) rotate(-45)" font-size="2.7" text-anchor="end" fill="#000"  stroke="#000" stroke-width="0.07">SoybeanStraw_26</text>
<text transform="translate(335.6,511.2) rotate(-45)" font-size="2.7" text-anchor="end" fill="#000"  stroke="#000" stroke-width="0.07">SoybeanStraw_27</text>
<text transform="translate(354.16,511.2) rotate(-45)" font-size="2.7" text-anchor="end" fill="#000"  stroke="#000" stroke-width="0.07">SoybeanStraw_24</text>
<text transform="translate(372.72,511.2) rotate(-45)" font-size="2.7" text-anchor="end" fill="#000"  stroke="#000" stroke-width="0.07">CornStraw_26</text>
<text transform="translate(391.28,511.2) rotate(-45)" font-size="2.7" text-anchor="end" fill="#000"  stroke="#000" stroke-width="0.07">CornStraw_22</text>
<text transform="translate(409.84,511.2) rotate(-45)" font-size="2.7" text-anchor="end" fill="#000"  stroke="#000" stroke-width="0.07">CornStraw_27</text>
<text transform="translate(428.4,511.2) rotate(-45)" font-size="2.7" text-anchor="end" fill="#000"  stroke="#000" stroke-width="0.07">CornStraw_24</text>
<path d="M334.2 389.2V387.8H352.76V389.2M315.64 389.2V387H343.48V387.8M297.08 389.2V385.9H329.56V387M408.44 389.2V387.5H427V389.2M389.88 389.2V386.6H417.72V387.5M371.32 389.2V384.8H403.8V386.6M313.32 385.9V374.4H387.56V384.8" stroke="#5a5a5a" stroke-width="0.4" fill="none"/>
<path d="M279.1 402.2H269.6V460.6H278M283.9 395.83H279.1V408.3H281.7M283.9 402.28H281.7V414.4H282.5M283.9 408.74H282.5V420H283M283.9 415.19H283V424.8H283.4M283.9 421.65H283.4V428.1H283.9M283.9 441.01H283.51V447.47H283.9M283.9 453.92H283.56V460.38H283.9M283.51 444.24H283.15V457.15H283.56M283.9 473.29H283.53V479.74H283.9M283.9 466.83H283.28V476.51H283.53M283.9 486.2H283.56V492.65H283.9M283.28 471.67H282.87V489.43H283.56M283.15 450.7H282.2V480.55H282.87M283.9 499.11H283.1V505.56H283.9M282.2 465.62H281.5V502.34H283.1M283.9 434.56H278V483.98H281.5" stroke="#5a5a5a" stroke-width="0.35" fill="none"/>
<rect x="503.7" y="389" width="2.8" height="40.6" fill="url(#hm)"/>
<text transform="translate(507.9,391.9) rotate(0.05)" font-size="2.6" fill="#222" >2</text>
<text transform="translate(507.9,400.8) rotate(0.05)" font-size="2.6" fill="#222" >1</text>
<text transform="translate(507.9,410.1) rotate(0.05)" font-size="2.6" fill="#222" >0</text>
<text transform="translate(507.9,419.3) rotate(0.05)" font-size="2.6" fill="#222" >-1</text>
<text transform="translate(507.9,428.4) rotate(0.05)" font-size="2.6" fill="#222" >-2</text>
<text transform="translate(511.5,391.1) rotate(0.05)" font-size="2.85" fill="#222" >Group</text>
<rect x="511.5" y="392.2" width="3.9" height="3.8" fill="#1b9e77"/>
<text transform="translate(516.3,395.1) rotate(0.05)" font-size="2.85" fill="#222" >CornStraw</text>
<rect x="511.5" y="396.3" width="3.9" height="3.6" fill="#f2590d"/>
<text transform="translate(516.3,399.1) rotate(0.05)" font-size="2.85" fill="#222" >SoybeanStraw</text>
<text transform="translate(511.5,405.5) rotate(0.05)" font-size="2.85" fill="#222" >Class</text>
<rect x="511.5" y="406.7" width="3.9" height="3.9" fill="#52cdc6"/>
<text transform="translate(516.3,409.6) rotate(0.05)" font-size="2.85" fill="#222" >Flavonoids</text>
</g>
</svg></body></html>
